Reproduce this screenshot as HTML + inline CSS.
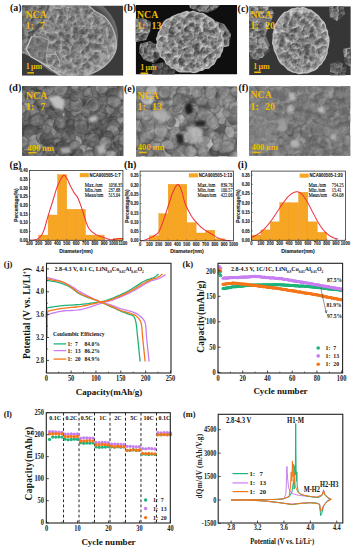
<!DOCTYPE html>
<html><head><meta charset="utf-8"><style>
html,body{margin:0;padding:0;background:#fff;}
body{width:356px;height:550px;overflow:hidden;position:relative;}
svg{position:absolute;left:0;top:0;display:block;}
.gr{fill:url(#gl);stroke:#505050;stroke-width:0.9}
.gg{fill:url(#rg);stroke:#3c3c3c;stroke-width:0.6;stroke-opacity:0.7}
.gh{fill:url(#rg);stroke:#444;stroke-width:0.5;stroke-opacity:0.35}
</style></head><body>
<svg width="356" height="550" viewBox="0 0 356 550">
<defs><filter id="ts" x="0" y="0" width="1" height="1" color-interpolation-filters="sRGB">
<feTurbulence type="fractalNoise" baseFrequency="0.2" numOctaves="4" seed="5" result="n"/>
<feColorMatrix in="n" type="matrix" values="0 0 0 0 0  0 0 0 0 0  0 0 0 0 0  2.0 0 0 0 -0.5" result="a"/>
<feDiffuseLighting in="a" surfaceScale="1.7" diffuseConstant="1.6" lighting-color="#fff" result="l"><feDistantLight azimuth="225" elevation="50"/></feDiffuseLighting>
<feColorMatrix in="n" type="matrix" values="1.6 0 0 0 -0.3  1.6 0 0 0 -0.3  1.6 0 0 0 -0.3  0 0 0 0 1" result="g"/>
<feBlend in="l" in2="g" mode="multiply" result="m"/>
<feGaussianBlur in="m" stdDeviation="0.35"/>
<feComposite in2="SourceAlpha" operator="in"/>
</filter>
<filter id="ts2" x="0" y="0" width="1" height="1" color-interpolation-filters="sRGB">
<feTurbulence type="fractalNoise" baseFrequency="0.2" numOctaves="4" seed="8" result="n"/>
<feColorMatrix in="n" type="matrix" values="0 0 0 0 0  0 0 0 0 0  0 0 0 0 0  2.0 0 0 0 -0.5" result="a"/>
<feDiffuseLighting in="a" surfaceScale="2.2" diffuseConstant="1.6" lighting-color="#fff" result="l"><feDistantLight azimuth="225" elevation="50"/></feDiffuseLighting>
<feColorMatrix in="n" type="matrix" values="1.3 0 0 0 -0.15  1.3 0 0 0 -0.15  1.3 0 0 0 -0.15  0 0 0 0 1" result="g"/>
<feBlend in="l" in2="g" mode="multiply" result="m"/>
<feGaussianBlur in="m" stdDeviation="0.3"/>
<feComposite in2="SourceAlpha" operator="in"/>
</filter>
<filter id="tg" x="0" y="0" width="1" height="1" color-interpolation-filters="sRGB">
<feTurbulence type="fractalNoise" baseFrequency="0.12" numOctaves="3" seed="9" result="n"/>
<feColorMatrix in="n" type="matrix" values="0 0 0 0 0  0 0 0 0 0  0 0 0 0 0  2.0 0 0 0 -0.5" result="a"/>
<feDiffuseLighting in="a" surfaceScale="2.0" diffuseConstant="1.0" lighting-color="#fff" result="l"><feDistantLight azimuth="235" elevation="55"/></feDiffuseLighting>
<feColorMatrix in="n" type="matrix" values="1.6 0 0 0 -0.2  1.6 0 0 0 -0.2  1.6 0 0 0 -0.2  0 0 0 0 1" result="g"/>
<feBlend in="l" in2="g" mode="multiply" result="m"/>
<feGaussianBlur in="m" stdDeviation="0.5"/>
<feComposite in2="SourceAlpha" operator="in"/>
</filter>
<filter id="tg2" x="0" y="0" width="1" height="1" color-interpolation-filters="sRGB">
<feTurbulence type="fractalNoise" baseFrequency="0.1" numOctaves="3" seed="12" result="n"/>
<feColorMatrix in="n" type="matrix" values="0 0 0 0 0  0 0 0 0 0  0 0 0 0 0  2.0 0 0 0 -0.5" result="a"/>
<feDiffuseLighting in="a" surfaceScale="2.2" diffuseConstant="1.0" lighting-color="#fff" result="l"><feDistantLight azimuth="235" elevation="55"/></feDiffuseLighting>
<feColorMatrix in="n" type="matrix" values="1.6 0 0 0 -0.2  1.6 0 0 0 -0.2  1.6 0 0 0 -0.2  0 0 0 0 1" result="g"/>
<feBlend in="l" in2="g" mode="multiply" result="m"/>
<feGaussianBlur in="m" stdDeviation="0.5"/>
<feComposite in2="SourceAlpha" operator="in"/>
</filter>
<filter id="tg3" x="0" y="0" width="1" height="1" color-interpolation-filters="sRGB">
<feTurbulence type="fractalNoise" baseFrequency="0.14" numOctaves="3" seed="14" result="n"/>
<feColorMatrix in="n" type="matrix" values="0 0 0 0 0  0 0 0 0 0  0 0 0 0 0  2.0 0 0 0 -0.5" result="a"/>
<feDiffuseLighting in="a" surfaceScale="1.8" diffuseConstant="1.0" lighting-color="#fff" result="l"><feDistantLight azimuth="235" elevation="55"/></feDiffuseLighting>
<feColorMatrix in="n" type="matrix" values="1.8 0 0 0 -0.3  1.8 0 0 0 -0.3  1.8 0 0 0 -0.3  0 0 0 0 1" result="g"/>
<feBlend in="l" in2="g" mode="multiply" result="m"/>
<feGaussianBlur in="m" stdDeviation="0.45"/>
<feComposite in2="SourceAlpha" operator="in"/>
</filter>
<radialGradient id="sphg" cx="0.5" cy="0.5" r="0.5"><stop offset="0" stop-color="#000" stop-opacity="0.12"/><stop offset="0.7" stop-color="#000" stop-opacity="0"/><stop offset="0.92" stop-color="#fff" stop-opacity="0.18"/><stop offset="1" stop-color="#fff" stop-opacity="0.28"/></radialGradient>
<radialGradient id="rg" cx="0.4" cy="0.38" r="0.65"><stop offset="0" stop-color="#fff" stop-opacity="0.12"/><stop offset="0.65" stop-color="#000" stop-opacity="0"/><stop offset="1" stop-color="#000" stop-opacity="0.3"/></radialGradient>
<linearGradient id="gl" x1="0.1" y1="0" x2="0.9" y2="1"><stop offset="0" stop-color="#fff" stop-opacity="0.45"/><stop offset="0.45" stop-color="#888" stop-opacity="0"/><stop offset="1" stop-color="#000" stop-opacity="0.45"/></linearGradient>
<filter id="sb" x="0" y="0" width="1" height="1"><feGaussianBlur stdDeviation="0.5"/></filter>
<filter id="bl" x="-20%" y="-20%" width="140%" height="140%"><feGaussianBlur stdDeviation="0.5"/></filter>
<filter id="bl2" x="-20%" y="-20%" width="140%" height="140%"><feGaussianBlur stdDeviation="1.3"/></filter>
<clipPath id="cpa"><rect x="22" y="5.5" width="101.3" height="70.2"/></clipPath>
<clipPath id="cpb"><rect x="135.7" y="5" width="101.5" height="69.5"/></clipPath>
<clipPath id="cpc"><rect x="249.1" y="6.2" width="101.7" height="69.1"/></clipPath>
<clipPath id="cpd"><rect x="22" y="86" width="101.4" height="69.9"/></clipPath>
<clipPath id="cpe"><rect x="136" y="86.3" width="101.2" height="70.2"/></clipPath>
<clipPath id="cpf"><rect x="249.1" y="86.3" width="101.2" height="69.4"/></clipPath></defs>
<g clip-path="url(#cpa)">
<path d="M22,5.5 L123.3,5.5 L123.3,75.7 L22,75.7 Z" fill="#3b3b3b"/>
<path d="M22.0,5.0 L86.0,3.0 L86.0,3.0 L87.0,3.9 L88.3,5.2 L89.9,6.7 L91.7,8.2 L93.4,9.7 L95.0,11.0 L96.6,12.0 L98.2,12.9 L99.8,13.7 L101.3,14.5 L102.8,15.4 L104.2,16.4 L105.4,17.5 L106.6,18.8 L107.7,20.1 L108.7,21.4 L109.6,22.8 L110.5,24.2 L111.3,25.6 L112.1,27.0 L112.8,28.5 L113.4,30.0 L114.0,31.6 L114.5,33.2 L115.0,35.0 L115.5,36.9 L115.9,38.9 L116.3,40.9 L116.5,42.8 L116.6,44.5 L116.6,46.1 L116.4,47.6 L116.1,49.0 L115.7,50.4 L115.3,51.7 L114.8,53.0 L114.3,54.3 L113.6,55.5 L112.9,56.6 L112.2,57.8 L111.4,58.9 L110.5,60.0 L109.6,61.1 L108.6,62.3 L107.5,63.4 L106.4,64.5 L105.2,65.5 L104.0,66.5 L102.8,67.4 L101.5,68.3 L100.2,69.2 L98.9,70.0 L97.5,70.7 L96.0,71.5 L94.4,72.2 L92.7,73.0 L91.0,73.7 L89.3,74.3 L87.6,74.9 L86.0,75.5 L84.5,76.0 L82.9,76.5 L81.4,77.0 L80.0,77.4 L78.8,77.7 L78.0,78.0 L62.0,76.0 L58.0,74.0 L50.0,68.5 L42.0,63.0 L30.5,56.5 L22.0,53.0 Z" fill="#939393" />
<path d="M22.0,5.0 L86.0,3.0 L86.0,3.0 L87.0,3.9 L88.3,5.2 L89.9,6.7 L91.7,8.2 L93.4,9.7 L95.0,11.0 L96.6,12.0 L98.2,12.9 L99.8,13.7 L101.3,14.5 L102.8,15.4 L104.2,16.4 L105.4,17.5 L106.6,18.8 L107.7,20.1 L108.7,21.4 L109.6,22.8 L110.5,24.2 L111.3,25.6 L112.1,27.0 L112.8,28.5 L113.4,30.0 L114.0,31.6 L114.5,33.2 L115.0,35.0 L115.5,36.9 L115.9,38.9 L116.3,40.9 L116.5,42.8 L116.6,44.5 L116.6,46.1 L116.4,47.6 L116.1,49.0 L115.7,50.4 L115.3,51.7 L114.8,53.0 L114.3,54.3 L113.6,55.5 L112.9,56.6 L112.2,57.8 L111.4,58.9 L110.5,60.0 L109.6,61.1 L108.6,62.3 L107.5,63.4 L106.4,64.5 L105.2,65.5 L104.0,66.5 L102.8,67.4 L101.5,68.3 L100.2,69.2 L98.9,70.0 L97.5,70.7 L96.0,71.5 L94.4,72.2 L92.7,73.0 L91.0,73.7 L89.3,74.3 L87.6,74.9 L86.0,75.5 L84.5,76.0 L82.9,76.5 L81.4,77.0 L80.0,77.4 L78.8,77.7 L78.0,78.0 L62.0,76.0 L58.0,74.0 L50.0,68.5 L42.0,63.0 L30.5,56.5 L22.0,53.0 Z" fill="#888" filter="url(#ts)" opacity="0.38"/>
<ellipse cx="74" cy="37" rx="44" ry="41" fill="url(#sphg)"/>
<path d="M22.0,5.0 L49.0,5.0 L40.0,26.0 L33.0,33.0 L30.0,45.0 L26.0,49.0 L22.0,51.0 Z" fill="#747474" />
<path d="M22.0,5.0 L49.0,5.0 L40.0,26.0 L33.0,33.0 L30.0,45.0 L26.0,49.0 L22.0,51.0 Z" fill="#888" filter="url(#ts2)" opacity="0.35"/>
<path d="M49,5 L40,26 L33,33 L30,45" fill="none" stroke="#4a4a4a" stroke-width="1.6" filter="url(#bl)" opacity="0.8"/>
<path d="M31.8,36.4 L41.7,37.0 L48.7,40.6 L46.0,57.5 L47.3,63.0 L42.0,63.0 L30.5,56.5 L26.2,49.0 Z" fill="#7a7a7a" />
<path d="M31.8,36.4 L41.7,37.0 L48.7,40.6 L46.0,57.5 L47.3,63.0 L42.0,63.0 L30.5,56.5 L26.2,49.0 Z" fill="#888" filter="url(#ts2)" opacity="0.2"/>
<path d="M31.8,36.4 L41.7,37 L48.7,40.6 L46,57.5 L47.3,63" fill="none" stroke="#a8a8a8" stroke-width="0.9" filter="url(#bl)"/>
<path d="M31.8,36.4 L26.2,49 L30.5,56.5 L42,63 L50,68.5 L58,74 L62,76" fill="none" stroke="#c4c4c4" stroke-width="1.3" filter="url(#bl)"/>
<path d="M46,55 L56,54 L60,62 L59,67" fill="none" stroke="#b8b8b8" stroke-width="0.9" filter="url(#bl)"/>
<path d="M86.0,3.0 L87.0,3.9 L88.3,5.2 L89.9,6.7 L91.7,8.2 L93.4,9.7 L95.0,11.0 L96.6,12.0 L98.2,12.9 L99.8,13.7 L101.3,14.5 L102.8,15.4 L104.2,16.4 L105.4,17.5 L106.6,18.8 L107.7,20.1 L108.7,21.4 L109.6,22.8 L110.5,24.2 L111.3,25.6 L112.1,27.0 L112.8,28.5 L113.4,30.0 L114.0,31.6 L114.5,33.2 L115.0,35.0 L115.5,36.9 L115.9,38.9 L116.3,40.9 L116.5,42.8 L116.6,44.5 L116.6,46.1 L116.4,47.6 L116.1,49.0 L115.7,50.4 L115.3,51.7 L114.8,53.0 L114.3,54.3 L113.6,55.5 L112.9,56.6 L112.2,57.8 L111.4,58.9 L110.5,60.0 L109.6,61.1 L108.6,62.3 L107.5,63.4 L106.4,64.5 L105.2,65.5 L104.0,66.5 L102.8,67.4 L101.5,68.3 L100.2,69.2 L98.9,70.0 L97.5,70.7 L96.0,71.5 L94.4,72.2 L92.7,73.0 L91.0,73.7 L89.3,74.3 L87.6,74.9 L86.0,75.5 L84.5,76.0 L82.9,76.5 L81.4,77.0 L80.0,77.4 L78.8,77.7 L78.0,78.0" fill="none" stroke="#b4b4b4" stroke-width="1.2" filter="url(#bl)"/>
<path d="M98,54 L104,52 L107,58 L101,62 Z" fill="#aaa" opacity="0.6" filter="url(#bl)"/>
</g>
<g clip-path="url(#cpb)">
<path d="M135.7,5 L237.2,5 L237.2,74.5 L135.7,74.5 Z" fill="#0f0f0f"/>
<path d="M135.0,19.0 L143.0,18.0 L151.0,22.0 L150.0,32.0 L146.0,40.0 L135.0,42.0 Z" fill="#7c7c7c" />
<path d="M135.0,19.0 L143.0,18.0 L151.0,22.0 L150.0,32.0 L146.0,40.0 L135.0,42.0 Z" fill="#888" filter="url(#ts2)" opacity="0.55"/>
<path d="M140.0,44.0 L150.0,41.0 L158.0,46.0 L161.0,56.0 L154.0,63.0 L144.0,60.0 L139.0,52.0 Z" fill="#7a7a7a" />
<path d="M140.0,44.0 L150.0,41.0 L158.0,46.0 L161.0,56.0 L154.0,63.0 L144.0,60.0 L139.0,52.0 Z" fill="#888" filter="url(#ts2)" opacity="0.55"/>
<path d="M189.0,4.0 L221.0,4.0 L216.0,9.0 L208.0,12.5 L199.0,11.5 L190.0,8.0 Z" fill="#707070" />
<path d="M189.0,4.0 L221.0,4.0 L216.0,9.0 L208.0,12.5 L199.0,11.5 L190.0,8.0 Z" fill="#888" filter="url(#ts2)" opacity="0.5"/>
<path d="M152.0,64.0 L166.0,62.0 L176.0,68.0 L174.0,76.0 L152.0,76.0 Z" fill="#3a3a3a" />
<path d="M152.0,64.0 L166.0,62.0 L176.0,68.0 L174.0,76.0 L152.0,76.0 Z" fill="#888" filter="url(#ts2)" opacity="0.3"/>
<path d="M212.0,20.0 L224.0,24.0 L231.0,34.0 L229.0,46.0 L220.0,48.0 L214.0,36.0 Z" fill="#7e7e7e" />
<path d="M212.0,20.0 L224.0,24.0 L231.0,34.0 L229.0,46.0 L220.0,48.0 L214.0,36.0 Z" fill="#888" filter="url(#ts2)" opacity="0.55"/>
<path d="M223.0,42.0 L223.1,45.0 L222.7,48.1 L222.2,51.1 L220.7,53.8 L219.7,56.7 L216.5,58.5 L215.3,61.3 L213.8,64.1 L211.0,65.8 L208.7,68.0 L205.1,68.3 L202.5,70.1 L199.4,70.7 L196.4,72.0 L193.2,72.5 L190.0,71.6 L186.8,71.8 L183.7,71.5 L180.2,71.9 L177.2,70.6 L174.9,68.3 L171.5,67.8 L169.6,65.1 L166.6,63.7 L165.2,60.9 L163.5,58.4 L160.4,56.7 L160.2,53.5 L159.1,50.7 L156.9,48.1 L156.6,45.1 L157.6,42.0 L156.5,38.9 L157.8,36.0 L158.3,33.1 L160.2,30.5 L160.3,27.2 L162.4,24.9 L163.9,22.1 L166.3,19.9 L169.4,18.7 L171.9,16.9 L174.8,15.6 L177.7,14.4 L180.7,13.6 L183.7,12.4 L186.8,11.5 L190.0,12.4 L193.2,11.3 L196.3,12.4 L199.4,13.1 L202.8,13.3 L205.4,15.1 L208.0,16.9 L210.8,18.4 L213.5,20.2 L214.7,23.2 L218.0,24.6 L218.1,28.0 L220.8,30.2 L222.0,33.0 L221.2,36.2 L223.2,39.0 Z" fill="#a0a0a0" />
<path d="M223.0,42.0 L223.1,45.0 L222.7,48.1 L222.2,51.1 L220.7,53.8 L219.7,56.7 L216.5,58.5 L215.3,61.3 L213.8,64.1 L211.0,65.8 L208.7,68.0 L205.1,68.3 L202.5,70.1 L199.4,70.7 L196.4,72.0 L193.2,72.5 L190.0,71.6 L186.8,71.8 L183.7,71.5 L180.2,71.9 L177.2,70.6 L174.9,68.3 L171.5,67.8 L169.6,65.1 L166.6,63.7 L165.2,60.9 L163.5,58.4 L160.4,56.7 L160.2,53.5 L159.1,50.7 L156.9,48.1 L156.6,45.1 L157.6,42.0 L156.5,38.9 L157.8,36.0 L158.3,33.1 L160.2,30.5 L160.3,27.2 L162.4,24.9 L163.9,22.1 L166.3,19.9 L169.4,18.7 L171.9,16.9 L174.8,15.6 L177.7,14.4 L180.7,13.6 L183.7,12.4 L186.8,11.5 L190.0,12.4 L193.2,11.3 L196.3,12.4 L199.4,13.1 L202.8,13.3 L205.4,15.1 L208.0,16.9 L210.8,18.4 L213.5,20.2 L214.7,23.2 L218.0,24.6 L218.1,28.0 L220.8,30.2 L222.0,33.0 L221.2,36.2 L223.2,39.0 Z" fill="#888" filter="url(#ts)" opacity="0.55"/>
<path d="M223.0,42.0 L223.1,45.0 L222.7,48.1 L222.2,51.1 L220.7,53.8 L219.7,56.7 L216.5,58.5 L215.3,61.3 L213.8,64.1 L211.0,65.8 L208.7,68.0 L205.1,68.3 L202.5,70.1 L199.4,70.7 L196.4,72.0 L193.2,72.5 L190.0,71.6 L186.8,71.8 L183.7,71.5 L180.2,71.9 L177.2,70.6 L174.9,68.3 L171.5,67.8 L169.6,65.1 L166.6,63.7 L165.2,60.9 L163.5,58.4 L160.4,56.7 L160.2,53.5 L159.1,50.7 L156.9,48.1 L156.6,45.1 L157.6,42.0 L156.5,38.9 L157.8,36.0 L158.3,33.1 L160.2,30.5 L160.3,27.2 L162.4,24.9 L163.9,22.1 L166.3,19.9 L169.4,18.7 L171.9,16.9 L174.8,15.6 L177.7,14.4 L180.7,13.6 L183.7,12.4 L186.8,11.5 L190.0,12.4 L193.2,11.3 L196.3,12.4 L199.4,13.1 L202.8,13.3 L205.4,15.1 L208.0,16.9 L210.8,18.4 L213.5,20.2 L214.7,23.2 L218.0,24.6 L218.1,28.0 L220.8,30.2 L222.0,33.0 L221.2,36.2 L223.2,39.0 Z" fill="url(#sphg)"/>
<path d="M223.0,42.0 L223.1,45.0 L222.7,48.1 L222.2,51.1 L220.7,53.8 L219.7,56.7 L216.5,58.5 L215.3,61.3 L213.8,64.1 L211.0,65.8 L208.7,68.0 L205.1,68.3 L202.5,70.1 L199.4,70.7 L196.4,72.0 L193.2,72.5 L190.0,71.6 L186.8,71.8 L183.7,71.5 L180.2,71.9 L177.2,70.6 L174.9,68.3 L171.5,67.8 L169.6,65.1 L166.6,63.7 L165.2,60.9 L163.5,58.4 L160.4,56.7 L160.2,53.5 L159.1,50.7 L156.9,48.1 L156.6,45.1 L157.6,42.0 L156.5,38.9 L157.8,36.0 L158.3,33.1 L160.2,30.5 L160.3,27.2 L162.4,24.9 L163.9,22.1 L166.3,19.9 L169.4,18.7 L171.9,16.9 L174.8,15.6 L177.7,14.4 L180.7,13.6 L183.7,12.4 L186.8,11.5 L190.0,12.4 L193.2,11.3 L196.3,12.4 L199.4,13.1 L202.8,13.3 L205.4,15.1 L208.0,16.9 L210.8,18.4 L213.5,20.2 L214.7,23.2 L218.0,24.6 L218.1,28.0 L220.8,30.2 L222.0,33.0 L221.2,36.2 L223.2,39.0 Z" fill="none" stroke="#b8b8b8" stroke-width="1.3" filter="url(#bl)"/>
</g>
<g clip-path="url(#cpc)">
<path d="M249.1,6.2 L350.8,6.2 L350.8,75.3 L249.1,75.3 Z" fill="#363636"/>
<path d="M248.0,5.0 L270.0,5.0 L274.0,14.0 L268.0,28.0 L264.0,40.0 L270.0,50.0 L262.0,58.0 L248.0,58.0 Z" fill="#8c8c8c" />
<path d="M248.0,5.0 L270.0,5.0 L274.0,14.0 L268.0,28.0 L264.0,40.0 L270.0,50.0 L262.0,58.0 L248.0,58.0 Z" fill="#888" filter="url(#ts2)" opacity="0.55"/>
<path d="M252.0,44.0 L262.0,42.0 L266.0,52.0 L258.0,60.0 L250.0,58.0 Z" fill="#7a7a7a" />
<path d="M252.0,44.0 L262.0,42.0 L266.0,52.0 L258.0,60.0 L250.0,58.0 Z" fill="#888" filter="url(#ts2)" opacity="0.5"/>
<path d="M329.0,5.0 L343.0,5.0 L345.0,14.0 L337.0,21.0 L330.0,17.0 Z" fill="#707070" />
<path d="M329.0,5.0 L343.0,5.0 L345.0,14.0 L337.0,21.0 L330.0,17.0 Z" fill="#888" filter="url(#ts2)" opacity="0.5"/>
<path d="M343.0,49.0 L352.0,47.0 L352.0,67.0 L345.0,64.0 Z" fill="#808080" />
<path d="M343.0,49.0 L352.0,47.0 L352.0,67.0 L345.0,64.0 Z" fill="#888" filter="url(#ts2)" opacity="0.5"/>
<path d="M330.0,64.0 L339.0,61.0 L347.0,67.0 L345.0,77.0 L330.0,77.0 Z" fill="#505050" />
<path d="M330.0,64.0 L339.0,61.0 L347.0,67.0 L345.0,77.0 L330.0,77.0 Z" fill="#888" filter="url(#ts2)" opacity="0.4"/>
<path d="M258,40 L266,36 L270,46 L262,50 Z" fill="#aaa" opacity="0.5" filter="url(#bl)"/>
<path d="M328.8,37.6 L329.0,40.8 L328.6,44.0 L328.0,47.1 L327.1,50.1 L327.0,53.4 L325.7,56.2 L324.6,59.1 L322.7,61.4 L321.2,64.1 L318.8,65.8 L317.1,68.2 L314.7,69.8 L312.1,70.8 L309.6,72.0 L307.0,72.9 L304.2,72.7 L301.5,73.3 L298.7,73.5 L296.1,72.3 L293.3,72.1 L290.7,70.9 L288.1,69.6 L286.0,67.4 L284.0,65.2 L281.4,63.7 L279.5,61.3 L278.1,58.4 L277.0,55.4 L275.6,52.6 L274.2,49.8 L273.8,46.5 L272.7,43.5 L272.9,40.2 L273.3,37.0 L273.2,33.8 L274.1,30.8 L274.4,27.5 L275.5,24.5 L277.2,22.0 L278.7,19.4 L280.5,16.9 L282.4,14.7 L284.4,12.6 L287.3,12.0 L289.6,10.3 L292.0,8.9 L294.7,8.6 L297.4,7.8 L300.1,8.3 L302.9,7.4 L305.5,8.4 L308.1,9.7 L310.9,10.2 L313.2,12.0 L315.5,13.8 L317.9,15.4 L319.7,17.9 L321.6,20.2 L323.9,22.3 L325.2,25.2 L325.8,28.5 L327.5,31.2 L327.5,34.5 Z" fill="#a0a0a0" />
<path d="M328.8,37.6 L329.0,40.8 L328.6,44.0 L328.0,47.1 L327.1,50.1 L327.0,53.4 L325.7,56.2 L324.6,59.1 L322.7,61.4 L321.2,64.1 L318.8,65.8 L317.1,68.2 L314.7,69.8 L312.1,70.8 L309.6,72.0 L307.0,72.9 L304.2,72.7 L301.5,73.3 L298.7,73.5 L296.1,72.3 L293.3,72.1 L290.7,70.9 L288.1,69.6 L286.0,67.4 L284.0,65.2 L281.4,63.7 L279.5,61.3 L278.1,58.4 L277.0,55.4 L275.6,52.6 L274.2,49.8 L273.8,46.5 L272.7,43.5 L272.9,40.2 L273.3,37.0 L273.2,33.8 L274.1,30.8 L274.4,27.5 L275.5,24.5 L277.2,22.0 L278.7,19.4 L280.5,16.9 L282.4,14.7 L284.4,12.6 L287.3,12.0 L289.6,10.3 L292.0,8.9 L294.7,8.6 L297.4,7.8 L300.1,8.3 L302.9,7.4 L305.5,8.4 L308.1,9.7 L310.9,10.2 L313.2,12.0 L315.5,13.8 L317.9,15.4 L319.7,17.9 L321.6,20.2 L323.9,22.3 L325.2,25.2 L325.8,28.5 L327.5,31.2 L327.5,34.5 Z" fill="#888" filter="url(#ts)" opacity="0.5"/>
<path d="M328.8,37.6 L329.0,40.8 L328.6,44.0 L328.0,47.1 L327.1,50.1 L327.0,53.4 L325.7,56.2 L324.6,59.1 L322.7,61.4 L321.2,64.1 L318.8,65.8 L317.1,68.2 L314.7,69.8 L312.1,70.8 L309.6,72.0 L307.0,72.9 L304.2,72.7 L301.5,73.3 L298.7,73.5 L296.1,72.3 L293.3,72.1 L290.7,70.9 L288.1,69.6 L286.0,67.4 L284.0,65.2 L281.4,63.7 L279.5,61.3 L278.1,58.4 L277.0,55.4 L275.6,52.6 L274.2,49.8 L273.8,46.5 L272.7,43.5 L272.9,40.2 L273.3,37.0 L273.2,33.8 L274.1,30.8 L274.4,27.5 L275.5,24.5 L277.2,22.0 L278.7,19.4 L280.5,16.9 L282.4,14.7 L284.4,12.6 L287.3,12.0 L289.6,10.3 L292.0,8.9 L294.7,8.6 L297.4,7.8 L300.1,8.3 L302.9,7.4 L305.5,8.4 L308.1,9.7 L310.9,10.2 L313.2,12.0 L315.5,13.8 L317.9,15.4 L319.7,17.9 L321.6,20.2 L323.9,22.3 L325.2,25.2 L325.8,28.5 L327.5,31.2 L327.5,34.5 Z" fill="url(#sphg)"/>
<path d="M328.8,37.6 L329.0,40.8 L328.6,44.0 L328.0,47.1 L327.1,50.1 L327.0,53.4 L325.7,56.2 L324.6,59.1 L322.7,61.4 L321.2,64.1 L318.8,65.8 L317.1,68.2 L314.7,69.8 L312.1,70.8 L309.6,72.0 L307.0,72.9 L304.2,72.7 L301.5,73.3 L298.7,73.5 L296.1,72.3 L293.3,72.1 L290.7,70.9 L288.1,69.6 L286.0,67.4 L284.0,65.2 L281.4,63.7 L279.5,61.3 L278.1,58.4 L277.0,55.4 L275.6,52.6 L274.2,49.8 L273.8,46.5 L272.7,43.5 L272.9,40.2 L273.3,37.0 L273.2,33.8 L274.1,30.8 L274.4,27.5 L275.5,24.5 L277.2,22.0 L278.7,19.4 L280.5,16.9 L282.4,14.7 L284.4,12.6 L287.3,12.0 L289.6,10.3 L292.0,8.9 L294.7,8.6 L297.4,7.8 L300.1,8.3 L302.9,7.4 L305.5,8.4 L308.1,9.7 L310.9,10.2 L313.2,12.0 L315.5,13.8 L317.9,15.4 L319.7,17.9 L321.6,20.2 L323.9,22.3 L325.2,25.2 L325.8,28.5 L327.5,31.2 L327.5,34.5 Z" fill="none" stroke="#c0c0c0" stroke-width="1.3" filter="url(#bl)"/>
</g>
<g clip-path="url(#cpd)">
<path d="M22,86 L123.4,86 L123.4,155.9 L22,155.9 Z" fill="#5e5e5e"/>
<g filter="url(#sb)"><ellipse rx="5.9" ry="4.4" transform="translate(44.4 90.8) rotate(165)" fill="#808080"/><ellipse rx="5.9" ry="4.4" transform="translate(44.4 90.8) rotate(165)" class="gg"/><ellipse rx="5.3" ry="4.7" transform="translate(105.0 141.1) rotate(49)" fill="#777777"/><ellipse rx="5.3" ry="4.7" transform="translate(105.0 141.1) rotate(49)" class="gg"/><ellipse rx="5.3" ry="5.4" transform="translate(37.5 91.1) rotate(144)" fill="#7f7f7f"/><ellipse rx="5.3" ry="5.4" transform="translate(37.5 91.1) rotate(144)" class="gg"/><ellipse rx="6.7" ry="6.4" transform="translate(39.8 106.5) rotate(153)" fill="#535353"/><ellipse rx="6.7" ry="6.4" transform="translate(39.8 106.5) rotate(153)" class="gg"/><ellipse rx="6.6" ry="6.2" transform="translate(113.5 89.6) rotate(85)" fill="#646464"/><ellipse rx="6.6" ry="6.2" transform="translate(113.5 89.6) rotate(85)" class="gg"/><ellipse rx="7.5" ry="6.7" transform="translate(28.6 153.9) rotate(54)" fill="#6f6f6f"/><ellipse rx="7.5" ry="6.7" transform="translate(28.6 153.9) rotate(54)" class="gg"/><ellipse rx="7.6" ry="7.6" transform="translate(116.6 126.4) rotate(107)" fill="#5d5d5d"/><ellipse rx="7.6" ry="7.6" transform="translate(116.6 126.4) rotate(107)" class="gg"/><ellipse rx="5.6" ry="5.5" transform="translate(65.3 95.2) rotate(7)" fill="#6f6f6f"/><ellipse rx="5.6" ry="5.5" transform="translate(65.3 95.2) rotate(7)" class="gg"/><ellipse rx="5.5" ry="4.9" transform="translate(24.0 130.5) rotate(179)" fill="#5f5f5f"/><ellipse rx="5.5" ry="4.9" transform="translate(24.0 130.5) rotate(179)" class="gg"/><ellipse rx="5.2" ry="4.8" transform="translate(40.0 114.3) rotate(49)" fill="#727272"/><ellipse rx="5.2" ry="4.8" transform="translate(40.0 114.3) rotate(49)" class="gg"/><ellipse rx="5.6" ry="5.0" transform="translate(57.2 139.7) rotate(11)" fill="#767676"/><ellipse rx="5.6" ry="5.0" transform="translate(57.2 139.7) rotate(11)" class="gg"/><ellipse rx="6.7" ry="5.2" transform="translate(43.6 141.1) rotate(59)" fill="#6b6b6b"/><ellipse rx="6.7" ry="5.2" transform="translate(43.6 141.1) rotate(59)" class="gg"/><ellipse rx="4.6" ry="4.4" transform="translate(38.1 117.8) rotate(132)" fill="#939393"/><ellipse rx="4.6" ry="4.4" transform="translate(38.1 117.8) rotate(132)" class="gg"/><ellipse rx="5.5" ry="5.7" transform="translate(122.1 84.4) rotate(139)" fill="#545454"/><ellipse rx="5.5" ry="5.7" transform="translate(122.1 84.4) rotate(139)" class="gg"/><ellipse rx="6.7" ry="6.6" transform="translate(63.1 154.6) rotate(79)" fill="#6c6c6c"/><ellipse rx="6.7" ry="6.6" transform="translate(63.1 154.6) rotate(79)" class="gg"/><ellipse rx="7.9" ry="6.4" transform="translate(33.7 112.0) rotate(1)" fill="#7b7b7b"/><ellipse rx="7.9" ry="6.4" transform="translate(33.7 112.0) rotate(1)" class="gg"/><ellipse rx="7.2" ry="6.0" transform="translate(23.8 95.9) rotate(176)" fill="#6d6d6d"/><ellipse rx="7.2" ry="6.0" transform="translate(23.8 95.9) rotate(176)" class="gg"/><ellipse rx="4.7" ry="3.4" transform="translate(64.5 98.8) rotate(30)" fill="#777777"/><ellipse rx="4.7" ry="3.4" transform="translate(64.5 98.8) rotate(30)" class="gg"/><ellipse rx="4.6" ry="4.0" transform="translate(91.7 94.4) rotate(22)" fill="#707070"/><ellipse rx="4.6" ry="4.0" transform="translate(91.7 94.4) rotate(22)" class="gg"/><ellipse rx="5.9" ry="6.2" transform="translate(75.8 141.7) rotate(85)" fill="#aeaeae"/><ellipse rx="5.9" ry="6.2" transform="translate(75.8 141.7) rotate(85)" class="gg"/><ellipse rx="4.6" ry="3.9" transform="translate(45.0 114.2) rotate(149)" fill="#707070"/><ellipse rx="4.6" ry="3.9" transform="translate(45.0 114.2) rotate(149)" class="gg"/><ellipse rx="5.4" ry="4.2" transform="translate(72.5 85.4) rotate(37)" fill="#959595"/><ellipse rx="5.4" ry="4.2" transform="translate(72.5 85.4) rotate(37)" class="gg"/><ellipse rx="5.0" ry="3.6" transform="translate(43.9 149.0) rotate(178)" fill="#848484"/><ellipse rx="5.0" ry="3.6" transform="translate(43.9 149.0) rotate(178)" class="gg"/><ellipse rx="6.8" ry="6.6" transform="translate(62.3 151.4) rotate(134)" fill="#656565"/><ellipse rx="6.8" ry="6.6" transform="translate(62.3 151.4) rotate(134)" class="gg"/><ellipse rx="5.2" ry="5.3" transform="translate(72.1 90.1) rotate(60)" fill="#919191"/><ellipse rx="5.2" ry="5.3" transform="translate(72.1 90.1) rotate(60)" class="gg"/><ellipse rx="6.7" ry="6.6" transform="translate(89.6 143.7) rotate(95)" fill="#575757"/><ellipse rx="6.7" ry="6.6" transform="translate(89.6 143.7) rotate(95)" class="gg"/><ellipse rx="5.4" ry="5.6" transform="translate(89.3 135.1) rotate(174)" fill="#767676"/><ellipse rx="5.4" ry="5.6" transform="translate(89.3 135.1) rotate(174)" class="gg"/><ellipse rx="4.7" ry="4.7" transform="translate(122.3 133.7) rotate(22)" fill="#6e6e6e"/><ellipse rx="4.7" ry="4.7" transform="translate(122.3 133.7) rotate(22)" class="gg"/><ellipse rx="4.7" ry="3.6" transform="translate(123.0 133.6) rotate(134)" fill="#606060"/><ellipse rx="4.7" ry="3.6" transform="translate(123.0 133.6) rotate(134)" class="gg"/><ellipse rx="4.5" ry="4.6" transform="translate(118.6 99.6) rotate(2)" fill="#5e5e5e"/><ellipse rx="4.5" ry="4.6" transform="translate(118.6 99.6) rotate(2)" class="gg"/><ellipse rx="7.3" ry="7.1" transform="translate(113.1 91.8) rotate(158)" fill="#808080"/><ellipse rx="7.3" ry="7.1" transform="translate(113.1 91.8) rotate(158)" class="gg"/><ellipse rx="5.7" ry="5.7" transform="translate(40.7 134.0) rotate(139)" fill="#606060"/><ellipse rx="5.7" ry="5.7" transform="translate(40.7 134.0) rotate(139)" class="gg"/><ellipse rx="4.6" ry="3.3" transform="translate(69.6 123.0) rotate(155)" fill="#5e5e5e"/><ellipse rx="4.6" ry="3.3" transform="translate(69.6 123.0) rotate(155)" class="gg"/><ellipse rx="5.8" ry="5.6" transform="translate(84.3 93.5) rotate(94)" fill="#646464"/><ellipse rx="5.8" ry="5.6" transform="translate(84.3 93.5) rotate(94)" class="gg"/><ellipse rx="7.4" ry="5.4" transform="translate(20.1 146.6) rotate(141)" fill="#5f5f5f"/><ellipse rx="7.4" ry="5.4" transform="translate(20.1 146.6) rotate(141)" class="gg"/><ellipse rx="6.2" ry="6.4" transform="translate(52.4 100.7) rotate(17)" fill="#6b6b6b"/><ellipse rx="6.2" ry="6.4" transform="translate(52.4 100.7) rotate(17)" class="gg"/><ellipse rx="7.6" ry="6.7" transform="translate(31.3 130.1) rotate(139)" fill="#4f4f4f"/><ellipse rx="7.6" ry="6.7" transform="translate(31.3 130.1) rotate(139)" class="gg"/><ellipse rx="5.2" ry="4.2" transform="translate(26.2 149.9) rotate(150)" fill="#7e7e7e"/><ellipse rx="5.2" ry="4.2" transform="translate(26.2 149.9) rotate(150)" class="gg"/><ellipse rx="5.1" ry="5.1" transform="translate(64.4 143.6) rotate(88)" fill="#747474"/><ellipse rx="5.1" ry="5.1" transform="translate(64.4 143.6) rotate(88)" class="gg"/><ellipse rx="7.7" ry="7.3" transform="translate(55.4 124.1) rotate(1)" fill="#797979"/><ellipse rx="7.7" ry="7.3" transform="translate(55.4 124.1) rotate(1)" class="gg"/><ellipse rx="6.2" ry="5.9" transform="translate(52.5 124.4) rotate(44)" fill="#686868"/><ellipse rx="6.2" ry="5.9" transform="translate(52.5 124.4) rotate(44)" class="gg"/><ellipse rx="7.2" ry="7.5" transform="translate(110.0 110.1) rotate(112)" fill="#707070"/><ellipse rx="7.2" ry="7.5" transform="translate(110.0 110.1) rotate(112)" class="gg"/><ellipse rx="5.6" ry="5.7" transform="translate(91.7 129.3) rotate(55)" fill="#494949"/><ellipse rx="5.6" ry="5.7" transform="translate(91.7 129.3) rotate(55)" class="gg"/><ellipse rx="6.6" ry="5.7" transform="translate(112.2 142.7) rotate(25)" fill="#787878"/><ellipse rx="6.6" ry="5.7" transform="translate(112.2 142.7) rotate(25)" class="gg"/><ellipse rx="6.8" ry="5.1" transform="translate(101.8 110.5) rotate(145)" fill="#787878"/><ellipse rx="6.8" ry="5.1" transform="translate(101.8 110.5) rotate(145)" class="gg"/><ellipse rx="5.8" ry="5.2" transform="translate(38.1 151.5) rotate(63)" fill="#747474"/><ellipse rx="5.8" ry="5.2" transform="translate(38.1 151.5) rotate(63)" class="gg"/><ellipse rx="5.9" ry="6.1" transform="translate(85.7 90.1) rotate(58)" fill="#7b7b7b"/><ellipse rx="5.9" ry="6.1" transform="translate(85.7 90.1) rotate(58)" class="gg"/><ellipse rx="4.6" ry="4.7" transform="translate(51.3 84.8) rotate(149)" fill="#878787"/><ellipse rx="4.6" ry="4.7" transform="translate(51.3 84.8) rotate(149)" class="gg"/><ellipse rx="7.8" ry="5.9" transform="translate(105.0 144.3) rotate(103)" fill="#5d5d5d"/><ellipse rx="7.8" ry="5.9" transform="translate(105.0 144.3) rotate(103)" class="gg"/><ellipse rx="7.9" ry="5.8" transform="translate(119.7 140.7) rotate(117)" fill="#656565"/><ellipse rx="7.9" ry="5.8" transform="translate(119.7 140.7) rotate(117)" class="gg"/><ellipse rx="6.7" ry="6.6" transform="translate(91.5 139.6) rotate(73)" fill="#626262"/><ellipse rx="6.7" ry="6.6" transform="translate(91.5 139.6) rotate(73)" class="gg"/><ellipse rx="7.0" ry="5.6" transform="translate(83.3 151.1) rotate(41)" fill="#979797"/><ellipse rx="7.0" ry="5.6" transform="translate(83.3 151.1) rotate(41)" class="gg"/><ellipse rx="8.0" ry="8.1" transform="translate(54.1 130.6) rotate(147)" fill="#616161"/><ellipse rx="8.0" ry="8.1" transform="translate(54.1 130.6) rotate(147)" class="gg"/><ellipse rx="4.5" ry="3.5" transform="translate(49.5 114.2) rotate(97)" fill="#7a7a7a"/><ellipse rx="4.5" ry="3.5" transform="translate(49.5 114.2) rotate(97)" class="gg"/><ellipse rx="5.8" ry="6.0" transform="translate(93.5 129.7) rotate(12)" fill="#686868"/><ellipse rx="5.8" ry="6.0" transform="translate(93.5 129.7) rotate(12)" class="gg"/><ellipse rx="7.7" ry="7.0" transform="translate(123.6 158.0) rotate(56)" fill="#686868"/><ellipse rx="7.7" ry="7.0" transform="translate(123.6 158.0) rotate(56)" class="gg"/><ellipse rx="5.3" ry="5.4" transform="translate(28.8 102.6) rotate(26)" fill="#888888"/><ellipse rx="5.3" ry="5.4" transform="translate(28.8 102.6) rotate(26)" class="gg"/><ellipse rx="7.8" ry="5.9" transform="translate(44.6 105.7) rotate(142)" fill="#5c5c5c"/><ellipse rx="7.8" ry="5.9" transform="translate(44.6 105.7) rotate(142)" class="gg"/><ellipse rx="7.9" ry="6.2" transform="translate(92.1 124.5) rotate(17)" fill="#656565"/><ellipse rx="7.9" ry="6.2" transform="translate(92.1 124.5) rotate(17)" class="gg"/><ellipse rx="4.9" ry="3.6" transform="translate(22.4 107.0) rotate(178)" fill="#6e6e6e"/><ellipse rx="4.9" ry="3.6" transform="translate(22.4 107.0) rotate(178)" class="gg"/><ellipse rx="7.0" ry="6.7" transform="translate(50.0 150.6) rotate(158)" fill="#575757"/><ellipse rx="7.0" ry="6.7" transform="translate(50.0 150.6) rotate(158)" class="gg"/><ellipse rx="6.9" ry="6.6" transform="translate(96.3 125.5) rotate(99)" fill="#4b4b4b"/><ellipse rx="6.9" ry="6.6" transform="translate(96.3 125.5) rotate(99)" class="gg"/><ellipse rx="7.5" ry="6.5" transform="translate(73.0 94.7) rotate(157)" fill="#797979"/><ellipse rx="7.5" ry="6.5" transform="translate(73.0 94.7) rotate(157)" class="gg"/><ellipse rx="6.9" ry="6.9" transform="translate(46.5 112.7) rotate(59)" fill="#747474"/><ellipse rx="6.9" ry="6.9" transform="translate(46.5 112.7) rotate(59)" class="gg"/><ellipse rx="4.6" ry="4.6" transform="translate(60.5 115.1) rotate(27)" fill="#9d9d9d"/><ellipse rx="4.6" ry="4.6" transform="translate(60.5 115.1) rotate(27)" class="gg"/><ellipse rx="7.4" ry="5.8" transform="translate(35.8 147.4) rotate(99)" fill="#757575"/><ellipse rx="7.4" ry="5.8" transform="translate(35.8 147.4) rotate(99)" class="gg"/><ellipse rx="5.1" ry="5.1" transform="translate(70.2 137.5) rotate(165)" fill="#8c8c8c"/><ellipse rx="5.1" ry="5.1" transform="translate(70.2 137.5) rotate(165)" class="gg"/><ellipse rx="7.5" ry="7.4" transform="translate(119.6 111.8) rotate(105)" fill="#6f6f6f"/><ellipse rx="7.5" ry="7.4" transform="translate(119.6 111.8) rotate(105)" class="gg"/><ellipse rx="7.7" ry="6.2" transform="translate(30.5 130.0) rotate(108)" fill="#585858"/><ellipse rx="7.7" ry="6.2" transform="translate(30.5 130.0) rotate(108)" class="gg"/><ellipse rx="5.4" ry="5.4" transform="translate(23.0 131.0) rotate(119)" fill="#515151"/><ellipse rx="5.4" ry="5.4" transform="translate(23.0 131.0) rotate(119)" class="gg"/><ellipse rx="6.7" ry="5.5" transform="translate(52.0 151.0) rotate(160)" fill="#838383"/><ellipse rx="6.7" ry="5.5" transform="translate(52.0 151.0) rotate(160)" class="gg"/><ellipse rx="6.9" ry="6.3" transform="translate(113.9 133.0) rotate(94)" fill="#4f4f4f"/><ellipse rx="6.9" ry="6.3" transform="translate(113.9 133.0) rotate(94)" class="gg"/><ellipse rx="4.8" ry="4.5" transform="translate(125.1 109.8) rotate(107)" fill="#595959"/><ellipse rx="4.8" ry="4.5" transform="translate(125.1 109.8) rotate(107)" class="gg"/><ellipse rx="4.7" ry="4.6" transform="translate(45.8 98.2) rotate(163)" fill="#707070"/><ellipse rx="4.7" ry="4.6" transform="translate(45.8 98.2) rotate(163)" class="gg"/><ellipse rx="7.9" ry="7.8" transform="translate(93.8 91.9) rotate(151)" fill="#6f6f6f"/><ellipse rx="7.9" ry="7.8" transform="translate(93.8 91.9) rotate(151)" class="gg"/><ellipse rx="4.6" ry="4.4" transform="translate(85.9 130.2) rotate(6)" fill="#6f6f6f"/><ellipse rx="4.6" ry="4.4" transform="translate(85.9 130.2) rotate(6)" class="gg"/><ellipse rx="5.8" ry="5.8" transform="translate(70.3 94.0) rotate(53)" fill="#6f6f6f"/><ellipse rx="5.8" ry="5.8" transform="translate(70.3 94.0) rotate(53)" class="gg"/><ellipse rx="4.6" ry="3.9" transform="translate(60.7 128.9) rotate(175)" fill="#4e4e4e"/><ellipse rx="4.6" ry="3.9" transform="translate(60.7 128.9) rotate(175)" class="gg"/><ellipse rx="5.5" ry="5.2" transform="translate(100.0 148.5) rotate(78)" fill="#767676"/><ellipse rx="5.5" ry="5.2" transform="translate(100.0 148.5) rotate(78)" class="gg"/><ellipse rx="7.6" ry="7.8" transform="translate(37.8 84.4) rotate(49)" fill="#545454"/><ellipse rx="7.6" ry="7.8" transform="translate(37.8 84.4) rotate(49)" class="gg"/><ellipse rx="6.7" ry="6.7" transform="translate(100.2 113.9) rotate(46)" fill="#656565"/><ellipse rx="6.7" ry="6.7" transform="translate(100.2 113.9) rotate(46)" class="gg"/><ellipse rx="5.4" ry="4.3" transform="translate(73.9 85.3) rotate(164)" fill="#868686"/><ellipse rx="5.4" ry="4.3" transform="translate(73.9 85.3) rotate(164)" class="gg"/><ellipse rx="4.8" ry="5.0" transform="translate(33.2 140.6) rotate(38)" fill="#737373"/><ellipse rx="4.8" ry="5.0" transform="translate(33.2 140.6) rotate(38)" class="gg"/><ellipse rx="7.6" ry="6.7" transform="translate(119.2 133.8) rotate(20)" fill="#767676"/><ellipse rx="7.6" ry="6.7" transform="translate(119.2 133.8) rotate(20)" class="gg"/><ellipse rx="8.0" ry="6.0" transform="translate(55.6 117.6) rotate(20)" fill="#717171"/><ellipse rx="8.0" ry="6.0" transform="translate(55.6 117.6) rotate(20)" class="gg"/><ellipse rx="6.5" ry="6.0" transform="translate(123.3 105.5) rotate(163)" fill="#929292"/><ellipse rx="6.5" ry="6.0" transform="translate(123.3 105.5) rotate(163)" class="gg"/><ellipse rx="5.1" ry="4.9" transform="translate(27.1 147.3) rotate(32)" fill="#8e8e8e"/><ellipse rx="5.1" ry="4.9" transform="translate(27.1 147.3) rotate(32)" class="gg"/><ellipse rx="5.6" ry="4.6" transform="translate(41.1 85.6) rotate(176)" fill="#757575"/><ellipse rx="5.6" ry="4.6" transform="translate(41.1 85.6) rotate(176)" class="gg"/><ellipse rx="8.0" ry="6.1" transform="translate(84.2 110.6) rotate(171)" fill="#797979"/><ellipse rx="8.0" ry="6.1" transform="translate(84.2 110.6) rotate(171)" class="gg"/><ellipse rx="4.7" ry="4.8" transform="translate(92.5 157.3) rotate(126)" fill="#9b9b9b"/><ellipse rx="4.7" ry="4.8" transform="translate(92.5 157.3) rotate(126)" class="gg"/><ellipse rx="4.9" ry="3.7" transform="translate(90.8 147.0) rotate(98)" fill="#7d7d7d"/><ellipse rx="4.9" ry="3.7" transform="translate(90.8 147.0) rotate(98)" class="gg"/><ellipse rx="7.1" ry="7.1" transform="translate(77.1 110.5) rotate(136)" fill="#7f7f7f"/><ellipse rx="7.1" ry="7.1" transform="translate(77.1 110.5) rotate(136)" class="gg"/><ellipse rx="5.3" ry="4.1" transform="translate(23.1 94.6) rotate(112)" fill="#656565"/><ellipse rx="5.3" ry="4.1" transform="translate(23.1 94.6) rotate(112)" class="gg"/><ellipse rx="7.0" ry="7.2" transform="translate(56.0 110.6) rotate(34)" fill="#6a6a6a"/><ellipse rx="7.0" ry="7.2" transform="translate(56.0 110.6) rotate(34)" class="gg"/><ellipse rx="5.2" ry="3.7" transform="translate(56.4 157.5) rotate(131)" fill="#7c7c7c"/><ellipse rx="5.2" ry="3.7" transform="translate(56.4 157.5) rotate(131)" class="gg"/><ellipse rx="4.6" ry="3.7" transform="translate(119.8 120.7) rotate(129)" fill="#8f8f8f"/><ellipse rx="4.6" ry="3.7" transform="translate(119.8 120.7) rotate(129)" class="gg"/><ellipse rx="5.8" ry="5.0" transform="translate(61.2 93.6) rotate(24)" fill="#636363"/><ellipse rx="5.8" ry="5.0" transform="translate(61.2 93.6) rotate(24)" class="gg"/><ellipse rx="7.1" ry="6.0" transform="translate(22.2 142.5) rotate(20)" fill="#7f7f7f"/><ellipse rx="7.1" ry="6.0" transform="translate(22.2 142.5) rotate(20)" class="gg"/><ellipse rx="7.6" ry="6.6" transform="translate(50.7 125.4) rotate(32)" fill="#858585"/><ellipse rx="7.6" ry="6.6" transform="translate(50.7 125.4) rotate(32)" class="gg"/><ellipse rx="6.6" ry="6.3" transform="translate(85.1 128.5) rotate(4)" fill="#6c6c6c"/><ellipse rx="6.6" ry="6.3" transform="translate(85.1 128.5) rotate(4)" class="gg"/><ellipse rx="5.0" ry="3.6" transform="translate(65.9 143.7) rotate(78)" fill="#767676"/><ellipse rx="5.0" ry="3.6" transform="translate(65.9 143.7) rotate(78)" class="gg"/><ellipse rx="5.1" ry="4.2" transform="translate(52.8 131.2) rotate(121)" fill="#7d7d7d"/><ellipse rx="5.1" ry="4.2" transform="translate(52.8 131.2) rotate(121)" class="gg"/><ellipse rx="7.8" ry="6.1" transform="translate(77.5 155.8) rotate(97)" fill="#646464"/><ellipse rx="7.8" ry="6.1" transform="translate(77.5 155.8) rotate(97)" class="gg"/><ellipse rx="5.2" ry="4.5" transform="translate(58.3 148.5) rotate(21)" fill="#838383"/><ellipse rx="5.2" ry="4.5" transform="translate(58.3 148.5) rotate(21)" class="gg"/><ellipse rx="8.0" ry="6.0" transform="translate(113.8 128.2) rotate(9)" fill="#6a6a6a"/><ellipse rx="8.0" ry="6.0" transform="translate(113.8 128.2) rotate(9)" class="gg"/><ellipse rx="4.8" ry="4.9" transform="translate(107.1 149.4) rotate(141)" fill="#585858"/><ellipse rx="4.8" ry="4.9" transform="translate(107.1 149.4) rotate(141)" class="gg"/><ellipse rx="5.4" ry="3.9" transform="translate(83.9 124.3) rotate(37)" fill="#4c4c4c"/><ellipse rx="5.4" ry="3.9" transform="translate(83.9 124.3) rotate(37)" class="gg"/><ellipse rx="6.9" ry="7.2" transform="translate(69.7 104.4) rotate(159)" fill="#757575"/><ellipse rx="6.9" ry="7.2" transform="translate(69.7 104.4) rotate(159)" class="gg"/><ellipse rx="4.5" ry="4.0" transform="translate(49.9 114.6) rotate(12)" fill="#858585"/><ellipse rx="4.5" ry="4.0" transform="translate(49.9 114.6) rotate(12)" class="gg"/><ellipse rx="6.0" ry="6.1" transform="translate(65.5 89.1) rotate(51)" fill="#545454"/><ellipse rx="6.0" ry="6.1" transform="translate(65.5 89.1) rotate(51)" class="gg"/><ellipse rx="7.4" ry="5.7" transform="translate(109.8 155.5) rotate(179)" fill="#939393"/><ellipse rx="7.4" ry="5.7" transform="translate(109.8 155.5) rotate(179)" class="gg"/><ellipse rx="5.5" ry="4.9" transform="translate(20.1 83.3) rotate(76)" fill="#5b5b5b"/><ellipse rx="5.5" ry="4.9" transform="translate(20.1 83.3) rotate(76)" class="gg"/><ellipse rx="6.8" ry="6.3" transform="translate(28.9 131.6) rotate(124)" fill="#595959"/><ellipse rx="6.8" ry="6.3" transform="translate(28.9 131.6) rotate(124)" class="gg"/><ellipse rx="5.0" ry="3.7" transform="translate(25.9 116.1) rotate(137)" fill="#6e6e6e"/><ellipse rx="5.0" ry="3.7" transform="translate(25.9 116.1) rotate(137)" class="gg"/><ellipse rx="5.5" ry="5.0" transform="translate(53.8 108.8) rotate(12)" fill="#828282"/><ellipse rx="5.5" ry="5.0" transform="translate(53.8 108.8) rotate(12)" class="gg"/><ellipse rx="7.2" ry="6.4" transform="translate(121.6 94.9) rotate(76)" fill="#818181"/><ellipse rx="7.2" ry="6.4" transform="translate(121.6 94.9) rotate(76)" class="gg"/><ellipse rx="7.2" ry="6.3" transform="translate(51.7 110.3) rotate(112)" fill="#626262"/><ellipse rx="7.2" ry="6.3" transform="translate(51.7 110.3) rotate(112)" class="gg"/><ellipse rx="6.8" ry="6.0" transform="translate(37.3 119.6) rotate(104)" fill="#6c6c6c"/><ellipse rx="6.8" ry="6.0" transform="translate(37.3 119.6) rotate(104)" class="gg"/><ellipse rx="7.9" ry="7.4" transform="translate(80.2 97.7) rotate(81)" fill="#696969"/><ellipse rx="7.9" ry="7.4" transform="translate(80.2 97.7) rotate(81)" class="gg"/><ellipse rx="5.6" ry="4.5" transform="translate(54.7 106.1) rotate(56)" fill="#434343"/><ellipse rx="5.6" ry="4.5" transform="translate(54.7 106.1) rotate(56)" class="gg"/><ellipse rx="5.5" ry="4.6" transform="translate(41.5 119.7) rotate(155)" fill="#676767"/><ellipse rx="5.5" ry="4.6" transform="translate(41.5 119.7) rotate(155)" class="gg"/><ellipse rx="7.4" ry="5.7" transform="translate(104.7 107.9) rotate(17)" fill="#626262"/><ellipse rx="7.4" ry="5.7" transform="translate(104.7 107.9) rotate(17)" class="gg"/><ellipse rx="4.5" ry="4.5" transform="translate(125.8 85.5) rotate(100)" fill="#8a8a8a"/><ellipse rx="4.5" ry="4.5" transform="translate(125.8 85.5) rotate(100)" class="gg"/><ellipse rx="7.9" ry="6.6" transform="translate(42.9 101.6) rotate(43)" fill="#707070"/><ellipse rx="7.9" ry="6.6" transform="translate(42.9 101.6) rotate(43)" class="gg"/><ellipse rx="5.5" ry="4.0" transform="translate(66.4 138.6) rotate(9)" fill="#727272"/><ellipse rx="5.5" ry="4.0" transform="translate(66.4 138.6) rotate(9)" class="gg"/><ellipse rx="6.0" ry="5.8" transform="translate(19.5 158.4) rotate(100)" fill="#686868"/><ellipse rx="6.0" ry="5.8" transform="translate(19.5 158.4) rotate(100)" class="gg"/><ellipse rx="5.7" ry="5.4" transform="translate(123.7 109.0) rotate(136)" fill="#818181"/><ellipse rx="5.7" ry="5.4" transform="translate(123.7 109.0) rotate(136)" class="gg"/><ellipse rx="7.8" ry="6.6" transform="translate(80.5 120.2) rotate(131)" fill="#707070"/><ellipse rx="7.8" ry="6.6" transform="translate(80.5 120.2) rotate(131)" class="gg"/><ellipse rx="5.9" ry="4.5" transform="translate(61.1 89.6) rotate(22)" fill="#7e7e7e"/><ellipse rx="5.9" ry="4.5" transform="translate(61.1 89.6) rotate(22)" class="gg"/><ellipse rx="7.2" ry="7.2" transform="translate(68.0 139.0) rotate(57)" fill="#727272"/><ellipse rx="7.2" ry="7.2" transform="translate(68.0 139.0) rotate(57)" class="gg"/><ellipse rx="5.9" ry="6.0" transform="translate(90.9 150.5) rotate(158)" fill="#909090"/><ellipse rx="5.9" ry="6.0" transform="translate(90.9 150.5) rotate(158)" class="gg"/><ellipse rx="7.0" ry="6.0" transform="translate(124.3 146.1) rotate(129)" fill="#888888"/><ellipse rx="7.0" ry="6.0" transform="translate(124.3 146.1) rotate(129)" class="gg"/><ellipse rx="6.7" ry="6.8" transform="translate(113.4 126.7) rotate(6)" fill="#6c6c6c"/><ellipse rx="6.7" ry="6.8" transform="translate(113.4 126.7) rotate(6)" class="gg"/><ellipse rx="6.9" ry="5.4" transform="translate(113.3 130.8) rotate(33)" fill="#7f7f7f"/><ellipse rx="6.9" ry="5.4" transform="translate(113.3 130.8) rotate(33)" class="gg"/><ellipse rx="5.7" ry="4.9" transform="translate(70.4 149.6) rotate(22)" fill="#515151"/><ellipse rx="5.7" ry="4.9" transform="translate(70.4 149.6) rotate(22)" class="gg"/><ellipse rx="6.9" ry="6.7" transform="translate(112.0 83.9) rotate(84)" fill="#818181"/><ellipse rx="6.9" ry="6.7" transform="translate(112.0 83.9) rotate(84)" class="gg"/><ellipse rx="5.0" ry="4.1" transform="translate(98.7 104.3) rotate(101)" fill="#6d6d6d"/><ellipse rx="5.0" ry="4.1" transform="translate(98.7 104.3) rotate(101)" class="gg"/><ellipse rx="7.2" ry="7.0" transform="translate(90.0 157.1) rotate(174)" fill="#8c8c8c"/><ellipse rx="7.2" ry="7.0" transform="translate(90.0 157.1) rotate(174)" class="gg"/><ellipse rx="5.7" ry="5.0" transform="translate(118.7 139.3) rotate(161)" fill="#717171"/><ellipse rx="5.7" ry="5.0" transform="translate(118.7 139.3) rotate(161)" class="gg"/><ellipse rx="5.4" ry="4.9" transform="translate(98.7 133.8) rotate(33)" fill="#505050"/><ellipse rx="5.4" ry="4.9" transform="translate(98.7 133.8) rotate(33)" class="gg"/><ellipse rx="4.6" ry="4.7" transform="translate(88.5 96.4) rotate(8)" fill="#7a7a7a"/><ellipse rx="4.6" ry="4.7" transform="translate(88.5 96.4) rotate(8)" class="gg"/><ellipse rx="5.0" ry="5.0" transform="translate(106.9 141.5) rotate(150)" fill="#646464"/><ellipse rx="5.0" ry="5.0" transform="translate(106.9 141.5) rotate(150)" class="gg"/><ellipse rx="4.7" ry="3.4" transform="translate(80.7 103.8) rotate(114)" fill="#555555"/><ellipse rx="4.7" ry="3.4" transform="translate(80.7 103.8) rotate(114)" class="gg"/><ellipse rx="4.7" ry="4.3" transform="translate(43.1 143.6) rotate(31)" fill="#7a7a7a"/><ellipse rx="4.7" ry="4.3" transform="translate(43.1 143.6) rotate(31)" class="gg"/><ellipse rx="7.3" ry="5.7" transform="translate(19.6 97.7) rotate(62)" fill="#848484"/><ellipse rx="7.3" ry="5.7" transform="translate(19.6 97.7) rotate(62)" class="gg"/><ellipse rx="7.0" ry="7.1" transform="translate(80.6 126.8) rotate(60)" fill="#717171"/><ellipse rx="7.0" ry="7.1" transform="translate(80.6 126.8) rotate(60)" class="gg"/><ellipse rx="5.4" ry="3.9" transform="translate(87.2 92.0) rotate(127)" fill="#7a7a7a"/><ellipse rx="5.4" ry="3.9" transform="translate(87.2 92.0) rotate(127)" class="gg"/><ellipse rx="5.2" ry="4.1" transform="translate(113.2 112.2) rotate(88)" fill="#636363"/><ellipse rx="5.2" ry="4.1" transform="translate(113.2 112.2) rotate(88)" class="gg"/><ellipse rx="7.5" ry="6.9" transform="translate(60.6 88.3) rotate(130)" fill="#888888"/><ellipse rx="7.5" ry="6.9" transform="translate(60.6 88.3) rotate(130)" class="gg"/><ellipse rx="6.0" ry="5.9" transform="translate(107.5 136.4) rotate(165)" fill="#565656"/><ellipse rx="6.0" ry="5.9" transform="translate(107.5 136.4) rotate(165)" class="gg"/><ellipse rx="5.1" ry="4.4" transform="translate(30.5 94.0) rotate(153)" fill="#7e7e7e"/><ellipse rx="5.1" ry="4.4" transform="translate(30.5 94.0) rotate(153)" class="gg"/><ellipse rx="5.4" ry="5.0" transform="translate(58.4 125.9) rotate(48)" fill="#5f5f5f"/><ellipse rx="5.4" ry="5.0" transform="translate(58.4 125.9) rotate(48)" class="gg"/><ellipse rx="6.5" ry="6.5" transform="translate(19.8 113.2) rotate(146)" fill="#666666"/><ellipse rx="6.5" ry="6.5" transform="translate(19.8 113.2) rotate(146)" class="gg"/><ellipse rx="7.8" ry="8.1" transform="translate(35.9 142.1) rotate(124)" fill="#989898"/><ellipse rx="7.8" ry="8.1" transform="translate(35.9 142.1) rotate(124)" class="gg"/><ellipse rx="6.8" ry="6.2" transform="translate(60.9 124.3) rotate(97)" fill="#7d7d7d"/><ellipse rx="6.8" ry="6.2" transform="translate(60.9 124.3) rotate(97)" class="gg"/><ellipse rx="4.8" ry="4.1" transform="translate(26.7 106.2) rotate(16)" fill="#929292"/><ellipse rx="4.8" ry="4.1" transform="translate(26.7 106.2) rotate(16)" class="gg"/><ellipse rx="7.4" ry="7.2" transform="translate(75.9 104.2) rotate(104)" fill="#7c7c7c"/><ellipse rx="7.4" ry="7.2" transform="translate(75.9 104.2) rotate(104)" class="gg"/><ellipse rx="4.5" ry="3.8" transform="translate(48.0 152.2) rotate(107)" fill="#8e8e8e"/><ellipse rx="4.5" ry="3.8" transform="translate(48.0 152.2) rotate(107)" class="gg"/><ellipse rx="7.6" ry="6.2" transform="translate(36.5 120.3) rotate(175)" fill="#6c6c6c"/><ellipse rx="7.6" ry="6.2" transform="translate(36.5 120.3) rotate(175)" class="gg"/><ellipse rx="7.2" ry="5.9" transform="translate(122.5 95.5) rotate(5)" fill="#646464"/><ellipse rx="7.2" ry="5.9" transform="translate(122.5 95.5) rotate(5)" class="gg"/><ellipse rx="6.1" ry="5.4" transform="translate(41.7 138.3) rotate(65)" fill="#777777"/><ellipse rx="6.1" ry="5.4" transform="translate(41.7 138.3) rotate(65)" class="gg"/><ellipse rx="6.1" ry="4.9" transform="translate(74.2 145.3) rotate(164)" fill="#777777"/><ellipse rx="6.1" ry="4.9" transform="translate(74.2 145.3) rotate(164)" class="gg"/><ellipse rx="7.3" ry="6.4" transform="translate(93.1 140.4) rotate(118)" fill="#6f6f6f"/><ellipse rx="7.3" ry="6.4" transform="translate(93.1 140.4) rotate(118)" class="gg"/><ellipse rx="7.7" ry="6.8" transform="translate(99.4 151.5) rotate(88)" fill="#787878"/><ellipse rx="7.7" ry="6.8" transform="translate(99.4 151.5) rotate(88)" class="gg"/><ellipse rx="5.8" ry="5.2" transform="translate(122.6 89.5) rotate(28)" fill="#5c5c5c"/><ellipse rx="5.8" ry="5.2" transform="translate(122.6 89.5) rotate(28)" class="gg"/><ellipse rx="5.8" ry="4.5" transform="translate(73.6 96.4) rotate(57)" fill="#616161"/><ellipse rx="5.8" ry="4.5" transform="translate(73.6 96.4) rotate(57)" class="gg"/><ellipse rx="5.1" ry="4.4" transform="translate(86.3 113.3) rotate(48)" fill="#686868"/><ellipse rx="5.1" ry="4.4" transform="translate(86.3 113.3) rotate(48)" class="gg"/><ellipse rx="4.6" ry="4.3" transform="translate(65.8 135.8) rotate(9)" fill="#626262"/><ellipse rx="4.6" ry="4.3" transform="translate(65.8 135.8) rotate(9)" class="gg"/><ellipse rx="7.4" ry="5.3" transform="translate(114.6 97.5) rotate(139)" fill="#626262"/><ellipse rx="7.4" ry="5.3" transform="translate(114.6 97.5) rotate(139)" class="gg"/><ellipse rx="4.7" ry="4.5" transform="translate(101.8 92.6) rotate(75)" fill="#707070"/><ellipse rx="4.7" ry="4.5" transform="translate(101.8 92.6) rotate(75)" class="gg"/><ellipse rx="5.8" ry="5.2" transform="translate(59.0 109.4) rotate(84)" fill="#686868"/><ellipse rx="5.8" ry="5.2" transform="translate(59.0 109.4) rotate(84)" class="gg"/><ellipse rx="7.0" ry="7.2" transform="translate(125.2 141.2) rotate(80)" fill="#767676"/><ellipse rx="7.0" ry="7.2" transform="translate(125.2 141.2) rotate(80)" class="gg"/><ellipse rx="4.9" ry="4.7" transform="translate(57.9 143.2) rotate(92)" fill="#7f7f7f"/><ellipse rx="4.9" ry="4.7" transform="translate(57.9 143.2) rotate(92)" class="gg"/><ellipse rx="6.9" ry="6.8" transform="translate(101.9 87.8) rotate(6)" fill="#848484"/><ellipse rx="6.9" ry="6.8" transform="translate(101.9 87.8) rotate(6)" class="gg"/><ellipse rx="7.1" ry="7.4" transform="translate(92.4 104.3) rotate(89)" fill="#828282"/><ellipse rx="7.1" ry="7.4" transform="translate(92.4 104.3) rotate(89)" class="gg"/><ellipse rx="4.6" ry="3.4" transform="translate(124.4 153.1) rotate(73)" fill="#707070"/><ellipse rx="4.6" ry="3.4" transform="translate(124.4 153.1) rotate(73)" class="gg"/><ellipse rx="6.4" ry="6.6" transform="translate(105.4 142.9) rotate(114)" fill="#7f7f7f"/><ellipse rx="6.4" ry="6.6" transform="translate(105.4 142.9) rotate(114)" class="gg"/><ellipse rx="7.0" ry="7.2" transform="translate(46.8 138.7) rotate(30)" fill="#4e4e4e"/><ellipse rx="7.0" ry="7.2" transform="translate(46.8 138.7) rotate(30)" class="gg"/><ellipse rx="5.4" ry="4.5" transform="translate(21.4 108.9) rotate(76)" fill="#878787"/><ellipse rx="5.4" ry="4.5" transform="translate(21.4 108.9) rotate(76)" class="gg"/><ellipse rx="6.5" ry="4.8" transform="translate(47.5 90.7) rotate(154)" fill="#797979"/><ellipse rx="6.5" ry="4.8" transform="translate(47.5 90.7) rotate(154)" class="gg"/><ellipse rx="4.9" ry="4.1" transform="translate(48.7 151.2) rotate(80)" fill="#737373"/><ellipse rx="4.9" ry="4.1" transform="translate(48.7 151.2) rotate(80)" class="gg"/><ellipse rx="7.5" ry="6.6" transform="translate(113.6 95.5) rotate(51)" fill="#5a5a5a"/><ellipse rx="7.5" ry="6.6" transform="translate(113.6 95.5) rotate(51)" class="gg"/><ellipse rx="6.7" ry="5.7" transform="translate(56.6 104.1) rotate(154)" fill="#565656"/><ellipse rx="6.7" ry="5.7" transform="translate(56.6 104.1) rotate(154)" class="gg"/><ellipse rx="6.8" ry="6.4" transform="translate(94.0 105.4) rotate(163)" fill="#6d6d6d"/><ellipse rx="6.8" ry="6.4" transform="translate(94.0 105.4) rotate(163)" class="gg"/><ellipse rx="7.1" ry="5.8" transform="translate(60.5 123.4) rotate(67)" fill="#646464"/><ellipse rx="7.1" ry="5.8" transform="translate(60.5 123.4) rotate(67)" class="gg"/><ellipse rx="5.3" ry="4.8" transform="translate(110.0 109.4) rotate(107)" fill="#868686"/><ellipse rx="5.3" ry="4.8" transform="translate(110.0 109.4) rotate(107)" class="gg"/><ellipse rx="6.0" ry="5.1" transform="translate(125.4 154.5) rotate(105)" fill="#636363"/><ellipse rx="6.0" ry="5.1" transform="translate(125.4 154.5) rotate(105)" class="gg"/><ellipse rx="7.6" ry="7.4" transform="translate(62.1 148.3) rotate(134)" fill="#5e5e5e"/><ellipse rx="7.6" ry="7.4" transform="translate(62.1 148.3) rotate(134)" class="gg"/><ellipse rx="7.8" ry="6.0" transform="translate(114.4 102.4) rotate(28)" fill="#808080"/><ellipse rx="7.8" ry="6.0" transform="translate(114.4 102.4) rotate(28)" class="gg"/><ellipse rx="5.0" ry="4.2" transform="translate(46.5 129.0) rotate(65)" fill="#7c7c7c"/><ellipse rx="5.0" ry="4.2" transform="translate(46.5 129.0) rotate(65)" class="gg"/></g>
<path d="M22,86 L123.4,86 L123.4,155.9 L22,155.9 Z" fill="#888" filter="url(#tg)" opacity="0.2"/>
<path d="M48,98 L58,95 L65,101 L63,110 L55,108 Z" fill="#c0c0c0" filter="url(#bl2)"/>
<path d="M119,92 L122,90 L123,98 L120,99 Z" fill="#b0b0b0" filter="url(#bl2)"/>
<path d="M88,118 L96,115 L98,120 L91,123 Z" fill="#b8b8b8" filter="url(#bl2)"/>
<path d="M97,147 L104,144 L106,152 L99,154 Z" fill="#b0b0b0" filter="url(#bl2)"/>
<path d="M60,148 L70,147 L71,153 L62,153 Z" fill="#a8a8a8" filter="url(#bl2)"/>
</g>
<g clip-path="url(#cpe)">
<path d="M136,86.3 L237.2,86.3 L237.2,156.5 L136,156.5 Z" fill="#606060"/>
<g filter="url(#sb)"><ellipse rx="7.3" ry="7.5" transform="translate(199.8 139.8) rotate(5)" fill="#868686"/><ellipse rx="7.3" ry="7.5" transform="translate(199.8 139.8) rotate(5)" class="gh"/><ellipse rx="6.8" ry="6.9" transform="translate(182.9 155.2) rotate(20)" fill="#585858"/><ellipse rx="6.8" ry="6.9" transform="translate(182.9 155.2) rotate(20)" class="gh"/><ellipse rx="6.4" ry="5.8" transform="translate(183.3 102.1) rotate(50)" fill="#999999"/><ellipse rx="6.4" ry="5.8" transform="translate(183.3 102.1) rotate(50)" class="gh"/><ellipse rx="5.1" ry="5.0" transform="translate(231.2 141.6) rotate(24)" fill="#8b8b8b"/><ellipse rx="5.1" ry="5.0" transform="translate(231.2 141.6) rotate(24)" class="gh"/><ellipse rx="4.5" ry="4.5" transform="translate(199.2 93.0) rotate(176)" fill="#8d8d8d"/><ellipse rx="4.5" ry="4.5" transform="translate(199.2 93.0) rotate(176)" class="gh"/><ellipse rx="7.9" ry="7.0" transform="translate(226.5 105.3) rotate(122)" fill="#989898"/><ellipse rx="7.9" ry="7.0" transform="translate(226.5 105.3) rotate(122)" class="gh"/><ellipse rx="6.9" ry="7.2" transform="translate(155.0 155.0) rotate(65)" fill="#989898"/><ellipse rx="6.9" ry="7.2" transform="translate(155.0 155.0) rotate(65)" class="gh"/><ellipse rx="4.7" ry="3.8" transform="translate(150.8 94.4) rotate(108)" fill="#7e7e7e"/><ellipse rx="4.7" ry="3.8" transform="translate(150.8 94.4) rotate(108)" class="gh"/><ellipse rx="5.7" ry="4.6" transform="translate(133.4 135.0) rotate(56)" fill="#949494"/><ellipse rx="5.7" ry="4.6" transform="translate(133.4 135.0) rotate(56)" class="gh"/><ellipse rx="4.7" ry="4.9" transform="translate(184.6 137.0) rotate(4)" fill="#737373"/><ellipse rx="4.7" ry="4.9" transform="translate(184.6 137.0) rotate(4)" class="gh"/><ellipse rx="4.6" ry="4.5" transform="translate(213.4 147.7) rotate(1)" fill="#767676"/><ellipse rx="4.6" ry="4.5" transform="translate(213.4 147.7) rotate(1)" class="gh"/><ellipse rx="7.8" ry="6.0" transform="translate(138.0 97.1) rotate(136)" fill="#9f9f9f"/><ellipse rx="7.8" ry="6.0" transform="translate(138.0 97.1) rotate(136)" class="gh"/><ellipse rx="5.7" ry="4.7" transform="translate(232.7 155.1) rotate(19)" fill="#646464"/><ellipse rx="5.7" ry="4.7" transform="translate(232.7 155.1) rotate(19)" class="gh"/><ellipse rx="7.5" ry="5.4" transform="translate(213.2 144.0) rotate(170)" fill="#848484"/><ellipse rx="7.5" ry="5.4" transform="translate(213.2 144.0) rotate(170)" class="gh"/><ellipse rx="6.6" ry="6.8" transform="translate(142.8 109.3) rotate(98)" fill="#6f6f6f"/><ellipse rx="6.6" ry="6.8" transform="translate(142.8 109.3) rotate(98)" class="gh"/><ellipse rx="5.1" ry="3.7" transform="translate(166.5 107.4) rotate(26)" fill="#b4b4b4"/><ellipse rx="5.1" ry="3.7" transform="translate(166.5 107.4) rotate(26)" class="gh"/><ellipse rx="5.1" ry="3.6" transform="translate(206.9 159.3) rotate(73)" fill="#a5a5a5"/><ellipse rx="5.1" ry="3.6" transform="translate(206.9 159.3) rotate(73)" class="gh"/><ellipse rx="7.4" ry="6.4" transform="translate(158.4 128.6) rotate(75)" fill="#878787"/><ellipse rx="7.4" ry="6.4" transform="translate(158.4 128.6) rotate(75)" class="gh"/><ellipse rx="4.6" ry="4.0" transform="translate(139.0 153.1) rotate(131)" fill="#909090"/><ellipse rx="4.6" ry="4.0" transform="translate(139.0 153.1) rotate(131)" class="gh"/><ellipse rx="7.3" ry="5.4" transform="translate(234.8 131.3) rotate(78)" fill="#808080"/><ellipse rx="7.3" ry="5.4" transform="translate(234.8 131.3) rotate(78)" class="gh"/><ellipse rx="5.5" ry="4.7" transform="translate(149.0 147.7) rotate(175)" fill="#b5b5b5"/><ellipse rx="5.5" ry="4.7" transform="translate(149.0 147.7) rotate(175)" class="gh"/><ellipse rx="7.1" ry="6.1" transform="translate(181.6 120.5) rotate(52)" fill="#898989"/><ellipse rx="7.1" ry="6.1" transform="translate(181.6 120.5) rotate(52)" class="gh"/><ellipse rx="5.8" ry="6.1" transform="translate(176.3 94.5) rotate(89)" fill="#a7a7a7"/><ellipse rx="5.8" ry="6.1" transform="translate(176.3 94.5) rotate(89)" class="gh"/><ellipse rx="5.5" ry="5.3" transform="translate(169.3 90.1) rotate(156)" fill="#828282"/><ellipse rx="5.5" ry="5.3" transform="translate(169.3 90.1) rotate(156)" class="gh"/><ellipse rx="7.2" ry="6.8" transform="translate(171.7 143.2) rotate(65)" fill="#767676"/><ellipse rx="7.2" ry="6.8" transform="translate(171.7 143.2) rotate(65)" class="gh"/><ellipse rx="6.2" ry="6.0" transform="translate(208.5 104.7) rotate(124)" fill="#6a6a6a"/><ellipse rx="6.2" ry="6.0" transform="translate(208.5 104.7) rotate(124)" class="gh"/><ellipse rx="6.8" ry="6.1" transform="translate(164.5 155.4) rotate(45)" fill="#a5a5a5"/><ellipse rx="6.8" ry="6.1" transform="translate(164.5 155.4) rotate(45)" class="gh"/><ellipse rx="7.4" ry="6.8" transform="translate(205.0 118.6) rotate(143)" fill="#8c8c8c"/><ellipse rx="7.4" ry="6.8" transform="translate(205.0 118.6) rotate(143)" class="gh"/><ellipse rx="7.1" ry="7.0" transform="translate(170.3 132.4) rotate(156)" fill="#717171"/><ellipse rx="7.1" ry="7.0" transform="translate(170.3 132.4) rotate(156)" class="gh"/><ellipse rx="7.8" ry="6.9" transform="translate(206.8 157.7) rotate(95)" fill="#acacac"/><ellipse rx="7.8" ry="6.9" transform="translate(206.8 157.7) rotate(95)" class="gh"/><ellipse rx="7.8" ry="6.7" transform="translate(150.8 147.1) rotate(131)" fill="#7d7d7d"/><ellipse rx="7.8" ry="6.7" transform="translate(150.8 147.1) rotate(131)" class="gh"/><ellipse rx="6.5" ry="6.1" transform="translate(151.4 142.8) rotate(75)" fill="#696969"/><ellipse rx="6.5" ry="6.1" transform="translate(151.4 142.8) rotate(75)" class="gh"/><ellipse rx="6.7" ry="6.4" transform="translate(199.9 142.3) rotate(79)" fill="#969696"/><ellipse rx="6.7" ry="6.4" transform="translate(199.9 142.3) rotate(79)" class="gh"/><ellipse rx="6.9" ry="6.4" transform="translate(202.7 100.0) rotate(7)" fill="#8c8c8c"/><ellipse rx="6.9" ry="6.4" transform="translate(202.7 100.0) rotate(7)" class="gh"/><ellipse rx="4.7" ry="3.5" transform="translate(183.6 100.5) rotate(34)" fill="#848484"/><ellipse rx="4.7" ry="3.5" transform="translate(183.6 100.5) rotate(34)" class="gh"/><ellipse rx="5.8" ry="5.3" transform="translate(136.8 118.8) rotate(106)" fill="#969696"/><ellipse rx="5.8" ry="5.3" transform="translate(136.8 118.8) rotate(106)" class="gh"/><ellipse rx="4.5" ry="3.8" transform="translate(158.5 152.1) rotate(20)" fill="#858585"/><ellipse rx="4.5" ry="3.8" transform="translate(158.5 152.1) rotate(20)" class="gh"/><ellipse rx="4.6" ry="4.2" transform="translate(222.1 111.8) rotate(17)" fill="#a0a0a0"/><ellipse rx="4.6" ry="4.2" transform="translate(222.1 111.8) rotate(17)" class="gh"/><ellipse rx="6.5" ry="6.8" transform="translate(191.4 109.2) rotate(146)" fill="#939393"/><ellipse rx="6.5" ry="6.8" transform="translate(191.4 109.2) rotate(146)" class="gh"/><ellipse rx="5.0" ry="4.5" transform="translate(201.9 111.5) rotate(101)" fill="#757575"/><ellipse rx="5.0" ry="4.5" transform="translate(201.9 111.5) rotate(101)" class="gh"/><ellipse rx="6.6" ry="5.5" transform="translate(235.6 157.1) rotate(19)" fill="#8a8a8a"/><ellipse rx="6.6" ry="5.5" transform="translate(235.6 157.1) rotate(19)" class="gh"/><ellipse rx="5.0" ry="4.6" transform="translate(193.7 130.2) rotate(160)" fill="#898989"/><ellipse rx="5.0" ry="4.6" transform="translate(193.7 130.2) rotate(160)" class="gh"/><ellipse rx="5.3" ry="4.2" transform="translate(173.3 116.2) rotate(173)" fill="#9f9f9f"/><ellipse rx="5.3" ry="4.2" transform="translate(173.3 116.2) rotate(173)" class="gh"/><ellipse rx="5.4" ry="5.6" transform="translate(231.0 128.7) rotate(89)" fill="#868686"/><ellipse rx="5.4" ry="5.6" transform="translate(231.0 128.7) rotate(89)" class="gh"/><ellipse rx="7.9" ry="6.9" transform="translate(177.5 107.6) rotate(21)" fill="#848484"/><ellipse rx="7.9" ry="6.9" transform="translate(177.5 107.6) rotate(21)" class="gh"/><ellipse rx="5.5" ry="5.4" transform="translate(199.6 117.1) rotate(148)" fill="#a2a2a2"/><ellipse rx="5.5" ry="5.4" transform="translate(199.6 117.1) rotate(148)" class="gh"/><ellipse rx="5.5" ry="5.6" transform="translate(134.4 123.9) rotate(48)" fill="#8d8d8d"/><ellipse rx="5.5" ry="5.6" transform="translate(134.4 123.9) rotate(48)" class="gh"/><ellipse rx="5.5" ry="5.0" transform="translate(149.6 158.6) rotate(85)" fill="#797979"/><ellipse rx="5.5" ry="5.0" transform="translate(149.6 158.6) rotate(85)" class="gh"/><ellipse rx="7.1" ry="5.3" transform="translate(202.1 129.3) rotate(96)" fill="#8b8b8b"/><ellipse rx="7.1" ry="5.3" transform="translate(202.1 129.3) rotate(96)" class="gh"/><ellipse rx="6.4" ry="5.5" transform="translate(169.0 105.9) rotate(64)" fill="#777777"/><ellipse rx="6.4" ry="5.5" transform="translate(169.0 105.9) rotate(64)" class="gh"/><ellipse rx="4.6" ry="3.6" transform="translate(212.9 128.3) rotate(159)" fill="#5a5a5a"/><ellipse rx="4.6" ry="3.6" transform="translate(212.9 128.3) rotate(159)" class="gh"/><ellipse rx="7.2" ry="6.1" transform="translate(191.5 84.4) rotate(103)" fill="#979797"/><ellipse rx="7.2" ry="6.1" transform="translate(191.5 84.4) rotate(103)" class="gh"/><ellipse rx="6.2" ry="6.3" transform="translate(208.9 131.5) rotate(153)" fill="#797979"/><ellipse rx="6.2" ry="6.3" transform="translate(208.9 131.5) rotate(153)" class="gh"/><ellipse rx="7.4" ry="5.4" transform="translate(154.1 105.9) rotate(150)" fill="#989898"/><ellipse rx="7.4" ry="5.4" transform="translate(154.1 105.9) rotate(150)" class="gh"/><ellipse rx="5.5" ry="5.4" transform="translate(207.5 116.3) rotate(86)" fill="#949494"/><ellipse rx="5.5" ry="5.4" transform="translate(207.5 116.3) rotate(86)" class="gh"/><ellipse rx="5.7" ry="4.3" transform="translate(191.9 121.2) rotate(105)" fill="#838383"/><ellipse rx="5.7" ry="4.3" transform="translate(191.9 121.2) rotate(105)" class="gh"/><ellipse rx="5.3" ry="5.2" transform="translate(220.0 88.5) rotate(4)" fill="#929292"/><ellipse rx="5.3" ry="5.2" transform="translate(220.0 88.5) rotate(4)" class="gh"/><ellipse rx="8.0" ry="7.6" transform="translate(210.5 157.9) rotate(8)" fill="#6a6a6a"/><ellipse rx="8.0" ry="7.6" transform="translate(210.5 157.9) rotate(8)" class="gh"/><ellipse rx="6.8" ry="7.0" transform="translate(223.3 100.0) rotate(52)" fill="#878787"/><ellipse rx="6.8" ry="7.0" transform="translate(223.3 100.0) rotate(52)" class="gh"/><ellipse rx="6.6" ry="5.6" transform="translate(231.4 94.7) rotate(29)" fill="#7e7e7e"/><ellipse rx="6.6" ry="5.6" transform="translate(231.4 94.7) rotate(29)" class="gh"/><ellipse rx="4.9" ry="4.1" transform="translate(199.7 86.6) rotate(103)" fill="#909090"/><ellipse rx="4.9" ry="4.1" transform="translate(199.7 86.6) rotate(103)" class="gh"/><ellipse rx="5.0" ry="4.2" transform="translate(212.6 150.2) rotate(56)" fill="#8d8d8d"/><ellipse rx="5.0" ry="4.2" transform="translate(212.6 150.2) rotate(56)" class="gh"/><ellipse rx="7.8" ry="6.5" transform="translate(197.3 120.6) rotate(27)" fill="#a9a9a9"/><ellipse rx="7.8" ry="6.5" transform="translate(197.3 120.6) rotate(27)" class="gh"/><ellipse rx="7.7" ry="6.9" transform="translate(200.7 121.8) rotate(111)" fill="#959595"/><ellipse rx="7.7" ry="6.9" transform="translate(200.7 121.8) rotate(111)" class="gh"/><ellipse rx="5.4" ry="5.2" transform="translate(161.2 125.3) rotate(42)" fill="#7e7e7e"/><ellipse rx="5.4" ry="5.2" transform="translate(161.2 125.3) rotate(42)" class="gh"/><ellipse rx="5.1" ry="4.9" transform="translate(172.8 139.4) rotate(117)" fill="#888888"/><ellipse rx="5.1" ry="4.9" transform="translate(172.8 139.4) rotate(117)" class="gh"/><ellipse rx="4.8" ry="3.6" transform="translate(142.1 134.2) rotate(157)" fill="#7c7c7c"/><ellipse rx="4.8" ry="3.6" transform="translate(142.1 134.2) rotate(157)" class="gh"/><ellipse rx="7.3" ry="5.2" transform="translate(184.5 107.9) rotate(130)" fill="#808080"/><ellipse rx="7.3" ry="5.2" transform="translate(184.5 107.9) rotate(130)" class="gh"/><ellipse rx="7.8" ry="7.3" transform="translate(138.8 94.8) rotate(175)" fill="#8b8b8b"/><ellipse rx="7.8" ry="7.3" transform="translate(138.8 94.8) rotate(175)" class="gh"/><ellipse rx="5.0" ry="4.6" transform="translate(204.3 145.8) rotate(63)" fill="#949494"/><ellipse rx="5.0" ry="4.6" transform="translate(204.3 145.8) rotate(63)" class="gh"/><ellipse rx="6.6" ry="5.5" transform="translate(158.2 108.7) rotate(149)" fill="#818181"/><ellipse rx="6.6" ry="5.5" transform="translate(158.2 108.7) rotate(149)" class="gh"/><ellipse rx="6.0" ry="6.0" transform="translate(202.5 144.6) rotate(93)" fill="#919191"/><ellipse rx="6.0" ry="6.0" transform="translate(202.5 144.6) rotate(93)" class="gh"/><ellipse rx="7.1" ry="5.9" transform="translate(196.5 127.0) rotate(36)" fill="#8e8e8e"/><ellipse rx="7.1" ry="5.9" transform="translate(196.5 127.0) rotate(36)" class="gh"/><ellipse rx="6.2" ry="6.0" transform="translate(137.2 151.1) rotate(0)" fill="#8d8d8d"/><ellipse rx="6.2" ry="6.0" transform="translate(137.2 151.1) rotate(0)" class="gh"/><ellipse rx="6.7" ry="5.7" transform="translate(183.4 151.1) rotate(27)" fill="#808080"/><ellipse rx="6.7" ry="5.7" transform="translate(183.4 151.1) rotate(27)" class="gh"/><ellipse rx="5.8" ry="5.9" transform="translate(150.0 111.8) rotate(27)" fill="#8c8c8c"/><ellipse rx="5.8" ry="5.9" transform="translate(150.0 111.8) rotate(27)" class="gh"/><ellipse rx="5.1" ry="4.1" transform="translate(160.2 104.4) rotate(5)" fill="#8c8c8c"/><ellipse rx="5.1" ry="4.1" transform="translate(160.2 104.4) rotate(5)" class="gh"/><ellipse rx="7.8" ry="7.3" transform="translate(232.1 111.4) rotate(121)" fill="#a3a3a3"/><ellipse rx="7.8" ry="7.3" transform="translate(232.1 111.4) rotate(121)" class="gh"/><ellipse rx="4.9" ry="4.6" transform="translate(183.6 155.3) rotate(131)" fill="#818181"/><ellipse rx="4.9" ry="4.6" transform="translate(183.6 155.3) rotate(131)" class="gh"/><ellipse rx="4.6" ry="3.6" transform="translate(150.5 98.6) rotate(14)" fill="#a9a9a9"/><ellipse rx="4.6" ry="3.6" transform="translate(150.5 98.6) rotate(14)" class="gh"/><ellipse rx="5.8" ry="4.7" transform="translate(176.0 157.5) rotate(131)" fill="#787878"/><ellipse rx="5.8" ry="4.7" transform="translate(176.0 157.5) rotate(131)" class="gh"/><ellipse rx="5.3" ry="5.0" transform="translate(210.0 95.7) rotate(169)" fill="#8d8d8d"/><ellipse rx="5.3" ry="5.0" transform="translate(210.0 95.7) rotate(169)" class="gh"/><ellipse rx="7.9" ry="5.6" transform="translate(202.2 116.1) rotate(73)" fill="#adadad"/><ellipse rx="7.9" ry="5.6" transform="translate(202.2 116.1) rotate(73)" class="gh"/><ellipse rx="8.0" ry="7.0" transform="translate(137.8 125.1) rotate(63)" fill="#989898"/><ellipse rx="8.0" ry="7.0" transform="translate(137.8 125.1) rotate(63)" class="gh"/><ellipse rx="7.6" ry="6.7" transform="translate(143.1 88.7) rotate(43)" fill="#909090"/><ellipse rx="7.6" ry="6.7" transform="translate(143.1 88.7) rotate(43)" class="gh"/><ellipse rx="4.7" ry="3.7" transform="translate(138.4 113.6) rotate(73)" fill="#878787"/><ellipse rx="4.7" ry="3.7" transform="translate(138.4 113.6) rotate(73)" class="gh"/><ellipse rx="4.6" ry="4.8" transform="translate(165.8 87.2) rotate(72)" fill="#959595"/><ellipse rx="4.6" ry="4.8" transform="translate(165.8 87.2) rotate(72)" class="gh"/><ellipse rx="5.6" ry="4.1" transform="translate(190.0 89.7) rotate(97)" fill="#a1a1a1"/><ellipse rx="5.6" ry="4.1" transform="translate(190.0 89.7) rotate(97)" class="gh"/><ellipse rx="7.5" ry="5.8" transform="translate(231.8 128.9) rotate(87)" fill="#a5a5a5"/><ellipse rx="7.5" ry="5.8" transform="translate(231.8 128.9) rotate(87)" class="gh"/><ellipse rx="6.7" ry="6.4" transform="translate(194.3 112.0) rotate(164)" fill="#8c8c8c"/><ellipse rx="6.7" ry="6.4" transform="translate(194.3 112.0) rotate(164)" class="gh"/><ellipse rx="7.4" ry="5.8" transform="translate(166.0 117.5) rotate(15)" fill="#989898"/><ellipse rx="7.4" ry="5.8" transform="translate(166.0 117.5) rotate(15)" class="gh"/><ellipse rx="5.6" ry="4.2" transform="translate(215.8 145.7) rotate(14)" fill="#969696"/><ellipse rx="5.6" ry="4.2" transform="translate(215.8 145.7) rotate(14)" class="gh"/><ellipse rx="6.0" ry="5.4" transform="translate(159.2 89.7) rotate(126)" fill="#8a8a8a"/><ellipse rx="6.0" ry="5.4" transform="translate(159.2 89.7) rotate(126)" class="gh"/><ellipse rx="5.5" ry="4.6" transform="translate(138.1 98.5) rotate(17)" fill="#919191"/><ellipse rx="5.5" ry="4.6" transform="translate(138.1 98.5) rotate(17)" class="gh"/><ellipse rx="7.1" ry="6.4" transform="translate(178.1 107.2) rotate(136)" fill="#a3a3a3"/><ellipse rx="7.1" ry="6.4" transform="translate(178.1 107.2) rotate(136)" class="gh"/><ellipse rx="7.4" ry="6.8" transform="translate(194.6 117.0) rotate(171)" fill="#767676"/><ellipse rx="7.4" ry="6.8" transform="translate(194.6 117.0) rotate(171)" class="gh"/><ellipse rx="5.4" ry="5.4" transform="translate(211.0 136.7) rotate(11)" fill="#818181"/><ellipse rx="5.4" ry="5.4" transform="translate(211.0 136.7) rotate(11)" class="gh"/><ellipse rx="6.9" ry="5.5" transform="translate(151.2 103.3) rotate(11)" fill="#919191"/><ellipse rx="6.9" ry="5.5" transform="translate(151.2 103.3) rotate(11)" class="gh"/><ellipse rx="4.6" ry="3.3" transform="translate(214.9 125.8) rotate(154)" fill="#989898"/><ellipse rx="4.6" ry="3.3" transform="translate(214.9 125.8) rotate(154)" class="gh"/><ellipse rx="5.3" ry="4.5" transform="translate(234.8 129.9) rotate(65)" fill="#999999"/><ellipse rx="5.3" ry="4.5" transform="translate(234.8 129.9) rotate(65)" class="gh"/><ellipse rx="6.5" ry="6.5" transform="translate(168.4 84.2) rotate(95)" fill="#888888"/><ellipse rx="6.5" ry="6.5" transform="translate(168.4 84.2) rotate(95)" class="gh"/><ellipse rx="6.1" ry="6.2" transform="translate(151.4 137.4) rotate(143)" fill="#808080"/><ellipse rx="6.1" ry="6.2" transform="translate(151.4 137.4) rotate(143)" class="gh"/><ellipse rx="7.7" ry="6.6" transform="translate(145.7 107.5) rotate(138)" fill="#747474"/><ellipse rx="7.7" ry="6.6" transform="translate(145.7 107.5) rotate(138)" class="gh"/><ellipse rx="7.9" ry="7.2" transform="translate(233.4 123.9) rotate(18)" fill="#939393"/><ellipse rx="7.9" ry="7.2" transform="translate(233.4 123.9) rotate(18)" class="gh"/><ellipse rx="4.7" ry="4.9" transform="translate(220.3 115.3) rotate(86)" fill="#a6a6a6"/><ellipse rx="4.7" ry="4.9" transform="translate(220.3 115.3) rotate(86)" class="gh"/><ellipse rx="5.3" ry="4.2" transform="translate(227.5 113.2) rotate(36)" fill="#8f8f8f"/><ellipse rx="5.3" ry="4.2" transform="translate(227.5 113.2) rotate(36)" class="gh"/><ellipse rx="7.1" ry="5.6" transform="translate(193.3 110.5) rotate(176)" fill="#808080"/><ellipse rx="7.1" ry="5.6" transform="translate(193.3 110.5) rotate(176)" class="gh"/><ellipse rx="6.7" ry="5.6" transform="translate(223.1 148.1) rotate(25)" fill="#979797"/><ellipse rx="6.7" ry="5.6" transform="translate(223.1 148.1) rotate(25)" class="gh"/><ellipse rx="4.6" ry="3.5" transform="translate(222.2 120.6) rotate(162)" fill="#a6a6a6"/><ellipse rx="4.6" ry="3.5" transform="translate(222.2 120.6) rotate(162)" class="gh"/><ellipse rx="5.6" ry="5.3" transform="translate(154.4 144.0) rotate(155)" fill="#9e9e9e"/><ellipse rx="5.6" ry="5.3" transform="translate(154.4 144.0) rotate(155)" class="gh"/><ellipse rx="5.8" ry="4.1" transform="translate(199.8 144.3) rotate(33)" fill="#6c6c6c"/><ellipse rx="5.8" ry="4.1" transform="translate(199.8 144.3) rotate(33)" class="gh"/><ellipse rx="4.6" ry="3.7" transform="translate(174.7 107.5) rotate(68)" fill="#878787"/><ellipse rx="4.6" ry="3.7" transform="translate(174.7 107.5) rotate(68)" class="gh"/><ellipse rx="5.9" ry="6.2" transform="translate(184.0 136.9) rotate(124)" fill="#9d9d9d"/><ellipse rx="5.9" ry="6.2" transform="translate(184.0 136.9) rotate(124)" class="gh"/><ellipse rx="7.3" ry="6.0" transform="translate(204.8 124.2) rotate(106)" fill="#5c5c5c"/><ellipse rx="7.3" ry="6.0" transform="translate(204.8 124.2) rotate(106)" class="gh"/><ellipse rx="5.5" ry="4.0" transform="translate(205.8 123.1) rotate(104)" fill="#9b9b9b"/><ellipse rx="5.5" ry="4.0" transform="translate(205.8 123.1) rotate(104)" class="gh"/><ellipse rx="5.6" ry="5.7" transform="translate(214.4 137.7) rotate(49)" fill="#949494"/><ellipse rx="5.6" ry="5.7" transform="translate(214.4 137.7) rotate(49)" class="gh"/><ellipse rx="7.1" ry="6.7" transform="translate(209.8 88.8) rotate(123)" fill="#b7b7b7"/><ellipse rx="7.1" ry="6.7" transform="translate(209.8 88.8) rotate(123)" class="gh"/><ellipse rx="6.6" ry="5.1" transform="translate(222.9 139.6) rotate(93)" fill="#7d7d7d"/><ellipse rx="6.6" ry="5.1" transform="translate(222.9 139.6) rotate(93)" class="gh"/><ellipse rx="7.9" ry="7.0" transform="translate(229.1 101.5) rotate(70)" fill="#888888"/><ellipse rx="7.9" ry="7.0" transform="translate(229.1 101.5) rotate(70)" class="gh"/><ellipse rx="7.6" ry="7.8" transform="translate(152.1 133.1) rotate(110)" fill="#8b8b8b"/><ellipse rx="7.6" ry="7.8" transform="translate(152.1 133.1) rotate(110)" class="gh"/><ellipse rx="6.9" ry="6.2" transform="translate(174.5 91.6) rotate(159)" fill="#858585"/><ellipse rx="6.9" ry="6.2" transform="translate(174.5 91.6) rotate(159)" class="gh"/><ellipse rx="5.4" ry="5.0" transform="translate(155.8 106.6) rotate(161)" fill="#757575"/><ellipse rx="5.4" ry="5.0" transform="translate(155.8 106.6) rotate(161)" class="gh"/><ellipse rx="7.2" ry="5.6" transform="translate(150.9 131.5) rotate(149)" fill="#a4a4a4"/><ellipse rx="7.2" ry="5.6" transform="translate(150.9 131.5) rotate(149)" class="gh"/><ellipse rx="6.0" ry="5.1" transform="translate(227.2 138.8) rotate(95)" fill="#949494"/><ellipse rx="6.0" ry="5.1" transform="translate(227.2 138.8) rotate(95)" class="gh"/><ellipse rx="5.5" ry="5.0" transform="translate(230.0 106.3) rotate(5)" fill="#979797"/><ellipse rx="5.5" ry="5.0" transform="translate(230.0 106.3) rotate(5)" class="gh"/><ellipse rx="6.6" ry="5.1" transform="translate(145.4 126.2) rotate(34)" fill="#878787"/><ellipse rx="6.6" ry="5.1" transform="translate(145.4 126.2) rotate(34)" class="gh"/><ellipse rx="6.9" ry="6.6" transform="translate(196.7 132.6) rotate(150)" fill="#a1a1a1"/><ellipse rx="6.9" ry="6.6" transform="translate(196.7 132.6) rotate(150)" class="gh"/><ellipse rx="7.5" ry="6.9" transform="translate(235.6 107.6) rotate(166)" fill="#939393"/><ellipse rx="7.5" ry="6.9" transform="translate(235.6 107.6) rotate(166)" class="gh"/><ellipse rx="7.4" ry="6.5" transform="translate(157.6 136.4) rotate(28)" fill="#959595"/><ellipse rx="7.4" ry="6.5" transform="translate(157.6 136.4) rotate(28)" class="gh"/><ellipse rx="6.7" ry="4.9" transform="translate(143.0 94.9) rotate(136)" fill="#929292"/><ellipse rx="6.7" ry="4.9" transform="translate(143.0 94.9) rotate(136)" class="gh"/><ellipse rx="7.3" ry="6.9" transform="translate(211.9 145.5) rotate(112)" fill="#bbbbbb"/><ellipse rx="7.3" ry="6.9" transform="translate(211.9 145.5) rotate(112)" class="gh"/><ellipse rx="4.9" ry="3.5" transform="translate(236.5 91.2) rotate(37)" fill="#707070"/><ellipse rx="4.9" ry="3.5" transform="translate(236.5 91.2) rotate(37)" class="gh"/><ellipse rx="6.9" ry="6.6" transform="translate(173.1 118.3) rotate(97)" fill="#9d9d9d"/><ellipse rx="6.9" ry="6.6" transform="translate(173.1 118.3) rotate(97)" class="gh"/><ellipse rx="6.6" ry="5.5" transform="translate(173.2 92.3) rotate(123)" fill="#959595"/><ellipse rx="6.6" ry="5.5" transform="translate(173.2 92.3) rotate(123)" class="gh"/><ellipse rx="7.8" ry="5.7" transform="translate(186.1 156.7) rotate(53)" fill="#8c8c8c"/><ellipse rx="7.8" ry="5.7" transform="translate(186.1 156.7) rotate(53)" class="gh"/><ellipse rx="5.7" ry="5.5" transform="translate(145.5 119.8) rotate(165)" fill="#666666"/><ellipse rx="5.7" ry="5.5" transform="translate(145.5 119.8) rotate(165)" class="gh"/><ellipse rx="6.2" ry="5.9" transform="translate(174.0 105.4) rotate(53)" fill="#909090"/><ellipse rx="6.2" ry="5.9" transform="translate(174.0 105.4) rotate(53)" class="gh"/><ellipse rx="6.3" ry="4.5" transform="translate(169.1 147.9) rotate(75)" fill="#6e6e6e"/><ellipse rx="6.3" ry="4.5" transform="translate(169.1 147.9) rotate(75)" class="gh"/><ellipse rx="4.8" ry="3.8" transform="translate(158.5 134.1) rotate(177)" fill="#9e9e9e"/><ellipse rx="4.8" ry="3.8" transform="translate(158.5 134.1) rotate(177)" class="gh"/><ellipse rx="7.8" ry="5.7" transform="translate(191.0 112.7) rotate(64)" fill="#989898"/><ellipse rx="7.8" ry="5.7" transform="translate(191.0 112.7) rotate(64)" class="gh"/><ellipse rx="7.2" ry="5.9" transform="translate(219.9 83.7) rotate(82)" fill="#9a9a9a"/><ellipse rx="7.2" ry="5.9" transform="translate(219.9 83.7) rotate(82)" class="gh"/><ellipse rx="4.7" ry="3.6" transform="translate(174.0 122.7) rotate(175)" fill="#8b8b8b"/><ellipse rx="4.7" ry="3.6" transform="translate(174.0 122.7) rotate(175)" class="gh"/><ellipse rx="4.8" ry="3.8" transform="translate(180.5 119.3) rotate(91)" fill="#aaaaaa"/><ellipse rx="4.8" ry="3.8" transform="translate(180.5 119.3) rotate(91)" class="gh"/><ellipse rx="7.2" ry="6.2" transform="translate(138.7 113.2) rotate(106)" fill="#808080"/><ellipse rx="7.2" ry="6.2" transform="translate(138.7 113.2) rotate(106)" class="gh"/><ellipse rx="6.7" ry="4.8" transform="translate(229.7 132.5) rotate(74)" fill="#afafaf"/><ellipse rx="6.7" ry="4.8" transform="translate(229.7 132.5) rotate(74)" class="gh"/><ellipse rx="7.7" ry="6.4" transform="translate(226.7 146.2) rotate(179)" fill="#8f8f8f"/><ellipse rx="7.7" ry="6.4" transform="translate(226.7 146.2) rotate(179)" class="gh"/><ellipse rx="5.0" ry="4.9" transform="translate(214.1 151.3) rotate(178)" fill="#565656"/><ellipse rx="5.0" ry="4.9" transform="translate(214.1 151.3) rotate(178)" class="gh"/><ellipse rx="5.4" ry="4.7" transform="translate(156.2 115.4) rotate(51)" fill="#a5a5a5"/><ellipse rx="5.4" ry="4.7" transform="translate(156.2 115.4) rotate(51)" class="gh"/><ellipse rx="5.1" ry="4.4" transform="translate(204.4 92.7) rotate(161)" fill="#9d9d9d"/><ellipse rx="5.1" ry="4.4" transform="translate(204.4 92.7) rotate(161)" class="gh"/><ellipse rx="4.6" ry="4.5" transform="translate(227.9 98.3) rotate(172)" fill="#939393"/><ellipse rx="4.6" ry="4.5" transform="translate(227.9 98.3) rotate(172)" class="gh"/><ellipse rx="5.3" ry="5.4" transform="translate(197.2 93.7) rotate(33)" fill="#8f8f8f"/><ellipse rx="5.3" ry="5.4" transform="translate(197.2 93.7) rotate(33)" class="gh"/><ellipse rx="7.1" ry="5.9" transform="translate(179.0 103.6) rotate(139)" fill="#878787"/><ellipse rx="7.1" ry="5.9" transform="translate(179.0 103.6) rotate(139)" class="gh"/><ellipse rx="7.9" ry="7.5" transform="translate(149.3 122.8) rotate(115)" fill="#939393"/><ellipse rx="7.9" ry="7.5" transform="translate(149.3 122.8) rotate(115)" class="gh"/><ellipse rx="6.2" ry="5.6" transform="translate(173.2 111.4) rotate(173)" fill="#8f8f8f"/><ellipse rx="6.2" ry="5.6" transform="translate(173.2 111.4) rotate(173)" class="gh"/><ellipse rx="5.4" ry="4.8" transform="translate(158.8 126.6) rotate(86)" fill="#888888"/><ellipse rx="5.4" ry="4.8" transform="translate(158.8 126.6) rotate(86)" class="gh"/><ellipse rx="7.2" ry="6.1" transform="translate(208.7 83.9) rotate(90)" fill="#7e7e7e"/><ellipse rx="7.2" ry="6.1" transform="translate(208.7 83.9) rotate(90)" class="gh"/><ellipse rx="4.7" ry="4.1" transform="translate(198.4 143.7) rotate(62)" fill="#9f9f9f"/><ellipse rx="4.7" ry="4.1" transform="translate(198.4 143.7) rotate(62)" class="gh"/><ellipse rx="6.1" ry="5.6" transform="translate(135.3 106.0) rotate(166)" fill="#8f8f8f"/><ellipse rx="6.1" ry="5.6" transform="translate(135.3 106.0) rotate(166)" class="gh"/><ellipse rx="7.0" ry="7.2" transform="translate(172.7 123.7) rotate(54)" fill="#c8c8c8"/><ellipse rx="7.0" ry="7.2" transform="translate(172.7 123.7) rotate(54)" class="gh"/><ellipse rx="4.8" ry="4.1" transform="translate(150.9 154.3) rotate(132)" fill="#757575"/><ellipse rx="4.8" ry="4.1" transform="translate(150.9 154.3) rotate(132)" class="gh"/><ellipse rx="7.7" ry="6.2" transform="translate(189.7 112.9) rotate(24)" fill="#626262"/><ellipse rx="7.7" ry="6.2" transform="translate(189.7 112.9) rotate(24)" class="gh"/><ellipse rx="6.5" ry="5.0" transform="translate(170.6 121.0) rotate(81)" fill="#7c7c7c"/><ellipse rx="6.5" ry="5.0" transform="translate(170.6 121.0) rotate(81)" class="gh"/><ellipse rx="5.7" ry="4.3" transform="translate(139.4 90.0) rotate(49)" fill="#9a9a9a"/><ellipse rx="5.7" ry="4.3" transform="translate(139.4 90.0) rotate(49)" class="gh"/><ellipse rx="5.4" ry="5.4" transform="translate(217.0 139.8) rotate(112)" fill="#868686"/><ellipse rx="5.4" ry="5.4" transform="translate(217.0 139.8) rotate(112)" class="gh"/><ellipse rx="5.4" ry="4.2" transform="translate(174.7 131.2) rotate(161)" fill="#9a9a9a"/><ellipse rx="5.4" ry="4.2" transform="translate(174.7 131.2) rotate(161)" class="gh"/><ellipse rx="4.7" ry="4.5" transform="translate(152.0 93.8) rotate(101)" fill="#797979"/><ellipse rx="4.7" ry="4.5" transform="translate(152.0 93.8) rotate(101)" class="gh"/><ellipse rx="7.4" ry="6.4" transform="translate(134.0 86.6) rotate(105)" fill="#8e8e8e"/><ellipse rx="7.4" ry="6.4" transform="translate(134.0 86.6) rotate(105)" class="gh"/><ellipse rx="6.6" ry="6.1" transform="translate(145.6 138.2) rotate(39)" fill="#858585"/><ellipse rx="6.6" ry="6.1" transform="translate(145.6 138.2) rotate(39)" class="gh"/><ellipse rx="4.7" ry="4.4" transform="translate(234.7 91.8) rotate(82)" fill="#909090"/><ellipse rx="4.7" ry="4.4" transform="translate(234.7 91.8) rotate(82)" class="gh"/><ellipse rx="7.0" ry="5.1" transform="translate(202.6 151.3) rotate(115)" fill="#8e8e8e"/><ellipse rx="7.0" ry="5.1" transform="translate(202.6 151.3) rotate(115)" class="gh"/><ellipse rx="7.1" ry="5.6" transform="translate(223.4 92.5) rotate(136)" fill="#898989"/><ellipse rx="7.1" ry="5.6" transform="translate(223.4 92.5) rotate(136)" class="gh"/><ellipse rx="6.1" ry="4.6" transform="translate(188.3 152.0) rotate(38)" fill="#8b8b8b"/><ellipse rx="6.1" ry="4.6" transform="translate(188.3 152.0) rotate(38)" class="gh"/><ellipse rx="5.2" ry="3.8" transform="translate(161.2 155.4) rotate(76)" fill="#848484"/><ellipse rx="5.2" ry="3.8" transform="translate(161.2 155.4) rotate(76)" class="gh"/><ellipse rx="5.1" ry="3.8" transform="translate(199.6 132.9) rotate(88)" fill="#919191"/><ellipse rx="5.1" ry="3.8" transform="translate(199.6 132.9) rotate(88)" class="gh"/><ellipse rx="6.5" ry="6.6" transform="translate(206.7 117.4) rotate(88)" fill="#949494"/><ellipse rx="6.5" ry="6.6" transform="translate(206.7 117.4) rotate(88)" class="gh"/><ellipse rx="6.4" ry="6.0" transform="translate(190.5 151.9) rotate(75)" fill="#979797"/><ellipse rx="6.4" ry="6.0" transform="translate(190.5 151.9) rotate(75)" class="gh"/><ellipse rx="5.5" ry="4.1" transform="translate(217.1 147.0) rotate(160)" fill="#888888"/><ellipse rx="5.5" ry="4.1" transform="translate(217.1 147.0) rotate(160)" class="gh"/><ellipse rx="6.7" ry="7.0" transform="translate(161.4 131.3) rotate(20)" fill="#9e9e9e"/><ellipse rx="6.7" ry="7.0" transform="translate(161.4 131.3) rotate(20)" class="gh"/><ellipse rx="4.9" ry="4.5" transform="translate(215.5 108.9) rotate(8)" fill="#9a9a9a"/><ellipse rx="4.9" ry="4.5" transform="translate(215.5 108.9) rotate(8)" class="gh"/><ellipse rx="6.7" ry="6.4" transform="translate(237.2 112.6) rotate(46)" fill="#717171"/><ellipse rx="6.7" ry="6.4" transform="translate(237.2 112.6) rotate(46)" class="gh"/><ellipse rx="4.8" ry="3.5" transform="translate(176.8 108.4) rotate(156)" fill="#858585"/><ellipse rx="4.8" ry="3.5" transform="translate(176.8 108.4) rotate(156)" class="gh"/><ellipse rx="5.1" ry="5.3" transform="translate(139.7 106.3) rotate(142)" fill="#737373"/><ellipse rx="5.1" ry="5.3" transform="translate(139.7 106.3) rotate(142)" class="gh"/><ellipse rx="4.9" ry="4.1" transform="translate(229.1 121.9) rotate(101)" fill="#8a8a8a"/><ellipse rx="4.9" ry="4.1" transform="translate(229.1 121.9) rotate(101)" class="gh"/><ellipse rx="6.3" ry="6.5" transform="translate(164.1 91.5) rotate(170)" fill="#8f8f8f"/><ellipse rx="6.3" ry="6.5" transform="translate(164.1 91.5) rotate(170)" class="gh"/><ellipse rx="7.2" ry="5.3" transform="translate(183.0 91.1) rotate(177)" fill="#818181"/><ellipse rx="7.2" ry="5.3" transform="translate(183.0 91.1) rotate(177)" class="gh"/><ellipse rx="5.5" ry="4.9" transform="translate(191.2 116.6) rotate(175)" fill="#878787"/><ellipse rx="5.5" ry="4.9" transform="translate(191.2 116.6) rotate(175)" class="gh"/><ellipse rx="6.3" ry="6.4" transform="translate(178.9 99.2) rotate(165)" fill="#737373"/><ellipse rx="6.3" ry="6.4" transform="translate(178.9 99.2) rotate(165)" class="gh"/><ellipse rx="6.4" ry="4.8" transform="translate(167.9 145.1) rotate(9)" fill="#9f9f9f"/><ellipse rx="6.4" ry="4.8" transform="translate(167.9 145.1) rotate(9)" class="gh"/><ellipse rx="6.1" ry="6.2" transform="translate(233.7 118.8) rotate(51)" fill="#727272"/><ellipse rx="6.1" ry="6.2" transform="translate(233.7 118.8) rotate(51)" class="gh"/><ellipse rx="6.1" ry="5.9" transform="translate(212.8 102.8) rotate(108)" fill="#7e7e7e"/><ellipse rx="6.1" ry="5.9" transform="translate(212.8 102.8) rotate(108)" class="gh"/><ellipse rx="6.9" ry="6.6" transform="translate(147.4 98.7) rotate(24)" fill="#c6c6c6"/><ellipse rx="6.9" ry="6.6" transform="translate(147.4 98.7) rotate(24)" class="gh"/><ellipse rx="6.1" ry="5.6" transform="translate(151.0 90.1) rotate(154)" fill="#b7b7b7"/><ellipse rx="6.1" ry="5.6" transform="translate(151.0 90.1) rotate(154)" class="gh"/><ellipse rx="4.9" ry="4.4" transform="translate(150.5 136.5) rotate(9)" fill="#898989"/><ellipse rx="4.9" ry="4.4" transform="translate(150.5 136.5) rotate(9)" class="gh"/><ellipse rx="7.2" ry="5.9" transform="translate(210.2 92.6) rotate(106)" fill="#9e9e9e"/><ellipse rx="7.2" ry="5.9" transform="translate(210.2 92.6) rotate(106)" class="gh"/><ellipse rx="7.6" ry="7.7" transform="translate(201.5 120.5) rotate(157)" fill="#868686"/><ellipse rx="7.6" ry="7.7" transform="translate(201.5 120.5) rotate(157)" class="gh"/><ellipse rx="6.0" ry="6.2" transform="translate(147.2 115.3) rotate(23)" fill="#9d9d9d"/><ellipse rx="6.0" ry="6.2" transform="translate(147.2 115.3) rotate(23)" class="gh"/><ellipse rx="7.0" ry="4.9" transform="translate(203.2 141.0) rotate(153)" fill="#9b9b9b"/><ellipse rx="7.0" ry="4.9" transform="translate(203.2 141.0) rotate(153)" class="gh"/><ellipse rx="7.4" ry="7.0" transform="translate(203.9 115.4) rotate(61)" fill="#838383"/><ellipse rx="7.4" ry="7.0" transform="translate(203.9 115.4) rotate(61)" class="gh"/><ellipse rx="7.0" ry="6.4" transform="translate(211.5 121.8) rotate(89)" fill="#8d8d8d"/><ellipse rx="7.0" ry="6.4" transform="translate(211.5 121.8) rotate(89)" class="gh"/><ellipse rx="7.2" ry="7.1" transform="translate(133.1 143.6) rotate(7)" fill="#7d7d7d"/><ellipse rx="7.2" ry="7.1" transform="translate(133.1 143.6) rotate(7)" class="gh"/></g>
<path d="M136,86.3 L237.2,86.3 L237.2,156.5 L136,156.5 Z" fill="#888" filter="url(#tg2)" opacity="0.2"/>
<path d="M186,104 L191,103 L193,112 L188,115 L185,110 Z" fill="#1a1a1a" filter="url(#bl2)"/>
<path d="M176,134 L183,134 L184,143 L178,143 Z" fill="#282828" filter="url(#bl2)"/>
<path d="M195,121 L205,121 L205,126 L196,126 Z" fill="#262626" filter="url(#bl2)"/>
<path d="M150,112 L165,108 L172,118 L160,124 Z" fill="#b8b8b8" opacity="0.7" filter="url(#bl2)"/>
<path d="M186,126 L200,128 L204,142 L190,144 Z" fill="#c0c0c0" opacity="0.7" filter="url(#bl2)"/>
</g>
<g clip-path="url(#cpf)">
<path d="M249.1,86.3 L350.3,86.3 L350.3,155.7 L249.1,155.7 Z" fill="#666"/>
<g filter="url(#sb)"><ellipse rx="5.0" ry="3.9" transform="translate(331.1 145.3) rotate(84)" fill="#9b9b9b"/><ellipse rx="5.0" ry="3.9" transform="translate(331.1 145.3) rotate(84)" class="gh"/><ellipse rx="5.8" ry="4.6" transform="translate(327.5 111.4) rotate(144)" fill="#828282"/><ellipse rx="5.8" ry="4.6" transform="translate(327.5 111.4) rotate(144)" class="gh"/><ellipse rx="5.1" ry="4.8" transform="translate(324.3 114.5) rotate(144)" fill="#898989"/><ellipse rx="5.1" ry="4.8" transform="translate(324.3 114.5) rotate(144)" class="gh"/><ellipse rx="5.6" ry="5.5" transform="translate(274.6 143.9) rotate(60)" fill="#969696"/><ellipse rx="5.6" ry="5.5" transform="translate(274.6 143.9) rotate(60)" class="gh"/><ellipse rx="5.9" ry="5.1" transform="translate(256.1 143.6) rotate(114)" fill="#8b8b8b"/><ellipse rx="5.9" ry="5.1" transform="translate(256.1 143.6) rotate(114)" class="gh"/><ellipse rx="5.3" ry="4.1" transform="translate(277.3 155.0) rotate(117)" fill="#888888"/><ellipse rx="5.3" ry="4.1" transform="translate(277.3 155.0) rotate(117)" class="gh"/><ellipse rx="6.2" ry="5.5" transform="translate(284.7 153.6) rotate(144)" fill="#717171"/><ellipse rx="6.2" ry="5.5" transform="translate(284.7 153.6) rotate(144)" class="gh"/><ellipse rx="4.6" ry="4.2" transform="translate(350.8 85.4) rotate(54)" fill="#6d6d6d"/><ellipse rx="4.6" ry="4.2" transform="translate(350.8 85.4) rotate(54)" class="gh"/><ellipse rx="6.1" ry="5.4" transform="translate(309.3 90.1) rotate(56)" fill="#949494"/><ellipse rx="6.1" ry="5.4" transform="translate(309.3 90.1) rotate(56)" class="gh"/><ellipse rx="3.9" ry="3.0" transform="translate(267.1 119.8) rotate(155)" fill="#929292"/><ellipse rx="3.9" ry="3.0" transform="translate(267.1 119.8) rotate(155)" class="gh"/><ellipse rx="5.8" ry="4.1" transform="translate(320.9 84.2) rotate(111)" fill="#6f6f6f"/><ellipse rx="5.8" ry="4.1" transform="translate(320.9 84.2) rotate(111)" class="gh"/><ellipse rx="4.7" ry="3.5" transform="translate(278.9 111.8) rotate(179)" fill="#a1a1a1"/><ellipse rx="4.7" ry="3.5" transform="translate(278.9 111.8) rotate(179)" class="gh"/><ellipse rx="5.7" ry="4.8" transform="translate(251.9 115.2) rotate(176)" fill="#8e8e8e"/><ellipse rx="5.7" ry="4.8" transform="translate(251.9 115.2) rotate(176)" class="gh"/><ellipse rx="6.2" ry="5.3" transform="translate(341.7 133.8) rotate(149)" fill="#808080"/><ellipse rx="6.2" ry="5.3" transform="translate(341.7 133.8) rotate(149)" class="gh"/><ellipse rx="4.9" ry="4.7" transform="translate(331.4 122.3) rotate(134)" fill="#7b7b7b"/><ellipse rx="4.9" ry="4.7" transform="translate(331.4 122.3) rotate(134)" class="gh"/><ellipse rx="5.9" ry="4.4" transform="translate(274.6 120.1) rotate(3)" fill="#858585"/><ellipse rx="5.9" ry="4.4" transform="translate(274.6 120.1) rotate(3)" class="gh"/><ellipse rx="4.6" ry="3.6" transform="translate(259.3 127.7) rotate(45)" fill="#5c5c5c"/><ellipse rx="4.6" ry="3.6" transform="translate(259.3 127.7) rotate(45)" class="gh"/><ellipse rx="5.3" ry="4.2" transform="translate(290.1 149.6) rotate(85)" fill="#8d8d8d"/><ellipse rx="5.3" ry="4.2" transform="translate(290.1 149.6) rotate(85)" class="gh"/><ellipse rx="4.6" ry="3.7" transform="translate(297.4 94.0) rotate(118)" fill="#878787"/><ellipse rx="4.6" ry="3.7" transform="translate(297.4 94.0) rotate(118)" class="gh"/><ellipse rx="4.6" ry="4.2" transform="translate(350.2 152.9) rotate(57)" fill="#737373"/><ellipse rx="4.6" ry="4.2" transform="translate(350.2 152.9) rotate(57)" class="gh"/><ellipse rx="5.9" ry="6.0" transform="translate(288.8 120.1) rotate(80)" fill="#818181"/><ellipse rx="5.9" ry="6.0" transform="translate(288.8 120.1) rotate(80)" class="gh"/><ellipse rx="5.8" ry="4.3" transform="translate(252.2 85.6) rotate(129)" fill="#838383"/><ellipse rx="5.8" ry="4.3" transform="translate(252.2 85.6) rotate(129)" class="gh"/><ellipse rx="6.1" ry="4.4" transform="translate(284.9 154.1) rotate(110)" fill="#909090"/><ellipse rx="6.1" ry="4.4" transform="translate(284.9 154.1) rotate(110)" class="gh"/><ellipse rx="5.9" ry="5.2" transform="translate(291.4 142.3) rotate(84)" fill="#a8a8a8"/><ellipse rx="5.9" ry="5.2" transform="translate(291.4 142.3) rotate(84)" class="gh"/><ellipse rx="3.9" ry="3.6" transform="translate(256.8 110.6) rotate(113)" fill="#7a7a7a"/><ellipse rx="3.9" ry="3.6" transform="translate(256.8 110.6) rotate(113)" class="gh"/><ellipse rx="5.4" ry="4.7" transform="translate(256.5 91.2) rotate(161)" fill="#7c7c7c"/><ellipse rx="5.4" ry="4.7" transform="translate(256.5 91.2) rotate(161)" class="gh"/><ellipse rx="3.9" ry="3.8" transform="translate(313.5 136.2) rotate(164)" fill="#969696"/><ellipse rx="3.9" ry="3.8" transform="translate(313.5 136.2) rotate(164)" class="gh"/><ellipse rx="4.9" ry="4.6" transform="translate(343.4 150.7) rotate(142)" fill="#8d8d8d"/><ellipse rx="4.9" ry="4.6" transform="translate(343.4 150.7) rotate(142)" class="gh"/><ellipse rx="6.2" ry="5.3" transform="translate(260.8 154.4) rotate(49)" fill="#858585"/><ellipse rx="6.2" ry="5.3" transform="translate(260.8 154.4) rotate(49)" class="gh"/><ellipse rx="5.9" ry="6.2" transform="translate(322.5 88.1) rotate(51)" fill="#6f6f6f"/><ellipse rx="5.9" ry="6.2" transform="translate(322.5 88.1) rotate(51)" class="gh"/><ellipse rx="6.1" ry="4.8" transform="translate(346.8 89.6) rotate(165)" fill="#939393"/><ellipse rx="6.1" ry="4.8" transform="translate(346.8 89.6) rotate(165)" class="gh"/><ellipse rx="5.9" ry="5.5" transform="translate(249.5 89.8) rotate(96)" fill="#7e7e7e"/><ellipse rx="5.9" ry="5.5" transform="translate(249.5 89.8) rotate(96)" class="gh"/><ellipse rx="4.6" ry="3.3" transform="translate(249.6 96.4) rotate(170)" fill="#9e9e9e"/><ellipse rx="4.6" ry="3.3" transform="translate(249.6 96.4) rotate(170)" class="gh"/><ellipse rx="3.7" ry="3.6" transform="translate(321.2 109.2) rotate(20)" fill="#808080"/><ellipse rx="3.7" ry="3.6" transform="translate(321.2 109.2) rotate(20)" class="gh"/><ellipse rx="5.0" ry="3.6" transform="translate(304.8 118.3) rotate(5)" fill="#949494"/><ellipse rx="5.0" ry="3.6" transform="translate(304.8 118.3) rotate(5)" class="gh"/><ellipse rx="4.3" ry="3.3" transform="translate(302.4 94.6) rotate(102)" fill="#8b8b8b"/><ellipse rx="4.3" ry="3.3" transform="translate(302.4 94.6) rotate(102)" class="gh"/><ellipse rx="4.2" ry="3.7" transform="translate(287.7 100.1) rotate(29)" fill="#909090"/><ellipse rx="4.2" ry="3.7" transform="translate(287.7 100.1) rotate(29)" class="gh"/><ellipse rx="5.2" ry="5.1" transform="translate(280.0 101.4) rotate(102)" fill="#787878"/><ellipse rx="5.2" ry="5.1" transform="translate(280.0 101.4) rotate(102)" class="gh"/><ellipse rx="4.6" ry="4.0" transform="translate(266.3 107.8) rotate(99)" fill="#525252"/><ellipse rx="4.6" ry="4.0" transform="translate(266.3 107.8) rotate(99)" class="gh"/><ellipse rx="5.4" ry="5.3" transform="translate(317.1 137.3) rotate(67)" fill="#a5a5a5"/><ellipse rx="5.4" ry="5.3" transform="translate(317.1 137.3) rotate(67)" class="gh"/><ellipse rx="4.0" ry="3.7" transform="translate(317.6 156.6) rotate(7)" fill="#7d7d7d"/><ellipse rx="4.0" ry="3.7" transform="translate(317.6 156.6) rotate(7)" class="gh"/><ellipse rx="5.6" ry="4.1" transform="translate(327.5 91.9) rotate(66)" fill="#858585"/><ellipse rx="5.6" ry="4.1" transform="translate(327.5 91.9) rotate(66)" class="gh"/><ellipse rx="5.9" ry="4.6" transform="translate(249.5 124.2) rotate(52)" fill="#5e5e5e"/><ellipse rx="5.9" ry="4.6" transform="translate(249.5 124.2) rotate(52)" class="gh"/><ellipse rx="6.1" ry="4.6" transform="translate(296.6 137.9) rotate(119)" fill="#727272"/><ellipse rx="6.1" ry="4.6" transform="translate(296.6 137.9) rotate(119)" class="gh"/><ellipse rx="6.4" ry="4.6" transform="translate(259.0 91.8) rotate(121)" fill="#9a9a9a"/><ellipse rx="6.4" ry="4.6" transform="translate(259.0 91.8) rotate(121)" class="gh"/><ellipse rx="4.4" ry="3.7" transform="translate(324.3 132.4) rotate(36)" fill="#747474"/><ellipse rx="4.4" ry="3.7" transform="translate(324.3 132.4) rotate(36)" class="gh"/><ellipse rx="5.9" ry="4.5" transform="translate(338.2 142.0) rotate(142)" fill="#777777"/><ellipse rx="5.9" ry="4.5" transform="translate(338.2 142.0) rotate(142)" class="gh"/><ellipse rx="5.6" ry="5.3" transform="translate(325.9 158.3) rotate(139)" fill="#7a7a7a"/><ellipse rx="5.6" ry="5.3" transform="translate(325.9 158.3) rotate(139)" class="gh"/><ellipse rx="3.6" ry="3.0" transform="translate(256.1 128.2) rotate(5)" fill="#a0a0a0"/><ellipse rx="3.6" ry="3.0" transform="translate(256.1 128.2) rotate(5)" class="gh"/><ellipse rx="4.8" ry="4.8" transform="translate(344.9 154.8) rotate(9)" fill="#9d9d9d"/><ellipse rx="4.8" ry="4.8" transform="translate(344.9 154.8) rotate(9)" class="gh"/><ellipse rx="3.7" ry="2.6" transform="translate(261.0 84.0) rotate(106)" fill="#858585"/><ellipse rx="3.7" ry="2.6" transform="translate(261.0 84.0) rotate(106)" class="gh"/><ellipse rx="4.8" ry="3.6" transform="translate(275.4 93.3) rotate(175)" fill="#7b7b7b"/><ellipse rx="4.8" ry="3.6" transform="translate(275.4 93.3) rotate(175)" class="gh"/><ellipse rx="5.2" ry="4.8" transform="translate(287.3 128.1) rotate(24)" fill="#747474"/><ellipse rx="5.2" ry="4.8" transform="translate(287.3 128.1) rotate(24)" class="gh"/><ellipse rx="4.8" ry="4.8" transform="translate(341.3 97.8) rotate(103)" fill="#838383"/><ellipse rx="4.8" ry="4.8" transform="translate(341.3 97.8) rotate(103)" class="gh"/><ellipse rx="5.0" ry="3.7" transform="translate(347.7 144.3) rotate(155)" fill="#717171"/><ellipse rx="5.0" ry="3.7" transform="translate(347.7 144.3) rotate(155)" class="gh"/><ellipse rx="5.9" ry="5.1" transform="translate(303.0 135.6) rotate(151)" fill="#777777"/><ellipse rx="5.9" ry="5.1" transform="translate(303.0 135.6) rotate(151)" class="gh"/><ellipse rx="6.3" ry="6.3" transform="translate(342.5 94.9) rotate(45)" fill="#8b8b8b"/><ellipse rx="6.3" ry="6.3" transform="translate(342.5 94.9) rotate(45)" class="gh"/><ellipse rx="6.1" ry="5.0" transform="translate(260.3 111.3) rotate(0)" fill="#757575"/><ellipse rx="6.1" ry="5.0" transform="translate(260.3 111.3) rotate(0)" class="gh"/><ellipse rx="5.4" ry="5.2" transform="translate(278.8 89.5) rotate(68)" fill="#888888"/><ellipse rx="5.4" ry="5.2" transform="translate(278.8 89.5) rotate(68)" class="gh"/><ellipse rx="6.0" ry="5.3" transform="translate(259.6 151.9) rotate(171)" fill="#7e7e7e"/><ellipse rx="6.0" ry="5.3" transform="translate(259.6 151.9) rotate(171)" class="gh"/><ellipse rx="5.0" ry="4.1" transform="translate(301.9 141.8) rotate(106)" fill="#a2a2a2"/><ellipse rx="5.0" ry="4.1" transform="translate(301.9 141.8) rotate(106)" class="gh"/><ellipse rx="5.9" ry="4.3" transform="translate(339.1 132.3) rotate(23)" fill="#808080"/><ellipse rx="5.9" ry="4.3" transform="translate(339.1 132.3) rotate(23)" class="gh"/><ellipse rx="5.7" ry="4.3" transform="translate(257.8 128.8) rotate(123)" fill="#797979"/><ellipse rx="5.7" ry="4.3" transform="translate(257.8 128.8) rotate(123)" class="gh"/><ellipse rx="6.4" ry="6.0" transform="translate(329.6 89.8) rotate(22)" fill="#818181"/><ellipse rx="6.4" ry="6.0" transform="translate(329.6 89.8) rotate(22)" class="gh"/><ellipse rx="5.7" ry="5.8" transform="translate(283.7 95.2) rotate(113)" fill="#868686"/><ellipse rx="5.7" ry="5.8" transform="translate(283.7 95.2) rotate(113)" class="gh"/><ellipse rx="4.9" ry="3.6" transform="translate(338.2 139.0) rotate(110)" fill="#8b8b8b"/><ellipse rx="4.9" ry="3.6" transform="translate(338.2 139.0) rotate(110)" class="gh"/><ellipse rx="5.2" ry="5.0" transform="translate(294.9 143.9) rotate(164)" fill="#999999"/><ellipse rx="5.2" ry="5.0" transform="translate(294.9 143.9) rotate(164)" class="gh"/><ellipse rx="6.1" ry="4.4" transform="translate(275.5 83.4) rotate(178)" fill="#7d7d7d"/><ellipse rx="6.1" ry="4.4" transform="translate(275.5 83.4) rotate(178)" class="gh"/><ellipse rx="4.3" ry="4.1" transform="translate(295.0 87.9) rotate(18)" fill="#707070"/><ellipse rx="4.3" ry="4.1" transform="translate(295.0 87.9) rotate(18)" class="gh"/><ellipse rx="6.0" ry="4.5" transform="translate(335.7 111.4) rotate(120)" fill="#919191"/><ellipse rx="6.0" ry="4.5" transform="translate(335.7 111.4) rotate(120)" class="gh"/><ellipse rx="3.6" ry="3.2" transform="translate(296.4 113.8) rotate(80)" fill="#868686"/><ellipse rx="3.6" ry="3.2" transform="translate(296.4 113.8) rotate(80)" class="gh"/><ellipse rx="6.4" ry="6.0" transform="translate(247.4 158.3) rotate(86)" fill="#7b7b7b"/><ellipse rx="6.4" ry="6.0" transform="translate(247.4 158.3) rotate(86)" class="gh"/><ellipse rx="5.6" ry="5.5" transform="translate(253.6 92.4) rotate(78)" fill="#a3a3a3"/><ellipse rx="5.6" ry="5.5" transform="translate(253.6 92.4) rotate(78)" class="gh"/><ellipse rx="4.5" ry="4.0" transform="translate(273.5 124.2) rotate(159)" fill="#7f7f7f"/><ellipse rx="4.5" ry="4.0" transform="translate(273.5 124.2) rotate(159)" class="gh"/><ellipse rx="5.7" ry="4.0" transform="translate(294.7 157.3) rotate(111)" fill="#818181"/><ellipse rx="5.7" ry="4.0" transform="translate(294.7 157.3) rotate(111)" class="gh"/><ellipse rx="5.0" ry="4.4" transform="translate(246.5 149.6) rotate(30)" fill="#686868"/><ellipse rx="5.0" ry="4.4" transform="translate(246.5 149.6) rotate(30)" class="gh"/><ellipse rx="4.1" ry="3.3" transform="translate(249.9 84.4) rotate(130)" fill="#858585"/><ellipse rx="4.1" ry="3.3" transform="translate(249.9 84.4) rotate(130)" class="gh"/><ellipse rx="4.2" ry="4.0" transform="translate(321.4 149.8) rotate(107)" fill="#868686"/><ellipse rx="4.2" ry="4.0" transform="translate(321.4 149.8) rotate(107)" class="gh"/><ellipse rx="4.6" ry="3.5" transform="translate(255.8 149.3) rotate(39)" fill="#919191"/><ellipse rx="4.6" ry="3.5" transform="translate(255.8 149.3) rotate(39)" class="gh"/><ellipse rx="4.6" ry="4.3" transform="translate(287.3 124.5) rotate(15)" fill="#a5a5a5"/><ellipse rx="4.6" ry="4.3" transform="translate(287.3 124.5) rotate(15)" class="gh"/><ellipse rx="5.4" ry="4.9" transform="translate(292.2 127.4) rotate(174)" fill="#7f7f7f"/><ellipse rx="5.4" ry="4.9" transform="translate(292.2 127.4) rotate(174)" class="gh"/><ellipse rx="6.0" ry="4.7" transform="translate(297.8 131.9) rotate(47)" fill="#9a9a9a"/><ellipse rx="6.0" ry="4.7" transform="translate(297.8 131.9) rotate(47)" class="gh"/><ellipse rx="4.8" ry="4.0" transform="translate(350.1 106.0) rotate(161)" fill="#979797"/><ellipse rx="4.8" ry="4.0" transform="translate(350.1 106.0) rotate(161)" class="gh"/><ellipse rx="5.4" ry="4.4" transform="translate(263.5 104.2) rotate(119)" fill="#818181"/><ellipse rx="5.4" ry="4.4" transform="translate(263.5 104.2) rotate(119)" class="gh"/><ellipse rx="3.8" ry="3.3" transform="translate(300.5 89.2) rotate(47)" fill="#777777"/><ellipse rx="3.8" ry="3.3" transform="translate(300.5 89.2) rotate(47)" class="gh"/><ellipse rx="4.4" ry="3.7" transform="translate(246.2 103.4) rotate(106)" fill="#7f7f7f"/><ellipse rx="4.4" ry="3.7" transform="translate(246.2 103.4) rotate(106)" class="gh"/><ellipse rx="5.7" ry="4.6" transform="translate(337.5 137.4) rotate(160)" fill="#666666"/><ellipse rx="5.7" ry="4.6" transform="translate(337.5 137.4) rotate(160)" class="gh"/><ellipse rx="3.7" ry="3.2" transform="translate(271.9 84.4) rotate(157)" fill="#828282"/><ellipse rx="3.7" ry="3.2" transform="translate(271.9 84.4) rotate(157)" class="gh"/><ellipse rx="5.4" ry="5.4" transform="translate(262.5 142.4) rotate(142)" fill="#888888"/><ellipse rx="5.4" ry="5.4" transform="translate(262.5 142.4) rotate(142)" class="gh"/><ellipse rx="4.7" ry="4.1" transform="translate(260.6 92.3) rotate(12)" fill="#7d7d7d"/><ellipse rx="4.7" ry="4.1" transform="translate(260.6 92.3) rotate(12)" class="gh"/><ellipse rx="3.9" ry="2.9" transform="translate(275.7 96.5) rotate(58)" fill="#8d8d8d"/><ellipse rx="3.9" ry="2.9" transform="translate(275.7 96.5) rotate(58)" class="gh"/><ellipse rx="5.3" ry="4.6" transform="translate(291.1 135.7) rotate(58)" fill="#838383"/><ellipse rx="5.3" ry="4.6" transform="translate(291.1 135.7) rotate(58)" class="gh"/><ellipse rx="4.0" ry="3.0" transform="translate(312.0 97.8) rotate(40)" fill="#7d7d7d"/><ellipse rx="4.0" ry="3.0" transform="translate(312.0 97.8) rotate(40)" class="gh"/><ellipse rx="5.4" ry="4.9" transform="translate(283.8 125.8) rotate(107)" fill="#797979"/><ellipse rx="5.4" ry="4.9" transform="translate(283.8 125.8) rotate(107)" class="gh"/><ellipse rx="5.7" ry="4.8" transform="translate(266.8 152.1) rotate(21)" fill="#707070"/><ellipse rx="5.7" ry="4.8" transform="translate(266.8 152.1) rotate(21)" class="gh"/><ellipse rx="4.6" ry="4.0" transform="translate(315.2 151.4) rotate(45)" fill="#8f8f8f"/><ellipse rx="4.6" ry="4.0" transform="translate(315.2 151.4) rotate(45)" class="gh"/><ellipse rx="4.6" ry="4.4" transform="translate(343.6 111.7) rotate(74)" fill="#686868"/><ellipse rx="4.6" ry="4.4" transform="translate(343.6 111.7) rotate(74)" class="gh"/><ellipse rx="5.3" ry="4.6" transform="translate(309.2 106.3) rotate(18)" fill="#9c9c9c"/><ellipse rx="5.3" ry="4.6" transform="translate(309.2 106.3) rotate(18)" class="gh"/><ellipse rx="5.2" ry="4.9" transform="translate(341.4 95.4) rotate(81)" fill="#737373"/><ellipse rx="5.2" ry="4.9" transform="translate(341.4 95.4) rotate(81)" class="gh"/><ellipse rx="6.2" ry="5.6" transform="translate(353.3 84.2) rotate(86)" fill="#848484"/><ellipse rx="6.2" ry="5.6" transform="translate(353.3 84.2) rotate(86)" class="gh"/><ellipse rx="6.0" ry="6.2" transform="translate(314.5 131.5) rotate(65)" fill="#727272"/><ellipse rx="6.0" ry="6.2" transform="translate(314.5 131.5) rotate(65)" class="gh"/><ellipse rx="3.7" ry="3.4" transform="translate(343.7 119.5) rotate(20)" fill="#808080"/><ellipse rx="3.7" ry="3.4" transform="translate(343.7 119.5) rotate(20)" class="gh"/><ellipse rx="5.3" ry="4.7" transform="translate(283.3 132.4) rotate(174)" fill="#8d8d8d"/><ellipse rx="5.3" ry="4.7" transform="translate(283.3 132.4) rotate(174)" class="gh"/><ellipse rx="5.8" ry="4.8" transform="translate(333.1 103.2) rotate(170)" fill="#6d6d6d"/><ellipse rx="5.8" ry="4.8" transform="translate(333.1 103.2) rotate(170)" class="gh"/><ellipse rx="4.0" ry="4.0" transform="translate(312.5 114.8) rotate(144)" fill="#808080"/><ellipse rx="4.0" ry="4.0" transform="translate(312.5 114.8) rotate(144)" class="gh"/><ellipse rx="3.6" ry="3.3" transform="translate(246.8 86.7) rotate(101)" fill="#848484"/><ellipse rx="3.6" ry="3.3" transform="translate(246.8 86.7) rotate(101)" class="gh"/><ellipse rx="4.9" ry="3.8" transform="translate(297.9 153.8) rotate(8)" fill="#8a8a8a"/><ellipse rx="4.9" ry="3.8" transform="translate(297.9 153.8) rotate(8)" class="gh"/><ellipse rx="4.8" ry="3.9" transform="translate(270.0 156.9) rotate(66)" fill="#818181"/><ellipse rx="4.8" ry="3.9" transform="translate(270.0 156.9) rotate(66)" class="gh"/><ellipse rx="5.4" ry="4.3" transform="translate(285.8 140.3) rotate(101)" fill="#8d8d8d"/><ellipse rx="5.4" ry="4.3" transform="translate(285.8 140.3) rotate(101)" class="gh"/><ellipse rx="6.4" ry="5.7" transform="translate(299.9 98.4) rotate(165)" fill="#9f9f9f"/><ellipse rx="6.4" ry="5.7" transform="translate(299.9 98.4) rotate(165)" class="gh"/><ellipse rx="3.6" ry="3.6" transform="translate(318.3 131.5) rotate(14)" fill="#868686"/><ellipse rx="3.6" ry="3.6" transform="translate(318.3 131.5) rotate(14)" class="gh"/><ellipse rx="4.1" ry="4.3" transform="translate(318.5 133.6) rotate(17)" fill="#7c7c7c"/><ellipse rx="4.1" ry="4.3" transform="translate(318.5 133.6) rotate(17)" class="gh"/><ellipse rx="4.5" ry="4.2" transform="translate(307.1 119.6) rotate(138)" fill="#666666"/><ellipse rx="4.5" ry="4.2" transform="translate(307.1 119.6) rotate(138)" class="gh"/><ellipse rx="5.1" ry="4.1" transform="translate(247.1 107.9) rotate(108)" fill="#8c8c8c"/><ellipse rx="5.1" ry="4.1" transform="translate(247.1 107.9) rotate(108)" class="gh"/><ellipse rx="5.0" ry="3.9" transform="translate(249.2 91.2) rotate(106)" fill="#868686"/><ellipse rx="5.0" ry="3.9" transform="translate(249.2 91.2) rotate(106)" class="gh"/><ellipse rx="5.0" ry="4.3" transform="translate(316.2 128.4) rotate(156)" fill="#929292"/><ellipse rx="5.0" ry="4.3" transform="translate(316.2 128.4) rotate(156)" class="gh"/><ellipse rx="6.3" ry="5.9" transform="translate(338.7 151.0) rotate(50)" fill="#8a8a8a"/><ellipse rx="6.3" ry="5.9" transform="translate(338.7 151.0) rotate(50)" class="gh"/><ellipse rx="3.6" ry="3.1" transform="translate(278.3 113.5) rotate(35)" fill="#9b9b9b"/><ellipse rx="3.6" ry="3.1" transform="translate(278.3 113.5) rotate(35)" class="gh"/><ellipse rx="5.8" ry="5.4" transform="translate(271.1 115.8) rotate(73)" fill="#777777"/><ellipse rx="5.8" ry="5.4" transform="translate(271.1 115.8) rotate(73)" class="gh"/><ellipse rx="4.4" ry="3.3" transform="translate(284.5 114.1) rotate(174)" fill="#9b9b9b"/><ellipse rx="4.4" ry="3.3" transform="translate(284.5 114.1) rotate(174)" class="gh"/><ellipse rx="5.3" ry="4.7" transform="translate(310.0 132.8) rotate(11)" fill="#808080"/><ellipse rx="5.3" ry="4.7" transform="translate(310.0 132.8) rotate(11)" class="gh"/><ellipse rx="3.5" ry="2.7" transform="translate(303.4 118.3) rotate(54)" fill="#808080"/><ellipse rx="3.5" ry="2.7" transform="translate(303.4 118.3) rotate(54)" class="gh"/><ellipse rx="3.6" ry="3.0" transform="translate(349.8 146.4) rotate(52)" fill="#7c7c7c"/><ellipse rx="3.6" ry="3.0" transform="translate(349.8 146.4) rotate(52)" class="gh"/><ellipse rx="4.3" ry="4.2" transform="translate(352.2 152.5) rotate(23)" fill="#898989"/><ellipse rx="4.3" ry="4.2" transform="translate(352.2 152.5) rotate(23)" class="gh"/><ellipse rx="5.4" ry="4.9" transform="translate(313.9 89.8) rotate(164)" fill="#989898"/><ellipse rx="5.4" ry="4.9" transform="translate(313.9 89.8) rotate(164)" class="gh"/><ellipse rx="4.1" ry="3.0" transform="translate(272.1 130.4) rotate(176)" fill="#818181"/><ellipse rx="4.1" ry="3.0" transform="translate(272.1 130.4) rotate(176)" class="gh"/><ellipse rx="4.4" ry="3.4" transform="translate(249.0 109.9) rotate(68)" fill="#939393"/><ellipse rx="4.4" ry="3.4" transform="translate(249.0 109.9) rotate(68)" class="gh"/><ellipse rx="3.7" ry="3.4" transform="translate(306.5 145.9) rotate(153)" fill="#6b6b6b"/><ellipse rx="3.7" ry="3.4" transform="translate(306.5 145.9) rotate(153)" class="gh"/><ellipse rx="4.2" ry="3.2" transform="translate(311.0 122.8) rotate(51)" fill="#898989"/><ellipse rx="4.2" ry="3.2" transform="translate(311.0 122.8) rotate(51)" class="gh"/><ellipse rx="3.9" ry="3.8" transform="translate(329.7 95.4) rotate(81)" fill="#909090"/><ellipse rx="3.9" ry="3.8" transform="translate(329.7 95.4) rotate(81)" class="gh"/><ellipse rx="3.6" ry="3.0" transform="translate(258.4 144.8) rotate(42)" fill="#707070"/><ellipse rx="3.6" ry="3.0" transform="translate(258.4 144.8) rotate(42)" class="gh"/><ellipse rx="4.5" ry="4.1" transform="translate(345.5 127.1) rotate(68)" fill="#8d8d8d"/><ellipse rx="4.5" ry="4.1" transform="translate(345.5 127.1) rotate(68)" class="gh"/><ellipse rx="4.2" ry="4.3" transform="translate(306.2 128.3) rotate(76)" fill="#a2a2a2"/><ellipse rx="4.2" ry="4.3" transform="translate(306.2 128.3) rotate(76)" class="gh"/><ellipse rx="5.0" ry="4.1" transform="translate(300.6 91.4) rotate(110)" fill="#979797"/><ellipse rx="5.0" ry="4.1" transform="translate(300.6 91.4) rotate(110)" class="gh"/><ellipse rx="3.7" ry="3.8" transform="translate(319.7 90.9) rotate(131)" fill="#898989"/><ellipse rx="3.7" ry="3.8" transform="translate(319.7 90.9) rotate(131)" class="gh"/><ellipse rx="5.4" ry="5.4" transform="translate(329.9 83.7) rotate(6)" fill="#9a9a9a"/><ellipse rx="5.4" ry="5.4" transform="translate(329.9 83.7) rotate(6)" class="gh"/><ellipse rx="5.6" ry="5.3" transform="translate(246.9 150.0) rotate(36)" fill="#848484"/><ellipse rx="5.6" ry="5.3" transform="translate(246.9 150.0) rotate(36)" class="gh"/><ellipse rx="5.5" ry="5.1" transform="translate(263.2 84.4) rotate(178)" fill="#6a6a6a"/><ellipse rx="5.5" ry="5.1" transform="translate(263.2 84.4) rotate(178)" class="gh"/><ellipse rx="4.6" ry="4.8" transform="translate(272.4 94.3) rotate(114)" fill="#848484"/><ellipse rx="4.6" ry="4.8" transform="translate(272.4 94.3) rotate(114)" class="gh"/><ellipse rx="5.9" ry="5.0" transform="translate(328.4 92.0) rotate(133)" fill="#a4a4a4"/><ellipse rx="5.9" ry="5.0" transform="translate(328.4 92.0) rotate(133)" class="gh"/><ellipse rx="5.2" ry="4.1" transform="translate(251.3 105.6) rotate(46)" fill="#7a7a7a"/><ellipse rx="5.2" ry="4.1" transform="translate(251.3 105.6) rotate(46)" class="gh"/><ellipse rx="6.4" ry="5.3" transform="translate(314.1 108.1) rotate(54)" fill="#808080"/><ellipse rx="6.4" ry="5.3" transform="translate(314.1 108.1) rotate(54)" class="gh"/><ellipse rx="4.4" ry="4.6" transform="translate(289.1 131.4) rotate(156)" fill="#888888"/><ellipse rx="4.4" ry="4.6" transform="translate(289.1 131.4) rotate(156)" class="gh"/><ellipse rx="5.0" ry="5.0" transform="translate(275.0 100.9) rotate(152)" fill="#979797"/><ellipse rx="5.0" ry="5.0" transform="translate(275.0 100.9) rotate(152)" class="gh"/><ellipse rx="3.7" ry="3.8" transform="translate(337.9 137.0) rotate(91)" fill="#838383"/><ellipse rx="3.7" ry="3.8" transform="translate(337.9 137.0) rotate(91)" class="gh"/><ellipse rx="4.1" ry="4.3" transform="translate(248.0 86.6) rotate(49)" fill="#848484"/><ellipse rx="4.1" ry="4.3" transform="translate(248.0 86.6) rotate(49)" class="gh"/><ellipse rx="4.2" ry="3.1" transform="translate(337.4 154.3) rotate(124)" fill="#878787"/><ellipse rx="4.2" ry="3.1" transform="translate(337.4 154.3) rotate(124)" class="gh"/><ellipse rx="3.7" ry="2.6" transform="translate(280.8 142.1) rotate(65)" fill="#999999"/><ellipse rx="3.7" ry="2.6" transform="translate(280.8 142.1) rotate(65)" class="gh"/><ellipse rx="6.3" ry="6.5" transform="translate(316.8 147.1) rotate(78)" fill="#989898"/><ellipse rx="6.3" ry="6.5" transform="translate(316.8 147.1) rotate(78)" class="gh"/><ellipse rx="6.2" ry="6.1" transform="translate(251.7 126.2) rotate(84)" fill="#7d7d7d"/><ellipse rx="6.2" ry="6.1" transform="translate(251.7 126.2) rotate(84)" class="gh"/><ellipse rx="6.5" ry="6.2" transform="translate(314.9 141.4) rotate(174)" fill="#5d5d5d"/><ellipse rx="6.5" ry="6.2" transform="translate(314.9 141.4) rotate(174)" class="gh"/><ellipse rx="4.4" ry="3.1" transform="translate(246.1 156.0) rotate(53)" fill="#6a6a6a"/><ellipse rx="4.4" ry="3.1" transform="translate(246.1 156.0) rotate(53)" class="gh"/><ellipse rx="5.9" ry="4.9" transform="translate(259.9 83.5) rotate(36)" fill="#969696"/><ellipse rx="5.9" ry="4.9" transform="translate(259.9 83.5) rotate(36)" class="gh"/><ellipse rx="4.5" ry="4.3" transform="translate(283.2 114.0) rotate(34)" fill="#939393"/><ellipse rx="4.5" ry="4.3" transform="translate(283.2 114.0) rotate(34)" class="gh"/><ellipse rx="4.8" ry="3.9" transform="translate(333.2 117.9) rotate(74)" fill="#8d8d8d"/><ellipse rx="4.8" ry="3.9" transform="translate(333.2 117.9) rotate(74)" class="gh"/><ellipse rx="3.6" ry="3.3" transform="translate(274.1 92.5) rotate(146)" fill="#7b7b7b"/><ellipse rx="3.6" ry="3.3" transform="translate(274.1 92.5) rotate(146)" class="gh"/><ellipse rx="5.9" ry="4.3" transform="translate(280.1 116.5) rotate(44)" fill="#7d7d7d"/><ellipse rx="5.9" ry="4.3" transform="translate(280.1 116.5) rotate(44)" class="gh"/><ellipse rx="4.3" ry="3.3" transform="translate(272.8 123.2) rotate(9)" fill="#9d9d9d"/><ellipse rx="4.3" ry="3.3" transform="translate(272.8 123.2) rotate(9)" class="gh"/><ellipse rx="4.2" ry="3.1" transform="translate(351.6 144.4) rotate(168)" fill="#6d6d6d"/><ellipse rx="4.2" ry="3.1" transform="translate(351.6 144.4) rotate(168)" class="gh"/><ellipse rx="6.0" ry="4.5" transform="translate(287.3 93.2) rotate(44)" fill="#7f7f7f"/><ellipse rx="6.0" ry="4.5" transform="translate(287.3 93.2) rotate(44)" class="gh"/><ellipse rx="6.4" ry="5.3" transform="translate(269.6 148.9) rotate(81)" fill="#6f6f6f"/><ellipse rx="6.4" ry="5.3" transform="translate(269.6 148.9) rotate(81)" class="gh"/><ellipse rx="5.7" ry="4.3" transform="translate(332.8 107.1) rotate(25)" fill="#6e6e6e"/><ellipse rx="5.7" ry="4.3" transform="translate(332.8 107.1) rotate(25)" class="gh"/><ellipse rx="6.4" ry="5.0" transform="translate(262.8 96.7) rotate(156)" fill="#808080"/><ellipse rx="6.4" ry="5.0" transform="translate(262.8 96.7) rotate(156)" class="gh"/><ellipse rx="6.5" ry="4.6" transform="translate(326.0 133.6) rotate(137)" fill="#7f7f7f"/><ellipse rx="6.5" ry="4.6" transform="translate(326.0 133.6) rotate(137)" class="gh"/><ellipse rx="3.5" ry="2.9" transform="translate(259.0 154.4) rotate(143)" fill="#6f6f6f"/><ellipse rx="3.5" ry="2.9" transform="translate(259.0 154.4) rotate(143)" class="gh"/><ellipse rx="3.6" ry="3.7" transform="translate(253.4 150.3) rotate(141)" fill="#7b7b7b"/><ellipse rx="3.6" ry="3.7" transform="translate(253.4 150.3) rotate(141)" class="gh"/><ellipse rx="3.9" ry="2.8" transform="translate(247.9 87.5) rotate(94)" fill="#878787"/><ellipse rx="3.9" ry="2.8" transform="translate(247.9 87.5) rotate(94)" class="gh"/><ellipse rx="6.5" ry="5.9" transform="translate(299.0 102.1) rotate(92)" fill="#8c8c8c"/><ellipse rx="6.5" ry="5.9" transform="translate(299.0 102.1) rotate(92)" class="gh"/><ellipse rx="6.1" ry="6.1" transform="translate(335.1 129.8) rotate(111)" fill="#6c6c6c"/><ellipse rx="6.1" ry="6.1" transform="translate(335.1 129.8) rotate(111)" class="gh"/><ellipse rx="5.6" ry="5.2" transform="translate(248.4 108.4) rotate(126)" fill="#9c9c9c"/><ellipse rx="5.6" ry="5.2" transform="translate(248.4 108.4) rotate(126)" class="gh"/><ellipse rx="6.2" ry="4.9" transform="translate(328.9 138.1) rotate(145)" fill="#9f9f9f"/><ellipse rx="6.2" ry="4.9" transform="translate(328.9 138.1) rotate(145)" class="gh"/><ellipse rx="6.1" ry="6.1" transform="translate(270.7 128.7) rotate(38)" fill="#6e6e6e"/><ellipse rx="6.1" ry="6.1" transform="translate(270.7 128.7) rotate(38)" class="gh"/><ellipse rx="3.7" ry="3.3" transform="translate(250.5 124.7) rotate(157)" fill="#888888"/><ellipse rx="3.7" ry="3.3" transform="translate(250.5 124.7) rotate(157)" class="gh"/><ellipse rx="5.1" ry="4.1" transform="translate(312.7 88.0) rotate(81)" fill="#878787"/><ellipse rx="5.1" ry="4.1" transform="translate(312.7 88.0) rotate(81)" class="gh"/><ellipse rx="3.6" ry="2.5" transform="translate(327.0 150.8) rotate(149)" fill="#8a8a8a"/><ellipse rx="3.6" ry="2.5" transform="translate(327.0 150.8) rotate(149)" class="gh"/><ellipse rx="5.4" ry="4.5" transform="translate(314.1 127.2) rotate(151)" fill="#7d7d7d"/><ellipse rx="5.4" ry="4.5" transform="translate(314.1 127.2) rotate(151)" class="gh"/><ellipse rx="4.2" ry="3.6" transform="translate(348.9 104.4) rotate(169)" fill="#737373"/><ellipse rx="4.2" ry="3.6" transform="translate(348.9 104.4) rotate(169)" class="gh"/><ellipse rx="4.3" ry="3.6" transform="translate(280.8 153.6) rotate(134)" fill="#919191"/><ellipse rx="4.3" ry="3.6" transform="translate(280.8 153.6) rotate(134)" class="gh"/><ellipse rx="5.3" ry="4.3" transform="translate(318.8 151.5) rotate(3)" fill="#868686"/><ellipse rx="5.3" ry="4.3" transform="translate(318.8 151.5) rotate(3)" class="gh"/><ellipse rx="3.5" ry="3.5" transform="translate(281.5 156.3) rotate(125)" fill="#757575"/><ellipse rx="3.5" ry="3.5" transform="translate(281.5 156.3) rotate(125)" class="gh"/><ellipse rx="4.1" ry="3.6" transform="translate(317.2 129.5) rotate(76)" fill="#a2a2a2"/><ellipse rx="4.1" ry="3.6" transform="translate(317.2 129.5) rotate(76)" class="gh"/><ellipse rx="4.6" ry="3.8" transform="translate(293.9 115.3) rotate(37)" fill="#818181"/><ellipse rx="4.6" ry="3.8" transform="translate(293.9 115.3) rotate(37)" class="gh"/><ellipse rx="3.9" ry="3.6" transform="translate(344.8 85.3) rotate(25)" fill="#909090"/><ellipse rx="3.9" ry="3.6" transform="translate(344.8 85.3) rotate(25)" class="gh"/><ellipse rx="6.1" ry="4.8" transform="translate(299.0 157.5) rotate(176)" fill="#6c6c6c"/><ellipse rx="6.1" ry="4.8" transform="translate(299.0 157.5) rotate(176)" class="gh"/><ellipse rx="6.1" ry="4.7" transform="translate(352.9 94.8) rotate(176)" fill="#929292"/><ellipse rx="6.1" ry="4.7" transform="translate(352.9 94.8) rotate(176)" class="gh"/><ellipse rx="6.0" ry="4.9" transform="translate(323.5 97.0) rotate(141)" fill="#868686"/><ellipse rx="6.0" ry="4.9" transform="translate(323.5 97.0) rotate(141)" class="gh"/><ellipse rx="5.0" ry="4.6" transform="translate(304.3 132.8) rotate(89)" fill="#626262"/><ellipse rx="5.0" ry="4.6" transform="translate(304.3 132.8) rotate(89)" class="gh"/><ellipse rx="3.8" ry="3.4" transform="translate(336.9 122.0) rotate(157)" fill="#6b6b6b"/><ellipse rx="3.8" ry="3.4" transform="translate(336.9 122.0) rotate(157)" class="gh"/><ellipse rx="5.4" ry="4.2" transform="translate(291.8 115.3) rotate(19)" fill="#858585"/><ellipse rx="5.4" ry="4.2" transform="translate(291.8 115.3) rotate(19)" class="gh"/><ellipse rx="4.9" ry="4.2" transform="translate(295.8 116.8) rotate(100)" fill="#959595"/><ellipse rx="4.9" ry="4.2" transform="translate(295.8 116.8) rotate(100)" class="gh"/><ellipse rx="4.8" ry="4.5" transform="translate(329.5 149.6) rotate(86)" fill="#7f7f7f"/><ellipse rx="4.8" ry="4.5" transform="translate(329.5 149.6) rotate(86)" class="gh"/><ellipse rx="5.5" ry="4.9" transform="translate(276.6 106.6) rotate(30)" fill="#8d8d8d"/><ellipse rx="5.5" ry="4.9" transform="translate(276.6 106.6) rotate(30)" class="gh"/><ellipse rx="4.2" ry="4.0" transform="translate(309.1 158.2) rotate(166)" fill="#747474"/><ellipse rx="4.2" ry="4.0" transform="translate(309.1 158.2) rotate(166)" class="gh"/><ellipse rx="4.3" ry="4.3" transform="translate(351.2 147.3) rotate(21)" fill="#999999"/><ellipse rx="4.3" ry="4.3" transform="translate(351.2 147.3) rotate(21)" class="gh"/><ellipse rx="6.4" ry="5.4" transform="translate(333.4 133.7) rotate(15)" fill="#919191"/><ellipse rx="6.4" ry="5.4" transform="translate(333.4 133.7) rotate(15)" class="gh"/><ellipse rx="5.4" ry="5.1" transform="translate(345.6 95.3) rotate(120)" fill="#757575"/><ellipse rx="5.4" ry="5.1" transform="translate(345.6 95.3) rotate(120)" class="gh"/><ellipse rx="5.5" ry="4.0" transform="translate(316.1 154.7) rotate(144)" fill="#5c5c5c"/><ellipse rx="5.5" ry="4.0" transform="translate(316.1 154.7) rotate(144)" class="gh"/><ellipse rx="5.8" ry="5.6" transform="translate(293.5 123.8) rotate(8)" fill="#717171"/><ellipse rx="5.8" ry="5.6" transform="translate(293.5 123.8) rotate(8)" class="gh"/><ellipse rx="3.5" ry="3.3" transform="translate(276.2 112.9) rotate(106)" fill="#777777"/><ellipse rx="3.5" ry="3.3" transform="translate(276.2 112.9) rotate(106)" class="gh"/><ellipse rx="4.1" ry="3.5" transform="translate(350.5 118.2) rotate(121)" fill="#797979"/><ellipse rx="4.1" ry="3.5" transform="translate(350.5 118.2) rotate(121)" class="gh"/><ellipse rx="5.4" ry="3.8" transform="translate(264.4 132.5) rotate(101)" fill="#7e7e7e"/><ellipse rx="5.4" ry="3.8" transform="translate(264.4 132.5) rotate(101)" class="gh"/><ellipse rx="4.8" ry="4.4" transform="translate(271.0 92.2) rotate(7)" fill="#828282"/><ellipse rx="4.8" ry="4.4" transform="translate(271.0 92.2) rotate(7)" class="gh"/><ellipse rx="5.2" ry="4.6" transform="translate(330.0 112.9) rotate(10)" fill="#7a7a7a"/><ellipse rx="5.2" ry="4.6" transform="translate(330.0 112.9) rotate(10)" class="gh"/><ellipse rx="5.4" ry="3.9" transform="translate(276.2 158.4) rotate(107)" fill="#828282"/><ellipse rx="5.4" ry="3.9" transform="translate(276.2 158.4) rotate(107)" class="gh"/><ellipse rx="5.6" ry="5.7" transform="translate(301.4 100.8) rotate(158)" fill="#969696"/><ellipse rx="5.6" ry="5.7" transform="translate(301.4 100.8) rotate(158)" class="gh"/><ellipse rx="5.0" ry="3.8" transform="translate(343.2 105.9) rotate(139)" fill="#7e7e7e"/><ellipse rx="5.0" ry="3.8" transform="translate(343.2 105.9) rotate(139)" class="gh"/><ellipse rx="4.5" ry="4.4" transform="translate(343.6 137.0) rotate(77)" fill="#797979"/><ellipse rx="4.5" ry="4.4" transform="translate(343.6 137.0) rotate(77)" class="gh"/><ellipse rx="3.6" ry="3.5" transform="translate(272.8 155.0) rotate(76)" fill="#888888"/><ellipse rx="3.6" ry="3.5" transform="translate(272.8 155.0) rotate(76)" class="gh"/><ellipse rx="4.6" ry="3.4" transform="translate(248.3 146.6) rotate(80)" fill="#777777"/><ellipse rx="4.6" ry="3.4" transform="translate(248.3 146.6) rotate(80)" class="gh"/><ellipse rx="6.2" ry="4.5" transform="translate(282.2 96.1) rotate(13)" fill="#717171"/><ellipse rx="6.2" ry="4.5" transform="translate(282.2 96.1) rotate(13)" class="gh"/><ellipse rx="4.6" ry="4.7" transform="translate(296.3 135.5) rotate(158)" fill="#909090"/><ellipse rx="4.6" ry="4.7" transform="translate(296.3 135.5) rotate(158)" class="gh"/><ellipse rx="4.3" ry="4.4" transform="translate(347.3 97.6) rotate(60)" fill="#717171"/><ellipse rx="4.3" ry="4.4" transform="translate(347.3 97.6) rotate(60)" class="gh"/><ellipse rx="5.5" ry="5.1" transform="translate(347.5 140.6) rotate(112)" fill="#787878"/><ellipse rx="5.5" ry="5.1" transform="translate(347.5 140.6) rotate(112)" class="gh"/><ellipse rx="3.9" ry="3.8" transform="translate(258.5 87.9) rotate(27)" fill="#626262"/><ellipse rx="3.9" ry="3.8" transform="translate(258.5 87.9) rotate(27)" class="gh"/><ellipse rx="4.3" ry="4.2" transform="translate(247.3 106.1) rotate(68)" fill="#828282"/><ellipse rx="4.3" ry="4.2" transform="translate(247.3 106.1) rotate(68)" class="gh"/><ellipse rx="6.4" ry="6.3" transform="translate(311.8 106.2) rotate(12)" fill="#818181"/><ellipse rx="6.4" ry="6.3" transform="translate(311.8 106.2) rotate(12)" class="gh"/><ellipse rx="6.4" ry="4.8" transform="translate(278.4 153.6) rotate(74)" fill="#878787"/><ellipse rx="6.4" ry="4.8" transform="translate(278.4 153.6) rotate(74)" class="gh"/><ellipse rx="5.5" ry="3.9" transform="translate(268.4 134.4) rotate(81)" fill="#9c9c9c"/><ellipse rx="5.5" ry="3.9" transform="translate(268.4 134.4) rotate(81)" class="gh"/><ellipse rx="4.3" ry="4.3" transform="translate(304.7 106.3) rotate(80)" fill="#878787"/><ellipse rx="4.3" ry="4.3" transform="translate(304.7 106.3) rotate(80)" class="gh"/><ellipse rx="4.7" ry="4.1" transform="translate(252.4 95.2) rotate(160)" fill="#848484"/><ellipse rx="4.7" ry="4.1" transform="translate(252.4 95.2) rotate(160)" class="gh"/><ellipse rx="5.2" ry="4.4" transform="translate(270.4 99.0) rotate(121)" fill="#878787"/><ellipse rx="5.2" ry="4.4" transform="translate(270.4 99.0) rotate(121)" class="gh"/><ellipse rx="4.0" ry="3.0" transform="translate(319.0 99.2) rotate(68)" fill="#868686"/><ellipse rx="4.0" ry="3.0" transform="translate(319.0 99.2) rotate(68)" class="gh"/><ellipse rx="6.0" ry="5.8" transform="translate(341.0 138.0) rotate(20)" fill="#7f7f7f"/><ellipse rx="6.0" ry="5.8" transform="translate(341.0 138.0) rotate(20)" class="gh"/><ellipse rx="4.7" ry="4.7" transform="translate(251.4 153.8) rotate(56)" fill="#828282"/><ellipse rx="4.7" ry="4.7" transform="translate(251.4 153.8) rotate(56)" class="gh"/><ellipse rx="4.0" ry="4.0" transform="translate(261.6 130.0) rotate(61)" fill="#717171"/><ellipse rx="4.0" ry="4.0" transform="translate(261.6 130.0) rotate(61)" class="gh"/><ellipse rx="4.4" ry="4.4" transform="translate(318.9 107.5) rotate(108)" fill="#818181"/><ellipse rx="4.4" ry="4.4" transform="translate(318.9 107.5) rotate(108)" class="gh"/><ellipse rx="4.8" ry="3.8" transform="translate(256.4 142.5) rotate(36)" fill="#838383"/><ellipse rx="4.8" ry="3.8" transform="translate(256.4 142.5) rotate(36)" class="gh"/><ellipse rx="4.7" ry="4.2" transform="translate(315.0 96.3) rotate(38)" fill="#9f9f9f"/><ellipse rx="4.7" ry="4.2" transform="translate(315.0 96.3) rotate(38)" class="gh"/><ellipse rx="5.4" ry="3.9" transform="translate(249.2 115.3) rotate(126)" fill="#737373"/><ellipse rx="5.4" ry="3.9" transform="translate(249.2 115.3) rotate(126)" class="gh"/><ellipse rx="3.6" ry="3.5" transform="translate(253.6 91.6) rotate(116)" fill="#868686"/><ellipse rx="3.6" ry="3.5" transform="translate(253.6 91.6) rotate(116)" class="gh"/><ellipse rx="6.4" ry="5.1" transform="translate(328.4 132.1) rotate(34)" fill="#9a9a9a"/><ellipse rx="6.4" ry="5.1" transform="translate(328.4 132.1) rotate(34)" class="gh"/><ellipse rx="5.5" ry="5.5" transform="translate(264.4 90.2) rotate(29)" fill="#828282"/><ellipse rx="5.5" ry="5.5" transform="translate(264.4 90.2) rotate(29)" class="gh"/><ellipse rx="5.7" ry="6.0" transform="translate(282.1 153.1) rotate(0)" fill="#828282"/><ellipse rx="5.7" ry="6.0" transform="translate(282.1 153.1) rotate(0)" class="gh"/><ellipse rx="4.2" ry="3.5" transform="translate(289.5 117.7) rotate(5)" fill="#9a9a9a"/><ellipse rx="4.2" ry="3.5" transform="translate(289.5 117.7) rotate(5)" class="gh"/><ellipse rx="4.8" ry="3.7" transform="translate(338.6 92.5) rotate(150)" fill="#717171"/><ellipse rx="4.8" ry="3.7" transform="translate(338.6 92.5) rotate(150)" class="gh"/><ellipse rx="5.2" ry="3.7" transform="translate(319.8 150.7) rotate(145)" fill="#818181"/><ellipse rx="5.2" ry="3.7" transform="translate(319.8 150.7) rotate(145)" class="gh"/><ellipse rx="5.5" ry="4.3" transform="translate(272.1 144.3) rotate(88)" fill="#9b9b9b"/><ellipse rx="5.5" ry="4.3" transform="translate(272.1 144.3) rotate(88)" class="gh"/><ellipse rx="3.7" ry="2.6" transform="translate(274.6 98.1) rotate(46)" fill="#7b7b7b"/><ellipse rx="3.7" ry="2.6" transform="translate(274.6 98.1) rotate(46)" class="gh"/><ellipse rx="4.4" ry="4.6" transform="translate(270.2 151.0) rotate(11)" fill="#787878"/><ellipse rx="4.4" ry="4.6" transform="translate(270.2 151.0) rotate(11)" class="gh"/><ellipse rx="5.2" ry="4.8" transform="translate(352.9 93.7) rotate(60)" fill="#828282"/><ellipse rx="5.2" ry="4.8" transform="translate(352.9 93.7) rotate(60)" class="gh"/><ellipse rx="4.9" ry="4.2" transform="translate(263.1 124.1) rotate(74)" fill="#868686"/><ellipse rx="4.9" ry="4.2" transform="translate(263.1 124.1) rotate(74)" class="gh"/><ellipse rx="5.2" ry="4.3" transform="translate(272.1 136.9) rotate(91)" fill="#8a8a8a"/><ellipse rx="5.2" ry="4.3" transform="translate(272.1 136.9) rotate(91)" class="gh"/><ellipse rx="6.3" ry="5.6" transform="translate(321.7 145.9) rotate(92)" fill="#737373"/><ellipse rx="6.3" ry="5.6" transform="translate(321.7 145.9) rotate(92)" class="gh"/><ellipse rx="5.4" ry="4.7" transform="translate(278.1 157.9) rotate(129)" fill="#878787"/><ellipse rx="5.4" ry="4.7" transform="translate(278.1 157.9) rotate(129)" class="gh"/><ellipse rx="5.6" ry="5.4" transform="translate(327.6 105.2) rotate(122)" fill="#767676"/><ellipse rx="5.6" ry="5.4" transform="translate(327.6 105.2) rotate(122)" class="gh"/><ellipse rx="4.6" ry="3.8" transform="translate(251.2 138.3) rotate(140)" fill="#949494"/><ellipse rx="4.6" ry="3.8" transform="translate(251.2 138.3) rotate(140)" class="gh"/><ellipse rx="5.1" ry="4.0" transform="translate(268.2 83.6) rotate(148)" fill="#8e8e8e"/><ellipse rx="5.1" ry="4.0" transform="translate(268.2 83.6) rotate(148)" class="gh"/><ellipse rx="5.9" ry="5.7" transform="translate(287.6 145.4) rotate(131)" fill="#7b7b7b"/><ellipse rx="5.9" ry="5.7" transform="translate(287.6 145.4) rotate(131)" class="gh"/><ellipse rx="5.4" ry="5.5" transform="translate(344.5 152.1) rotate(147)" fill="#838383"/><ellipse rx="5.4" ry="5.5" transform="translate(344.5 152.1) rotate(147)" class="gh"/><ellipse rx="3.5" ry="2.7" transform="translate(304.0 131.2) rotate(139)" fill="#898989"/><ellipse rx="3.5" ry="2.7" transform="translate(304.0 131.2) rotate(139)" class="gh"/><ellipse rx="6.3" ry="6.1" transform="translate(263.4 147.7) rotate(164)" fill="#949494"/><ellipse rx="6.3" ry="6.1" transform="translate(263.4 147.7) rotate(164)" class="gh"/><ellipse rx="3.7" ry="3.8" transform="translate(250.7 114.1) rotate(28)" fill="#939393"/><ellipse rx="3.7" ry="3.8" transform="translate(250.7 114.1) rotate(28)" class="gh"/><ellipse rx="5.9" ry="6.1" transform="translate(336.7 142.1) rotate(140)" fill="#858585"/><ellipse rx="5.9" ry="6.1" transform="translate(336.7 142.1) rotate(140)" class="gh"/><ellipse rx="4.5" ry="3.6" transform="translate(282.0 156.4) rotate(92)" fill="#7b7b7b"/><ellipse rx="4.5" ry="3.6" transform="translate(282.0 156.4) rotate(92)" class="gh"/><ellipse rx="4.8" ry="4.1" transform="translate(290.1 131.5) rotate(79)" fill="#555555"/><ellipse rx="4.8" ry="4.1" transform="translate(290.1 131.5) rotate(79)" class="gh"/><ellipse rx="4.5" ry="3.4" transform="translate(332.2 136.6) rotate(99)" fill="#6e6e6e"/><ellipse rx="4.5" ry="3.4" transform="translate(332.2 136.6) rotate(99)" class="gh"/><ellipse rx="5.0" ry="4.2" transform="translate(296.6 106.5) rotate(165)" fill="#6f6f6f"/><ellipse rx="5.0" ry="4.2" transform="translate(296.6 106.5) rotate(165)" class="gh"/><ellipse rx="5.7" ry="4.9" transform="translate(318.0 150.9) rotate(45)" fill="#898989"/><ellipse rx="5.7" ry="4.9" transform="translate(318.0 150.9) rotate(45)" class="gh"/><ellipse rx="3.6" ry="2.7" transform="translate(320.3 133.3) rotate(0)" fill="#8f8f8f"/><ellipse rx="3.6" ry="2.7" transform="translate(320.3 133.3) rotate(0)" class="gh"/><ellipse rx="5.5" ry="5.4" transform="translate(339.0 156.3) rotate(55)" fill="#7e7e7e"/><ellipse rx="5.5" ry="5.4" transform="translate(339.0 156.3) rotate(55)" class="gh"/><ellipse rx="3.8" ry="3.1" transform="translate(284.8 125.6) rotate(116)" fill="#767676"/><ellipse rx="3.8" ry="3.1" transform="translate(284.8 125.6) rotate(116)" class="gh"/><ellipse rx="6.4" ry="5.3" transform="translate(349.2 158.3) rotate(100)" fill="#767676"/><ellipse rx="6.4" ry="5.3" transform="translate(349.2 158.3) rotate(100)" class="gh"/><ellipse rx="3.5" ry="2.9" transform="translate(285.6 95.2) rotate(80)" fill="#828282"/><ellipse rx="3.5" ry="2.9" transform="translate(285.6 95.2) rotate(80)" class="gh"/><ellipse rx="6.2" ry="6.1" transform="translate(259.6 102.2) rotate(173)" fill="#727272"/><ellipse rx="6.2" ry="6.1" transform="translate(259.6 102.2) rotate(173)" class="gh"/><ellipse rx="5.2" ry="4.1" transform="translate(302.2 99.0) rotate(128)" fill="#7d7d7d"/><ellipse rx="5.2" ry="4.1" transform="translate(302.2 99.0) rotate(128)" class="gh"/><ellipse rx="6.0" ry="6.0" transform="translate(324.3 103.3) rotate(28)" fill="#909090"/><ellipse rx="6.0" ry="6.0" transform="translate(324.3 103.3) rotate(28)" class="gh"/><ellipse rx="4.1" ry="4.3" transform="translate(253.6 122.8) rotate(15)" fill="#8b8b8b"/><ellipse rx="4.1" ry="4.3" transform="translate(253.6 122.8) rotate(15)" class="gh"/><ellipse rx="4.2" ry="3.7" transform="translate(312.3 106.5) rotate(45)" fill="#999999"/><ellipse rx="4.2" ry="3.7" transform="translate(312.3 106.5) rotate(45)" class="gh"/><ellipse rx="4.3" ry="3.6" transform="translate(319.7 149.1) rotate(17)" fill="#5e5e5e"/><ellipse rx="4.3" ry="3.6" transform="translate(319.7 149.1) rotate(17)" class="gh"/><ellipse rx="6.2" ry="5.0" transform="translate(269.9 96.3) rotate(144)" fill="#838383"/><ellipse rx="6.2" ry="5.0" transform="translate(269.9 96.3) rotate(144)" class="gh"/><ellipse rx="4.8" ry="4.0" transform="translate(338.9 150.3) rotate(154)" fill="#7b7b7b"/><ellipse rx="4.8" ry="4.0" transform="translate(338.9 150.3) rotate(154)" class="gh"/><ellipse rx="6.0" ry="4.6" transform="translate(276.3 154.7) rotate(44)" fill="#949494"/><ellipse rx="6.0" ry="4.6" transform="translate(276.3 154.7) rotate(44)" class="gh"/><ellipse rx="3.6" ry="3.0" transform="translate(317.3 97.1) rotate(107)" fill="#747474"/><ellipse rx="3.6" ry="3.0" transform="translate(317.3 97.1) rotate(107)" class="gh"/><ellipse rx="5.5" ry="5.3" transform="translate(320.0 152.8) rotate(9)" fill="#878787"/><ellipse rx="5.5" ry="5.3" transform="translate(320.0 152.8) rotate(9)" class="gh"/><ellipse rx="4.2" ry="3.0" transform="translate(317.5 119.5) rotate(23)" fill="#8b8b8b"/><ellipse rx="4.2" ry="3.0" transform="translate(317.5 119.5) rotate(23)" class="gh"/><ellipse rx="5.3" ry="4.6" transform="translate(274.3 97.1) rotate(43)" fill="#7f7f7f"/><ellipse rx="5.3" ry="4.6" transform="translate(274.3 97.1) rotate(43)" class="gh"/><ellipse rx="5.0" ry="5.2" transform="translate(298.0 145.0) rotate(93)" fill="#828282"/><ellipse rx="5.0" ry="5.2" transform="translate(298.0 145.0) rotate(93)" class="gh"/><ellipse rx="3.8" ry="3.7" transform="translate(269.7 94.1) rotate(38)" fill="#747474"/><ellipse rx="3.8" ry="3.7" transform="translate(269.7 94.1) rotate(38)" class="gh"/><ellipse rx="5.6" ry="4.5" transform="translate(346.3 89.5) rotate(126)" fill="#909090"/><ellipse rx="5.6" ry="4.5" transform="translate(346.3 89.5) rotate(126)" class="gh"/><ellipse rx="4.0" ry="3.7" transform="translate(281.8 107.7) rotate(75)" fill="#949494"/><ellipse rx="4.0" ry="3.7" transform="translate(281.8 107.7) rotate(75)" class="gh"/><ellipse rx="5.4" ry="5.4" transform="translate(347.5 140.8) rotate(97)" fill="#949494"/><ellipse rx="5.4" ry="5.4" transform="translate(347.5 140.8) rotate(97)" class="gh"/><ellipse rx="4.5" ry="3.2" transform="translate(259.0 120.5) rotate(175)" fill="#7c7c7c"/><ellipse rx="4.5" ry="3.2" transform="translate(259.0 120.5) rotate(175)" class="gh"/><ellipse rx="4.3" ry="4.3" transform="translate(248.7 97.6) rotate(112)" fill="#7e7e7e"/><ellipse rx="4.3" ry="4.3" transform="translate(248.7 97.6) rotate(112)" class="gh"/><ellipse rx="5.0" ry="4.8" transform="translate(289.7 111.3) rotate(128)" fill="#acacac"/><ellipse rx="5.0" ry="4.8" transform="translate(289.7 111.3) rotate(128)" class="gh"/><ellipse rx="3.7" ry="2.7" transform="translate(260.5 118.4) rotate(50)" fill="#7b7b7b"/><ellipse rx="3.7" ry="2.7" transform="translate(260.5 118.4) rotate(50)" class="gh"/><ellipse rx="4.5" ry="3.7" transform="translate(347.6 89.8) rotate(103)" fill="#787878"/><ellipse rx="4.5" ry="3.7" transform="translate(347.6 89.8) rotate(103)" class="gh"/><ellipse rx="4.3" ry="4.3" transform="translate(326.5 107.0) rotate(173)" fill="#6e6e6e"/><ellipse rx="4.3" ry="4.3" transform="translate(326.5 107.0) rotate(173)" class="gh"/><ellipse rx="5.2" ry="4.2" transform="translate(271.5 116.2) rotate(3)" fill="#757575"/><ellipse rx="5.2" ry="4.2" transform="translate(271.5 116.2) rotate(3)" class="gh"/><ellipse rx="5.5" ry="5.7" transform="translate(277.0 109.3) rotate(94)" fill="#757575"/><ellipse rx="5.5" ry="5.7" transform="translate(277.0 109.3) rotate(94)" class="gh"/><ellipse rx="3.8" ry="3.7" transform="translate(340.1 139.3) rotate(87)" fill="#8c8c8c"/><ellipse rx="3.8" ry="3.7" transform="translate(340.1 139.3) rotate(87)" class="gh"/><ellipse rx="3.6" ry="2.9" transform="translate(258.8 100.8) rotate(34)" fill="#777777"/><ellipse rx="3.6" ry="2.9" transform="translate(258.8 100.8) rotate(34)" class="gh"/><ellipse rx="6.3" ry="5.7" transform="translate(311.7 127.6) rotate(61)" fill="#989898"/><ellipse rx="6.3" ry="5.7" transform="translate(311.7 127.6) rotate(61)" class="gh"/><ellipse rx="3.6" ry="3.0" transform="translate(304.2 129.8) rotate(23)" fill="#808080"/><ellipse rx="3.6" ry="3.0" transform="translate(304.2 129.8) rotate(23)" class="gh"/><ellipse rx="3.7" ry="2.9" transform="translate(256.4 144.5) rotate(168)" fill="#7f7f7f"/><ellipse rx="3.7" ry="2.9" transform="translate(256.4 144.5) rotate(168)" class="gh"/><ellipse rx="5.0" ry="3.9" transform="translate(343.0 126.9) rotate(160)" fill="#7d7d7d"/><ellipse rx="5.0" ry="3.9" transform="translate(343.0 126.9) rotate(160)" class="gh"/><ellipse rx="6.4" ry="5.8" transform="translate(316.5 129.4) rotate(133)" fill="#7e7e7e"/><ellipse rx="6.4" ry="5.8" transform="translate(316.5 129.4) rotate(133)" class="gh"/><ellipse rx="5.5" ry="5.4" transform="translate(275.3 129.8) rotate(13)" fill="#8e8e8e"/><ellipse rx="5.5" ry="5.4" transform="translate(275.3 129.8) rotate(13)" class="gh"/><ellipse rx="3.5" ry="2.9" transform="translate(318.9 140.7) rotate(122)" fill="#7f7f7f"/><ellipse rx="3.5" ry="2.9" transform="translate(318.9 140.7) rotate(122)" class="gh"/><ellipse rx="4.3" ry="3.4" transform="translate(347.5 100.5) rotate(150)" fill="#7e7e7e"/><ellipse rx="4.3" ry="3.4" transform="translate(347.5 100.5) rotate(150)" class="gh"/><ellipse rx="4.6" ry="3.9" transform="translate(291.4 108.1) rotate(20)" fill="#989898"/><ellipse rx="4.6" ry="3.9" transform="translate(291.4 108.1) rotate(20)" class="gh"/></g>
<path d="M249.1,86.3 L350.3,86.3 L350.3,155.7 L249.1,155.7 Z" fill="#888" filter="url(#tg3)" opacity="0.25"/>
<path d="M249.1,86.3 L350.3,86.3 L350.3,155.7 L249.1,155.7 Z" fill="#7c7c7c" opacity="0.4"/>
<path d="M250,95 L270,92 L276,120 L268,150 L250,150 Z" fill="#a0a0a0" opacity="0.25" filter="url(#bl2)"/>
<path d="M289,94 L294,92 L296,100 L290,101 Z" fill="#d0d0d0" opacity="0.75" filter="url(#bl2)"/>
<path d="M287,107 L292,105 L293,112 L288,112 Z" fill="#c8c8c8" opacity="0.75" filter="url(#bl2)"/>
<path d="M318,108 L323,106 L325,113 L319,113 Z" fill="#c8c8c8" opacity="0.75" filter="url(#bl2)"/>
<path d="M330,135 L336,133 L337,140 L331,140 Z" fill="#c0c0c0" opacity="0.75" filter="url(#bl2)"/>
<path d="M290,141 L298,139 L300,147 L292,148 Z" fill="#c4c4c4" opacity="0.75" filter="url(#bl2)"/>
<path d="M277,120 L285,118 L287,130 L279,132 Z" fill="#b0b0b0" opacity="0.7" filter="url(#bl2)"/>
</g>
<text x="25.5" y="17.5" font-family='"Liberation Serif", serif' font-size="9.8" font-weight="bold" text-anchor="start" fill="#efba00" >NCA</text>
<text x="25.5" y="28.8" font-family='"Liberation Serif", serif' font-size="9.8" font-weight="bold" text-anchor="start" fill="#efba00" >1:</text>
<text x="40" y="28.8" font-family='"Liberation Serif", serif' font-size="9.8" font-weight="bold" text-anchor="start" fill="#efba00" >7</text>
<text x="25.8" y="69.2" font-family='"Liberation Serif", serif' font-size="8" font-weight="bold" text-anchor="start" fill="#efba00" >1</text>
<text x="31" y="69.2" font-family='"Liberation Serif", serif' font-size="8" font-weight="bold" text-anchor="start" fill="#efba00" >μm</text>
<rect x="27.3" y="72.1" width="6.7" height="1.5" fill="#efba00"/>
<text x="137" y="17.5" font-family='"Liberation Serif", serif' font-size="9.8" font-weight="bold" text-anchor="start" fill="#efba00" >NCA</text>
<text x="137" y="28.8" font-family='"Liberation Serif", serif' font-size="9.8" font-weight="bold" text-anchor="start" fill="#efba00" >1:</text>
<text x="151.5" y="28.8" font-family='"Liberation Serif", serif' font-size="9.8" font-weight="bold" text-anchor="start" fill="#efba00" >13</text>
<text x="140.2" y="69.6" font-family='"Liberation Serif", serif' font-size="8" font-weight="bold" text-anchor="start" fill="#efba00" >1</text>
<text x="145.4" y="69.6" font-family='"Liberation Serif", serif' font-size="8" font-weight="bold" text-anchor="start" fill="#efba00" >μm</text>
<rect x="140.5" y="72.5" width="7.7" height="1.5" fill="#efba00"/>
<text x="250.5" y="17.8" font-family='"Liberation Serif", serif' font-size="9.8" font-weight="bold" text-anchor="start" fill="#efba00" >NCA</text>
<text x="250.5" y="29.1" font-family='"Liberation Serif", serif' font-size="9.8" font-weight="bold" text-anchor="start" fill="#efba00" >1:</text>
<text x="265" y="29.1" font-family='"Liberation Serif", serif' font-size="9.8" font-weight="bold" text-anchor="start" fill="#efba00" >20</text>
<text x="253.2" y="68.6" font-family='"Liberation Serif", serif' font-size="8" font-weight="bold" text-anchor="start" fill="#efba00" >1</text>
<text x="258.4" y="68.6" font-family='"Liberation Serif", serif' font-size="8" font-weight="bold" text-anchor="start" fill="#efba00" >μm</text>
<rect x="254.2" y="71.5" width="6.8" height="1.5" fill="#efba00"/>
<text x="26" y="98.5" font-family='"Liberation Serif", serif' font-size="9.8" font-weight="bold" text-anchor="start" fill="#efba00" >NCA</text>
<text x="26" y="109.8" font-family='"Liberation Serif", serif' font-size="9.8" font-weight="bold" text-anchor="start" fill="#efba00" >1:</text>
<text x="40.5" y="109.8" font-family='"Liberation Serif", serif' font-size="9.8" font-weight="bold" text-anchor="start" fill="#efba00" >7</text>
<text x="27.4" y="150.6" font-family='"Liberation Serif", serif' font-size="8.6" font-weight="bold" text-anchor="start" fill="#efba00" >400</text>
<text x="42" y="150.6" font-family='"Liberation Serif", serif' font-size="8.6" font-weight="bold" text-anchor="start" fill="#efba00" >nm</text>
<rect x="28.2" y="151.9" width="8" height="1.5" fill="#efba00"/>
<text x="137.5" y="98.5" font-family='"Liberation Serif", serif' font-size="9.8" font-weight="bold" text-anchor="start" fill="#efba00" >NCA</text>
<text x="137.5" y="109.8" font-family='"Liberation Serif", serif' font-size="9.8" font-weight="bold" text-anchor="start" fill="#efba00" >1:</text>
<text x="152" y="109.8" font-family='"Liberation Serif", serif' font-size="9.8" font-weight="bold" text-anchor="start" fill="#efba00" >13</text>
<text x="137.8" y="150.4" font-family='"Liberation Serif", serif' font-size="8.6" font-weight="bold" text-anchor="start" fill="#efba00" >400</text>
<text x="152.4" y="150.4" font-family='"Liberation Serif", serif' font-size="8.6" font-weight="bold" text-anchor="start" fill="#efba00" >nm</text>
<rect x="138.9" y="151.7" width="7.7" height="1.5" fill="#efba00"/>
<text x="250.5" y="98.2" font-family='"Liberation Serif", serif' font-size="9.8" font-weight="bold" text-anchor="start" fill="#efba00" >NCA</text>
<text x="250.5" y="109.5" font-family='"Liberation Serif", serif' font-size="9.8" font-weight="bold" text-anchor="start" fill="#efba00" >1:</text>
<text x="265" y="109.5" font-family='"Liberation Serif", serif' font-size="9.8" font-weight="bold" text-anchor="start" fill="#efba00" >20</text>
<text x="251.4" y="150.4" font-family='"Liberation Serif", serif' font-size="8.6" font-weight="bold" text-anchor="start" fill="#efba00" >400</text>
<text x="266" y="150.4" font-family='"Liberation Serif", serif' font-size="8.6" font-weight="bold" text-anchor="start" fill="#efba00" >nm</text>
<rect x="252.4" y="151.7" width="8" height="1.5" fill="#efba00"/>
<text x="9.9" y="11.3" font-family='"Liberation Serif", serif' font-size="10" font-weight="bold" text-anchor="start" fill="#111" >(a)</text>
<text x="123.8" y="11" font-family='"Liberation Serif", serif' font-size="10" font-weight="bold" text-anchor="start" fill="#111" >(b)</text>
<text x="237.6" y="11.6" font-family='"Liberation Serif", serif' font-size="10" font-weight="bold" text-anchor="start" fill="#111" >(c)</text>
<text x="9" y="91.4" font-family='"Liberation Serif", serif' font-size="10" font-weight="bold" text-anchor="start" fill="#111" >(d)</text>
<text x="124" y="91.6" font-family='"Liberation Serif", serif' font-size="10" font-weight="bold" text-anchor="start" fill="#111" >(e)</text>
<text x="238.4" y="91.4" font-family='"Liberation Serif", serif' font-size="10" font-weight="bold" text-anchor="start" fill="#111" >(f)</text>
<rect x="38.75" y="235.06" width="9.35" height="5.24" fill="#f6a623" stroke="#e8901a" stroke-width="0.3"/>
<rect x="48.1" y="215" width="9.35" height="25.3" fill="#f6a623" stroke="#e8901a" stroke-width="0.3"/>
<rect x="57.45" y="174.51" width="9.35" height="65.79" fill="#f6a623" stroke="#e8901a" stroke-width="0.3"/>
<rect x="66.8" y="209.24" width="9.35" height="31.06" fill="#f6a623" stroke="#e8901a" stroke-width="0.3"/>
<rect x="76.15" y="209.24" width="9.35" height="31.06" fill="#f6a623" stroke="#e8901a" stroke-width="0.3"/>
<rect x="85.5" y="235.06" width="9.35" height="5.24" fill="#f6a623" stroke="#e8901a" stroke-width="0.3"/>
<rect x="94.85" y="235.06" width="9.35" height="5.24" fill="#f6a623" stroke="#e8901a" stroke-width="0.3"/>
<rect x="113.55" y="238.21" width="9.35" height="2.09" fill="#f6a623" stroke="#e8901a" stroke-width="0.3"/>
<path d="M29.4,240.3 L29.91,240.28 L30.61,240.26 L31.45,240.23 L32.34,240.18 L33.24,240.09 L34.07,239.95 L34.85,239.8 L35.63,239.65 L36.41,239.47 L37.19,239.2 L37.97,238.8 L38.75,238.21 L39.53,237.49 L40.31,236.69 L41.09,235.76 L41.87,234.64 L42.65,233.26 L43.42,231.58 L44.2,229.47 L44.98,226.98 L45.76,224.24 L46.54,221.38 L47.32,218.54 L48.1,215.87 L48.88,213.35 L49.66,210.86 L50.44,208.4 L51.22,205.95 L52,203.5 L52.77,201.04 L53.54,198.51 L54.3,195.93 L55.05,193.35 L55.82,190.83 L56.61,188.42 L57.45,186.21 L58.36,184.06 L59.35,181.91 L60.37,179.88 L61.37,178.09 L62.31,176.67 L63.15,175.74 L63.88,175.35 L64.52,175.44 L65.1,175.9 L65.65,176.61 L66.21,177.46 L66.8,178.35 L67.42,179.37 L68.05,180.63 L68.68,182.04 L69.3,183.5 L69.93,184.92 L70.54,186.21 L71.14,187.37 L71.72,188.49 L72.3,189.56 L72.89,190.61 L73.48,191.64 L74.09,192.66 L74.72,193.59 L75.35,194.4 L76,195.19 L76.66,196.06 L77.33,197.1 L78.02,198.42 L78.72,200.01 L79.43,201.8 L80.16,203.76 L80.91,205.88 L81.69,208.12 L82.51,210.46 L83.36,213.07 L84.24,216.01 L85.16,219.07 L86.1,222.06 L87.09,224.78 L88.12,227.04 L89.18,228.79 L90.27,230.19 L91.4,231.32 L92.57,232.28 L93.82,233.15 L95.13,234.02 L96.56,234.86 L98.11,235.6 L99.71,236.25 L101.33,236.84 L102.9,237.36 L104.39,237.86 L105.8,238.32 L107.18,238.75 L108.52,239.12 L109.81,239.43 L111.02,239.65 L112.15,239.78 L113.15,239.76 L114.04,239.61 L114.85,239.38 L115.64,239.12 L116.44,238.89 L117.29,238.73 L118.26,238.65 L119.33,238.6 L120.42,238.58 L121.43,238.57 L122.28,238.56 L122.9,238.56" fill="none" stroke="#f0303c" stroke-width="1.05"/>
<rect x="29.4" y="170.5" width="93.5" height="69.8" fill="none" stroke="#333" stroke-width="0.8"/>
<line x1="29.4" y1="240.3" x2="30.9" y2="240.3" stroke="#333" stroke-width="0.5"/>
<g transform="translate(27.8 241.9) scale(0.92 1)"><text x="0" y="0" font-family='"Liberation Sans", sans-serif' font-size="4.5" font-weight="bold" text-anchor="end" fill="#222" stroke="#222" stroke-width="0.12">0.00</text></g>
<line x1="29.4" y1="231.58" x2="30.9" y2="231.58" stroke="#333" stroke-width="0.5"/>
<g transform="translate(27.8 233.18) scale(0.92 1)"><text x="0" y="0" font-family='"Liberation Sans", sans-serif' font-size="4.5" font-weight="bold" text-anchor="end" fill="#222" stroke="#222" stroke-width="0.12">0.05</text></g>
<line x1="29.4" y1="222.85" x2="30.9" y2="222.85" stroke="#333" stroke-width="0.5"/>
<g transform="translate(27.8 224.45) scale(0.92 1)"><text x="0" y="0" font-family='"Liberation Sans", sans-serif' font-size="4.5" font-weight="bold" text-anchor="end" fill="#222" stroke="#222" stroke-width="0.12">0.10</text></g>
<line x1="29.4" y1="214.12" x2="30.9" y2="214.12" stroke="#333" stroke-width="0.5"/>
<g transform="translate(27.8 215.72) scale(0.92 1)"><text x="0" y="0" font-family='"Liberation Sans", sans-serif' font-size="4.5" font-weight="bold" text-anchor="end" fill="#222" stroke="#222" stroke-width="0.12">0.15</text></g>
<line x1="29.4" y1="205.4" x2="30.9" y2="205.4" stroke="#333" stroke-width="0.5"/>
<g transform="translate(27.8 207) scale(0.92 1)"><text x="0" y="0" font-family='"Liberation Sans", sans-serif' font-size="4.5" font-weight="bold" text-anchor="end" fill="#222" stroke="#222" stroke-width="0.12">0.20</text></g>
<line x1="29.4" y1="196.68" x2="30.9" y2="196.68" stroke="#333" stroke-width="0.5"/>
<g transform="translate(27.8 198.28) scale(0.92 1)"><text x="0" y="0" font-family='"Liberation Sans", sans-serif' font-size="4.5" font-weight="bold" text-anchor="end" fill="#222" stroke="#222" stroke-width="0.12">0.25</text></g>
<line x1="29.4" y1="187.95" x2="30.9" y2="187.95" stroke="#333" stroke-width="0.5"/>
<g transform="translate(27.8 189.55) scale(0.92 1)"><text x="0" y="0" font-family='"Liberation Sans", sans-serif' font-size="4.5" font-weight="bold" text-anchor="end" fill="#222" stroke="#222" stroke-width="0.12">0.30</text></g>
<line x1="29.4" y1="179.23" x2="30.9" y2="179.23" stroke="#333" stroke-width="0.5"/>
<g transform="translate(27.8 180.83) scale(0.92 1)"><text x="0" y="0" font-family='"Liberation Sans", sans-serif' font-size="4.5" font-weight="bold" text-anchor="end" fill="#222" stroke="#222" stroke-width="0.12">0.35</text></g>
<line x1="29.4" y1="170.5" x2="30.9" y2="170.5" stroke="#333" stroke-width="0.5"/>
<g transform="translate(27.8 172.1) scale(0.92 1)"><text x="0" y="0" font-family='"Liberation Sans", sans-serif' font-size="4.5" font-weight="bold" text-anchor="end" fill="#222" stroke="#222" stroke-width="0.12">0.40</text></g>
<line x1="29.4" y1="240.3" x2="29.4" y2="238.8" stroke="#333" stroke-width="0.5"/>
<g transform="translate(29.4 245.3) scale(0.92 1)"><text x="0" y="0" font-family='"Liberation Sans", sans-serif' font-size="4.5" font-weight="bold" text-anchor="middle" fill="#222" stroke="#222" stroke-width="0.12">100</text></g>
<line x1="38.75" y1="240.3" x2="38.75" y2="238.8" stroke="#333" stroke-width="0.5"/>
<g transform="translate(38.75 245.3) scale(0.92 1)"><text x="0" y="0" font-family='"Liberation Sans", sans-serif' font-size="4.5" font-weight="bold" text-anchor="middle" fill="#222" stroke="#222" stroke-width="0.12">200</text></g>
<line x1="48.1" y1="240.3" x2="48.1" y2="238.8" stroke="#333" stroke-width="0.5"/>
<g transform="translate(48.1 245.3) scale(0.92 1)"><text x="0" y="0" font-family='"Liberation Sans", sans-serif' font-size="4.5" font-weight="bold" text-anchor="middle" fill="#222" stroke="#222" stroke-width="0.12">300</text></g>
<line x1="57.45" y1="240.3" x2="57.45" y2="238.8" stroke="#333" stroke-width="0.5"/>
<g transform="translate(57.45 245.3) scale(0.92 1)"><text x="0" y="0" font-family='"Liberation Sans", sans-serif' font-size="4.5" font-weight="bold" text-anchor="middle" fill="#222" stroke="#222" stroke-width="0.12">400</text></g>
<line x1="66.8" y1="240.3" x2="66.8" y2="238.8" stroke="#333" stroke-width="0.5"/>
<g transform="translate(66.8 245.3) scale(0.92 1)"><text x="0" y="0" font-family='"Liberation Sans", sans-serif' font-size="4.5" font-weight="bold" text-anchor="middle" fill="#222" stroke="#222" stroke-width="0.12">500</text></g>
<line x1="76.15" y1="240.3" x2="76.15" y2="238.8" stroke="#333" stroke-width="0.5"/>
<g transform="translate(76.15 245.3) scale(0.92 1)"><text x="0" y="0" font-family='"Liberation Sans", sans-serif' font-size="4.5" font-weight="bold" text-anchor="middle" fill="#222" stroke="#222" stroke-width="0.12">600</text></g>
<line x1="85.5" y1="240.3" x2="85.5" y2="238.8" stroke="#333" stroke-width="0.5"/>
<g transform="translate(85.5 245.3) scale(0.92 1)"><text x="0" y="0" font-family='"Liberation Sans", sans-serif' font-size="4.5" font-weight="bold" text-anchor="middle" fill="#222" stroke="#222" stroke-width="0.12">700</text></g>
<line x1="94.85" y1="240.3" x2="94.85" y2="238.8" stroke="#333" stroke-width="0.5"/>
<g transform="translate(94.85 245.3) scale(0.92 1)"><text x="0" y="0" font-family='"Liberation Sans", sans-serif' font-size="4.5" font-weight="bold" text-anchor="middle" fill="#222" stroke="#222" stroke-width="0.12">800</text></g>
<line x1="104.2" y1="240.3" x2="104.2" y2="238.8" stroke="#333" stroke-width="0.5"/>
<g transform="translate(104.2 245.3) scale(0.92 1)"><text x="0" y="0" font-family='"Liberation Sans", sans-serif' font-size="4.5" font-weight="bold" text-anchor="middle" fill="#222" stroke="#222" stroke-width="0.12">900</text></g>
<line x1="113.55" y1="240.3" x2="113.55" y2="238.8" stroke="#333" stroke-width="0.5"/>
<g transform="translate(113.55 245.3) scale(0.92 1)"><text x="0" y="0" font-family='"Liberation Sans", sans-serif' font-size="4.5" font-weight="bold" text-anchor="middle" fill="#222" stroke="#222" stroke-width="0.12">1000</text></g>
<line x1="122.9" y1="240.3" x2="122.9" y2="238.8" stroke="#333" stroke-width="0.5"/>
<g transform="translate(122.9 245.3) scale(0.92 1)"><text x="0" y="0" font-family='"Liberation Sans", sans-serif' font-size="4.5" font-weight="bold" text-anchor="middle" fill="#222" stroke="#222" stroke-width="0.12">1100</text></g>
<text x="18" y="205" font-family='"Liberation Sans", sans-serif' font-size="4.8" font-weight="bold" text-anchor="middle" fill="#222" transform="rotate(-90 18 205)" stroke="#222" stroke-width="0.12">Percentage(%)</text>
<text x="76" y="252.5" font-family='"Liberation Sans", sans-serif' font-size="5.2" font-weight="bold" text-anchor="middle" fill="#222" stroke="#222" stroke-width="0.12">Diameter(nm)</text>
<rect x="79.8" y="173.1" width="9" height="4.1" fill="#f6a623"/>
<g transform="translate(89.6 176.8) scale(0.87 1)"><text x="0" y="0" font-family='"Liberation Sans", sans-serif' font-size="4.9" font-weight="bold" text-anchor="start" fill="#111" stroke="#111" stroke-width="0.08">NCA900505-1:7</text></g>
<g transform="translate(84.8 187.1) scale(0.9 1)"><text x="0" y="0" font-family='"Liberation Serif", serif' font-size="5.4" font-weight="normal" text-anchor="start" fill="#000" stroke="#000" stroke-width="0.1">Max./nm</text></g>
<g transform="translate(108.4 187.1) scale(0.8 1)"><text x="0" y="0" font-family='"Liberation Serif", serif' font-size="5.4" font-weight="normal" text-anchor="start" fill="#000" stroke="#000" stroke-width="0.1">1056.35</text></g>
<g transform="translate(84.8 192.2) scale(0.9 1)"><text x="0" y="0" font-family='"Liberation Serif", serif' font-size="5.4" font-weight="normal" text-anchor="start" fill="#000" stroke="#000" stroke-width="0.1">Min./nm</text></g>
<g transform="translate(108.4 192.2) scale(0.8 1)"><text x="0" y="0" font-family='"Liberation Serif", serif' font-size="5.4" font-weight="normal" text-anchor="start" fill="#000" stroke="#000" stroke-width="0.1">237.68</text></g>
<g transform="translate(84.8 197.3) scale(0.9 1)"><text x="0" y="0" font-family='"Liberation Serif", serif' font-size="5.4" font-weight="normal" text-anchor="start" fill="#000" stroke="#000" stroke-width="0.1">Mean/nm</text></g>
<g transform="translate(108.4 197.3) scale(0.8 1)"><text x="0" y="0" font-family='"Liberation Serif", serif' font-size="5.4" font-weight="normal" text-anchor="start" fill="#000" stroke="#000" stroke-width="0.1">515.04</text></g>
<rect x="149.44" y="235.78" width="9.34" height="5.02" fill="#f6a623" stroke="#e8901a" stroke-width="0.3"/>
<rect x="158.78" y="213.64" width="9.34" height="27.16" fill="#f6a623" stroke="#e8901a" stroke-width="0.3"/>
<rect x="168.12" y="184.26" width="9.34" height="56.54" fill="#f6a623" stroke="#e8901a" stroke-width="0.3"/>
<rect x="177.46" y="184.26" width="9.34" height="56.54" fill="#f6a623" stroke="#e8901a" stroke-width="0.3"/>
<rect x="186.8" y="222.57" width="9.34" height="18.23" fill="#f6a623" stroke="#e8901a" stroke-width="0.3"/>
<rect x="196.14" y="232.99" width="9.34" height="7.81" fill="#f6a623" stroke="#e8901a" stroke-width="0.3"/>
<rect x="205.48" y="230.2" width="9.34" height="10.6" fill="#f6a623" stroke="#e8901a" stroke-width="0.3"/>
<rect x="214.82" y="238.57" width="9.34" height="2.23" fill="#f6a623" stroke="#e8901a" stroke-width="0.3"/>
<path d="M140.1,240.8 L140.61,240.73 L141.31,240.65 L142.14,240.54 L143.04,240.41 L143.94,240.25 L144.77,240.06 L145.55,239.82 L146.33,239.54 L147.1,239.23 L147.88,238.9 L148.66,238.55 L149.44,238.2 L150.22,237.84 L151,237.49 L151.77,237.13 L152.55,236.73 L153.33,236.28 L154.11,235.78 L154.89,235.28 L155.67,234.81 L156.44,234.29 L157.22,233.65 L158,232.81 L158.78,231.69 L159.55,230.27 L160.32,228.61 L161.08,226.75 L161.85,224.72 L162.64,222.57 L163.45,220.34 L164.3,217.92 L165.19,215.26 L166.1,212.48 L167,209.69 L167.87,207 L168.68,204.53 L169.42,202.25 L170.11,200.07 L170.76,197.99 L171.41,196.02 L172.08,194.16 L172.79,192.44 L173.56,190.74 L174.37,189.04 L175.2,187.46 L176.02,186.12 L176.82,185.14 L177.55,184.63 L178.23,184.64 L178.86,185.09 L179.46,185.9 L180.04,186.98 L180.62,188.26 L181.2,189.65 L181.77,191.31 L182.34,193.33 L182.91,195.54 L183.46,197.79 L184.01,199.91 L184.56,201.74 L185.08,203.24 L185.58,204.53 L186.06,205.69 L186.57,206.8 L187.12,207.94 L187.73,209.18 L188.42,210.55 L189.17,212 L189.96,213.47 L190.78,214.92 L191.6,216.29 L192.4,217.55 L193.21,218.68 L194.02,219.71 L194.84,220.68 L195.66,221.59 L196.47,222.46 L197.26,223.32 L198.02,224.15 L198.77,224.94 L199.5,225.7 L200.23,226.42 L200.97,227.12 L201.74,227.78 L202.55,228.41 L203.38,229.01 L204.22,229.57 L205.07,230.11 L205.9,230.63 L206.69,231.13 L207.45,231.6 L208.18,232.03 L208.89,232.44 L209.6,232.85 L210.33,233.27 L211.08,233.73 L211.87,234.24 L212.68,234.77 L213.5,235.32 L214.34,235.87 L215.18,236.4 L216.03,236.89 L216.91,237.36 L217.83,237.81 L218.75,238.24 L219.66,238.64 L220.54,239 L221.36,239.31 L222.09,239.56 L222.76,239.75 L223.39,239.89 L224.03,240.01 L224.7,240.13 L225.47,240.24 L226.39,240.36 L227.46,240.48 L228.57,240.58 L229.63,240.67 L230.53,240.74 L231.16,240.8" fill="none" stroke="#f0303c" stroke-width="1.05"/>
<rect x="140.1" y="171.1" width="93.4" height="69.7" fill="none" stroke="#333" stroke-width="0.8"/>
<line x1="140.1" y1="240.8" x2="141.6" y2="240.8" stroke="#333" stroke-width="0.5"/>
<g transform="translate(138.5 242.4) scale(0.92 1)"><text x="0" y="0" font-family='"Liberation Sans", sans-serif' font-size="4.5" font-weight="bold" text-anchor="end" fill="#222" stroke="#222" stroke-width="0.12">0.00</text></g>
<line x1="140.1" y1="231.5" x2="141.6" y2="231.5" stroke="#333" stroke-width="0.5"/>
<g transform="translate(138.5 233.1) scale(0.92 1)"><text x="0" y="0" font-family='"Liberation Sans", sans-serif' font-size="4.5" font-weight="bold" text-anchor="end" fill="#222" stroke="#222" stroke-width="0.12">0.05</text></g>
<line x1="140.1" y1="222.2" x2="141.6" y2="222.2" stroke="#333" stroke-width="0.5"/>
<g transform="translate(138.5 223.8) scale(0.92 1)"><text x="0" y="0" font-family='"Liberation Sans", sans-serif' font-size="4.5" font-weight="bold" text-anchor="end" fill="#222" stroke="#222" stroke-width="0.12">0.10</text></g>
<line x1="140.1" y1="212.9" x2="141.6" y2="212.9" stroke="#333" stroke-width="0.5"/>
<g transform="translate(138.5 214.5) scale(0.92 1)"><text x="0" y="0" font-family='"Liberation Sans", sans-serif' font-size="4.5" font-weight="bold" text-anchor="end" fill="#222" stroke="#222" stroke-width="0.12">0.15</text></g>
<line x1="140.1" y1="203.6" x2="141.6" y2="203.6" stroke="#333" stroke-width="0.5"/>
<g transform="translate(138.5 205.2) scale(0.92 1)"><text x="0" y="0" font-family='"Liberation Sans", sans-serif' font-size="4.5" font-weight="bold" text-anchor="end" fill="#222" stroke="#222" stroke-width="0.12">0.20</text></g>
<line x1="140.1" y1="194.3" x2="141.6" y2="194.3" stroke="#333" stroke-width="0.5"/>
<g transform="translate(138.5 195.9) scale(0.92 1)"><text x="0" y="0" font-family='"Liberation Sans", sans-serif' font-size="4.5" font-weight="bold" text-anchor="end" fill="#222" stroke="#222" stroke-width="0.12">0.25</text></g>
<line x1="140.1" y1="185" x2="141.6" y2="185" stroke="#333" stroke-width="0.5"/>
<g transform="translate(138.5 186.6) scale(0.92 1)"><text x="0" y="0" font-family='"Liberation Sans", sans-serif' font-size="4.5" font-weight="bold" text-anchor="end" fill="#222" stroke="#222" stroke-width="0.12">0.30</text></g>
<line x1="140.1" y1="175.7" x2="141.6" y2="175.7" stroke="#333" stroke-width="0.5"/>
<g transform="translate(138.5 177.3) scale(0.92 1)"><text x="0" y="0" font-family='"Liberation Sans", sans-serif' font-size="4.5" font-weight="bold" text-anchor="end" fill="#222" stroke="#222" stroke-width="0.12">0.35</text></g>
<line x1="140.1" y1="240.8" x2="140.1" y2="239.3" stroke="#333" stroke-width="0.5"/>
<g transform="translate(140.1 245.8) scale(0.92 1)"><text x="0" y="0" font-family='"Liberation Sans", sans-serif' font-size="4.5" font-weight="bold" text-anchor="middle" fill="#222" stroke="#222" stroke-width="0.12">0</text></g>
<line x1="149.44" y1="240.8" x2="149.44" y2="239.3" stroke="#333" stroke-width="0.5"/>
<g transform="translate(149.44 245.8) scale(0.92 1)"><text x="0" y="0" font-family='"Liberation Sans", sans-serif' font-size="4.5" font-weight="bold" text-anchor="middle" fill="#222" stroke="#222" stroke-width="0.12">100</text></g>
<line x1="158.78" y1="240.8" x2="158.78" y2="239.3" stroke="#333" stroke-width="0.5"/>
<g transform="translate(158.78 245.8) scale(0.92 1)"><text x="0" y="0" font-family='"Liberation Sans", sans-serif' font-size="4.5" font-weight="bold" text-anchor="middle" fill="#222" stroke="#222" stroke-width="0.12">200</text></g>
<line x1="168.12" y1="240.8" x2="168.12" y2="239.3" stroke="#333" stroke-width="0.5"/>
<g transform="translate(168.12 245.8) scale(0.92 1)"><text x="0" y="0" font-family='"Liberation Sans", sans-serif' font-size="4.5" font-weight="bold" text-anchor="middle" fill="#222" stroke="#222" stroke-width="0.12">300</text></g>
<line x1="177.46" y1="240.8" x2="177.46" y2="239.3" stroke="#333" stroke-width="0.5"/>
<g transform="translate(177.46 245.8) scale(0.92 1)"><text x="0" y="0" font-family='"Liberation Sans", sans-serif' font-size="4.5" font-weight="bold" text-anchor="middle" fill="#222" stroke="#222" stroke-width="0.12">400</text></g>
<line x1="186.8" y1="240.8" x2="186.8" y2="239.3" stroke="#333" stroke-width="0.5"/>
<g transform="translate(186.8 245.8) scale(0.92 1)"><text x="0" y="0" font-family='"Liberation Sans", sans-serif' font-size="4.5" font-weight="bold" text-anchor="middle" fill="#222" stroke="#222" stroke-width="0.12">500</text></g>
<line x1="196.14" y1="240.8" x2="196.14" y2="239.3" stroke="#333" stroke-width="0.5"/>
<g transform="translate(196.14 245.8) scale(0.92 1)"><text x="0" y="0" font-family='"Liberation Sans", sans-serif' font-size="4.5" font-weight="bold" text-anchor="middle" fill="#222" stroke="#222" stroke-width="0.12">600</text></g>
<line x1="205.48" y1="240.8" x2="205.48" y2="239.3" stroke="#333" stroke-width="0.5"/>
<g transform="translate(205.48 245.8) scale(0.92 1)"><text x="0" y="0" font-family='"Liberation Sans", sans-serif' font-size="4.5" font-weight="bold" text-anchor="middle" fill="#222" stroke="#222" stroke-width="0.12">700</text></g>
<line x1="214.82" y1="240.8" x2="214.82" y2="239.3" stroke="#333" stroke-width="0.5"/>
<g transform="translate(214.82 245.8) scale(0.92 1)"><text x="0" y="0" font-family='"Liberation Sans", sans-serif' font-size="4.5" font-weight="bold" text-anchor="middle" fill="#222" stroke="#222" stroke-width="0.12">800</text></g>
<line x1="224.16" y1="240.8" x2="224.16" y2="239.3" stroke="#333" stroke-width="0.5"/>
<g transform="translate(224.16 245.8) scale(0.92 1)"><text x="0" y="0" font-family='"Liberation Sans", sans-serif' font-size="4.5" font-weight="bold" text-anchor="middle" fill="#222" stroke="#222" stroke-width="0.12">900</text></g>
<line x1="233.5" y1="240.8" x2="233.5" y2="239.3" stroke="#333" stroke-width="0.5"/>
<g transform="translate(233.5 245.8) scale(0.92 1)"><text x="0" y="0" font-family='"Liberation Sans", sans-serif' font-size="4.5" font-weight="bold" text-anchor="middle" fill="#222" stroke="#222" stroke-width="0.12">1000</text></g>
<text x="129" y="206" font-family='"Liberation Sans", sans-serif' font-size="4.8" font-weight="bold" text-anchor="middle" fill="#222" transform="rotate(-90 129 206)" stroke="#222" stroke-width="0.12">Percentage(%)</text>
<text x="187" y="252.5" font-family='"Liberation Sans", sans-serif' font-size="5.2" font-weight="bold" text-anchor="middle" fill="#222" stroke="#222" stroke-width="0.12">Diameter(nm)</text>
<rect x="188.9" y="173.3" width="9" height="4.1" fill="#f6a623"/>
<g transform="translate(198.7 177) scale(0.87 1)"><text x="0" y="0" font-family='"Liberation Sans", sans-serif' font-size="4.9" font-weight="bold" text-anchor="start" fill="#111" stroke="#111" stroke-width="0.08">NCA900505-1:13</text></g>
<g transform="translate(197.6 187.2) scale(0.9 1)"><text x="0" y="0" font-family='"Liberation Serif", serif' font-size="5.4" font-weight="normal" text-anchor="start" fill="#000" stroke="#000" stroke-width="0.1">Max./nm</text></g>
<g transform="translate(220.8 187.2) scale(0.8 1)"><text x="0" y="0" font-family='"Liberation Serif", serif' font-size="5.4" font-weight="normal" text-anchor="start" fill="#000" stroke="#000" stroke-width="0.1">839.76</text></g>
<g transform="translate(197.6 192.3) scale(0.9 1)"><text x="0" y="0" font-family='"Liberation Serif", serif' font-size="5.4" font-weight="normal" text-anchor="start" fill="#000" stroke="#000" stroke-width="0.1">Min./nm</text></g>
<g transform="translate(220.8 192.3) scale(0.8 1)"><text x="0" y="0" font-family='"Liberation Serif", serif' font-size="5.4" font-weight="normal" text-anchor="start" fill="#000" stroke="#000" stroke-width="0.1">100.57</text></g>
<g transform="translate(197.6 197.4) scale(0.9 1)"><text x="0" y="0" font-family='"Liberation Serif", serif' font-size="5.4" font-weight="normal" text-anchor="start" fill="#000" stroke="#000" stroke-width="0.1">Mean/nm</text></g>
<g transform="translate(220.8 197.4) scale(0.8 1)"><text x="0" y="0" font-family='"Liberation Serif", serif' font-size="5.4" font-weight="normal" text-anchor="start" fill="#000" stroke="#000" stroke-width="0.1">422.06</text></g>
<rect x="251.5" y="235.08" width="9.39" height="5.22" fill="#f6a623" stroke="#e8901a" stroke-width="0.3"/>
<rect x="260.89" y="229.85" width="9.39" height="10.45" fill="#f6a623" stroke="#e8901a" stroke-width="0.3"/>
<rect x="270.28" y="221.83" width="9.39" height="18.47" fill="#f6a623" stroke="#e8901a" stroke-width="0.3"/>
<rect x="279.67" y="202.61" width="9.39" height="37.69" fill="#f6a623" stroke="#e8901a" stroke-width="0.3"/>
<rect x="289.06" y="202.61" width="9.39" height="37.69" fill="#f6a623" stroke="#e8901a" stroke-width="0.3"/>
<rect x="298.45" y="192.16" width="9.39" height="48.14" fill="#f6a623" stroke="#e8901a" stroke-width="0.3"/>
<rect x="307.84" y="221.83" width="9.39" height="18.47" fill="#f6a623" stroke="#e8901a" stroke-width="0.3"/>
<rect x="317.23" y="232.28" width="9.39" height="8.02" fill="#f6a623" stroke="#e8901a" stroke-width="0.3"/>
<path d="M251.5,237.35 L251.6,237.31 L251.73,237.26 L251.88,237.2 L252.05,237.14 L252.22,237.08 L252.37,237.01 L252.52,236.96 L252.66,236.9 L252.81,236.84 L252.96,236.78 L253.1,236.72 L253.25,236.65 L253.39,236.59 L253.54,236.53 L253.68,236.46 L253.83,236.4 L253.97,236.33 L254.12,236.26 L254.27,236.19 L254.41,236.12 L254.56,236.05 L254.7,235.98 L254.85,235.91 L254.99,235.84 L255.14,235.76 L255.28,235.69 L255.43,235.61 L255.58,235.53 L255.72,235.46 L255.87,235.38 L256.01,235.3 L256.16,235.22 L256.3,235.13 L256.45,235.05 L256.59,234.97 L256.74,234.88 L256.89,234.79 L257.03,234.71 L257.18,234.62 L257.32,234.53 L257.47,234.44 L257.61,234.35 L257.76,234.25 L257.9,234.16 L258.05,234.06 L258.2,233.97 L258.34,233.87 L258.49,233.77 L258.63,233.67 L258.78,233.57 L258.92,233.47 L259.07,233.37 L259.21,233.27 L259.36,233.16 L259.5,233.05 L259.65,232.95 L259.8,232.84 L259.94,232.73 L260.09,232.62 L260.23,232.5 L260.38,232.39 L260.52,232.28 L260.67,232.16 L260.81,232.04 L260.96,231.93 L261.11,231.81 L261.25,231.69 L261.4,231.57 L261.54,231.44 L261.69,231.32 L261.83,231.19 L261.98,231.07 L262.12,230.94 L262.27,230.81 L262.42,230.68 L262.56,230.55 L262.71,230.41 L262.85,230.28 L263,230.15 L263.14,230.01 L263.29,229.87 L263.43,229.73 L263.58,229.59 L263.73,229.45 L263.87,229.31 L264.02,229.17 L264.16,229.02 L264.31,228.87 L264.45,228.73 L264.6,228.58 L264.74,228.43 L264.89,228.28 L265.04,228.12 L265.18,227.97 L265.33,227.82 L265.47,227.66 L265.62,227.5 L265.76,227.34 L265.91,227.18 L266.05,227.02 L266.2,226.86 L266.35,226.7 L266.49,226.53 L266.64,226.37 L266.78,226.2 L266.93,226.03 L267.07,225.86 L267.22,225.69 L267.36,225.52 L267.51,225.35 L267.66,225.17 L267.8,225 L267.95,224.82 L268.09,224.64 L268.24,224.47 L268.38,224.29 L268.53,224.1 L268.67,223.92 L268.82,223.74 L268.97,223.56 L269.11,223.37 L269.26,223.18 L269.4,223 L269.55,222.81 L269.69,222.62 L269.84,222.43 L269.98,222.24 L270.13,222.04 L270.28,221.85 L270.42,221.66 L270.57,221.46 L270.71,221.26 L270.86,221.07 L271,220.87 L271.15,220.67 L271.29,220.47 L271.44,220.27 L271.59,220.07 L271.73,219.86 L271.88,219.66 L272.02,219.46 L272.17,219.25 L272.31,219.04 L272.46,218.84 L272.6,218.63 L272.75,218.42 L272.9,218.21 L273.04,218 L273.19,217.79 L273.33,217.58 L273.48,217.37 L273.62,217.16 L273.77,216.94 L273.91,216.73 L274.06,216.52 L274.21,216.3 L274.35,216.08 L274.5,215.87 L274.64,215.65 L274.79,215.43 L274.93,215.22 L275.08,215 L275.22,214.78 L275.37,214.56 L275.51,214.34 L275.66,214.12 L275.81,213.9 L275.95,213.68 L276.1,213.46 L276.24,213.24 L276.39,213.02 L276.53,212.8 L276.68,212.58 L276.82,212.36 L276.97,212.13 L277.12,211.91 L277.26,211.69 L277.41,211.47 L277.55,211.24 L277.7,211.02 L277.84,210.8 L277.99,210.58 L278.13,210.35 L278.28,210.13 L278.43,209.91 L278.57,209.69 L278.72,209.47 L278.86,209.24 L279.01,209.02 L279.15,208.8 L279.3,208.58 L279.44,208.36 L279.59,208.14 L279.74,207.92 L279.88,207.7 L280.03,207.48 L280.17,207.26 L280.32,207.04 L280.46,206.82 L280.61,206.6 L280.75,206.39 L280.9,206.17 L281.05,205.95 L281.19,205.74 L281.34,205.52 L281.48,205.31 L281.63,205.1 L281.77,204.88 L281.92,204.67 L282.06,204.46 L282.21,204.25 L282.36,204.04 L282.5,203.83 L282.65,203.62 L282.79,203.42 L282.94,203.21 L283.08,203.01 L283.23,202.8 L283.37,202.6 L283.52,202.4 L283.67,202.2 L283.81,202 L283.96,201.8 L284.1,201.6 L284.25,201.4 L284.39,201.21 L284.54,201.02 L284.68,200.82 L284.83,200.63 L284.98,200.44 L285.12,200.26 L285.27,200.07 L285.41,199.88 L285.56,199.7 L285.7,199.52 L285.85,199.34 L285.99,199.16 L286.14,198.98 L286.29,198.8 L286.43,198.63 L286.58,198.46 L286.72,198.28 L286.87,198.11 L287.01,197.95 L287.16,197.78 L287.3,197.62 L287.45,197.45 L287.6,197.29 L287.74,197.14 L287.89,196.98 L288.03,196.82 L288.18,196.67 L288.32,196.52 L288.47,196.37 L288.61,196.22 L288.76,196.08 L288.91,195.94 L289.05,195.8 L289.2,195.66 L289.34,195.52 L289.49,195.39 L289.63,195.25 L289.78,195.12 L289.92,195 L290.07,194.87 L290.21,194.75 L290.36,194.63 L290.51,194.51 L290.65,194.39 L290.8,194.28 L290.94,194.17 L291.09,194.06 L291.23,193.95 L291.38,193.85 L291.52,193.74 L291.67,193.64 L291.82,193.55 L291.96,193.45 L292.11,193.36 L292.25,193.27 L292.4,193.18 L292.54,193.1 L292.69,193.02 L292.83,192.94 L292.98,192.86 L293.13,192.78 L293.27,192.71 L293.42,192.64 L293.56,192.58 L293.71,192.51 L293.85,192.45 L294,192.39 L294.14,192.34 L294.29,192.28 L294.44,192.23 L294.58,192.19 L294.73,192.14 L294.87,192.1 L295.02,192.06 L295.16,192.02 L295.31,191.99 L295.45,191.96 L295.6,191.93 L295.75,191.9 L295.89,191.88 L296.04,191.86 L296.18,191.84 L296.33,191.82 L296.47,191.81 L296.62,191.8 L296.76,191.8 L296.91,191.79 L297.06,191.79 L297.2,191.8 L297.35,191.8 L297.49,191.81 L297.64,191.83 L297.78,191.85 L297.93,191.88 L298.07,191.91 L298.22,191.94 L298.37,191.98 L298.51,192.02 L298.66,192.07 L298.8,192.12 L298.95,192.18 L299.09,192.24 L299.24,192.31 L299.38,192.38 L299.53,192.45 L299.68,192.53 L299.82,192.61 L299.97,192.7 L300.11,192.79 L300.26,192.89 L300.4,192.99 L300.55,193.1 L300.69,193.2 L300.84,193.32 L300.99,193.43 L301.13,193.56 L301.28,193.68 L301.42,193.81 L301.57,193.94 L301.71,194.08 L301.86,194.22 L302,194.37 L302.15,194.52 L302.3,194.67 L302.44,194.82 L302.59,194.99 L302.73,195.15 L302.88,195.32 L303.02,195.49 L303.17,195.66 L303.31,195.84 L303.46,196.02 L303.61,196.21 L303.75,196.4 L303.9,196.59 L304.04,196.78 L304.19,196.98 L304.33,197.18 L304.48,197.38 L304.62,197.59 L304.77,197.8 L304.92,198.02 L305.06,198.23 L305.21,198.45 L305.35,198.67 L305.5,198.9 L305.64,199.12 L305.79,199.35 L305.93,199.59 L306.08,199.82 L306.22,200.06 L306.37,200.3 L306.52,200.54 L306.66,200.78 L306.81,201.03 L306.95,201.28 L307.1,201.53 L307.24,201.78 L307.39,202.03 L307.53,202.29 L307.68,202.55 L307.83,202.81 L307.97,203.07 L308.12,203.33 L308.26,203.6 L308.41,203.86 L308.55,204.13 L308.7,204.4 L308.84,204.67 L308.99,204.94 L309.14,205.22 L309.28,205.49 L309.43,205.77 L309.57,206.04 L309.72,206.32 L309.86,206.6 L310.01,206.88 L310.15,207.16 L310.3,207.44 L310.45,207.72 L310.59,208 L310.74,208.28 L310.88,208.57 L311.03,208.85 L311.17,209.13 L311.32,209.42 L311.46,209.7 L311.61,209.99 L311.76,210.27 L311.9,210.56 L312.05,210.84 L312.19,211.13 L312.34,211.41 L312.48,211.7 L312.63,211.98 L312.77,212.27 L312.92,212.55 L313.07,212.83 L313.21,213.12 L313.36,213.4 L313.5,213.68 L313.65,213.97 L313.79,214.25 L313.94,214.53 L314.08,214.81 L314.23,215.09 L314.38,215.37 L314.52,215.65 L314.67,215.92 L314.81,216.2 L314.96,216.48 L315.1,216.75 L315.25,217.02 L315.39,217.3 L315.54,217.57 L315.69,217.84 L315.83,218.11 L315.98,218.38 L316.12,218.64 L316.27,218.91 L316.41,219.17 L316.56,219.44 L316.7,219.7 L316.85,219.96 L317,220.22 L317.14,220.48 L317.29,220.73 L317.43,220.99 L317.58,221.24 L317.72,221.49 L317.87,221.74 L318.01,221.99 L318.16,222.24 L318.31,222.48 L318.45,222.73 L318.6,222.97 L318.74,223.21 L318.89,223.45 L319.03,223.68 L319.18,223.92 L319.32,224.15 L319.47,224.38 L319.62,224.61 L319.76,224.84 L319.91,225.06 L320.05,225.29 L320.2,225.51 L320.34,225.73 L320.49,225.95 L320.63,226.16 L320.78,226.38 L320.92,226.59 L321.07,226.8 L321.22,227.01 L321.36,227.21 L321.51,227.42 L321.65,227.62 L321.8,227.82 L321.94,228.02 L322.09,228.21 L322.23,228.41 L322.38,228.6 L322.53,228.79 L322.67,228.98 L322.82,229.17 L322.96,229.35 L323.11,229.53 L323.25,229.71 L323.4,229.89 L323.54,230.07 L323.69,230.24 L323.84,230.41 L323.98,230.58 L324.13,230.75 L324.27,230.91 L324.42,231.08 L324.56,231.24 L324.71,231.4 L324.85,231.56 L325,231.71 L325.15,231.87 L325.29,232.02 L325.44,232.17 L325.58,232.32 L325.73,232.46 L325.87,232.61 L326.02,232.75 L326.16,232.89 L326.31,233.03 L326.46,233.16 L326.6,233.3 L326.75,233.43 L326.89,233.56 L327.04,233.69 L327.18,233.82 L327.33,233.94 L327.47,234.07 L327.62,234.19 L327.77,234.31 L327.91,234.42 L328.06,234.54 L328.2,234.65 L328.35,234.77 L328.49,234.88 L328.64,234.99 L328.78,235.09 L328.93,235.2 L329.08,235.3 L329.22,235.41 L329.37,235.51 L329.51,235.61 L329.66,235.7 L329.8,235.8 L329.95,235.89 L330.09,235.99 L330.24,236.08 L330.39,236.17 L330.53,236.26 L330.68,236.34 L330.82,236.43 L330.97,236.51 L331.11,236.59 L331.26,236.67 L331.4,236.75 L331.55,236.83 L331.7,236.91 L331.84,236.98 L331.99,237.06 L332.13,237.13 L332.28,237.2 L332.42,237.27 L332.57,237.34 L332.71,237.41 L332.86,237.47 L333.01,237.54 L333.15,237.6 L333.3,237.66 L333.44,237.72 L333.59,237.78 L333.73,237.84 L333.88,237.9 L334.02,237.96 L334.17,238.01 L334.32,238.07 L334.46,238.12 L334.61,238.17 L334.75,238.22 L334.9,238.27 L335.04,238.32 L335.19,238.37 L335.33,238.42 L335.48,238.46 L335.63,238.51 L335.77,238.55 L335.92,238.59 L336.06,238.64 L336.21,238.68 L336.35,238.72 L336.5,238.76 L336.64,238.8 L336.79,238.83 L336.93,238.87 L337.08,238.91 L337.24,238.95 L337.4,238.99 L337.57,239.02 L337.73,239.06 L337.86,239.09 L337.95,239.11" fill="none" stroke="#f0303c" stroke-width="1.05"/>
<rect x="251.5" y="171.1" width="93.9" height="69.2" fill="none" stroke="#333" stroke-width="0.8"/>
<line x1="251.5" y1="240.3" x2="253" y2="240.3" stroke="#333" stroke-width="0.5"/>
<g transform="translate(249.9 241.9) scale(0.92 1)"><text x="0" y="0" font-family='"Liberation Sans", sans-serif' font-size="4.5" font-weight="bold" text-anchor="end" fill="#222" stroke="#222" stroke-width="0.12">0.00</text></g>
<line x1="251.5" y1="230.97" x2="253" y2="230.97" stroke="#333" stroke-width="0.5"/>
<g transform="translate(249.9 232.57) scale(0.92 1)"><text x="0" y="0" font-family='"Liberation Sans", sans-serif' font-size="4.5" font-weight="bold" text-anchor="end" fill="#222" stroke="#222" stroke-width="0.12">0.05</text></g>
<line x1="251.5" y1="221.64" x2="253" y2="221.64" stroke="#333" stroke-width="0.5"/>
<g transform="translate(249.9 223.24) scale(0.92 1)"><text x="0" y="0" font-family='"Liberation Sans", sans-serif' font-size="4.5" font-weight="bold" text-anchor="end" fill="#222" stroke="#222" stroke-width="0.12">0.10</text></g>
<line x1="251.5" y1="212.31" x2="253" y2="212.31" stroke="#333" stroke-width="0.5"/>
<g transform="translate(249.9 213.91) scale(0.92 1)"><text x="0" y="0" font-family='"Liberation Sans", sans-serif' font-size="4.5" font-weight="bold" text-anchor="end" fill="#222" stroke="#222" stroke-width="0.12">0.15</text></g>
<line x1="251.5" y1="202.99" x2="253" y2="202.99" stroke="#333" stroke-width="0.5"/>
<g transform="translate(249.9 204.59) scale(0.92 1)"><text x="0" y="0" font-family='"Liberation Sans", sans-serif' font-size="4.5" font-weight="bold" text-anchor="end" fill="#222" stroke="#222" stroke-width="0.12">0.20</text></g>
<line x1="251.5" y1="193.66" x2="253" y2="193.66" stroke="#333" stroke-width="0.5"/>
<g transform="translate(249.9 195.26) scale(0.92 1)"><text x="0" y="0" font-family='"Liberation Sans", sans-serif' font-size="4.5" font-weight="bold" text-anchor="end" fill="#222" stroke="#222" stroke-width="0.12">0.25</text></g>
<line x1="251.5" y1="184.33" x2="253" y2="184.33" stroke="#333" stroke-width="0.5"/>
<g transform="translate(249.9 185.93) scale(0.92 1)"><text x="0" y="0" font-family='"Liberation Sans", sans-serif' font-size="4.5" font-weight="bold" text-anchor="end" fill="#222" stroke="#222" stroke-width="0.12">0.30</text></g>
<line x1="251.5" y1="175" x2="253" y2="175" stroke="#333" stroke-width="0.5"/>
<g transform="translate(249.9 176.6) scale(0.92 1)"><text x="0" y="0" font-family='"Liberation Sans", sans-serif' font-size="4.5" font-weight="bold" text-anchor="end" fill="#222" stroke="#222" stroke-width="0.12">0.35</text></g>
<line x1="251.5" y1="240.3" x2="251.5" y2="238.8" stroke="#333" stroke-width="0.5"/>
<g transform="translate(251.5 245.3) scale(0.92 1)"><text x="0" y="0" font-family='"Liberation Sans", sans-serif' font-size="4.5" font-weight="bold" text-anchor="middle" fill="#222" stroke="#222" stroke-width="0.12">0</text></g>
<line x1="260.89" y1="240.3" x2="260.89" y2="238.8" stroke="#333" stroke-width="0.5"/>
<g transform="translate(260.89 245.3) scale(0.92 1)"><text x="0" y="0" font-family='"Liberation Sans", sans-serif' font-size="4.5" font-weight="bold" text-anchor="middle" fill="#222" stroke="#222" stroke-width="0.12">100</text></g>
<line x1="270.28" y1="240.3" x2="270.28" y2="238.8" stroke="#333" stroke-width="0.5"/>
<g transform="translate(270.28 245.3) scale(0.92 1)"><text x="0" y="0" font-family='"Liberation Sans", sans-serif' font-size="4.5" font-weight="bold" text-anchor="middle" fill="#222" stroke="#222" stroke-width="0.12">200</text></g>
<line x1="279.67" y1="240.3" x2="279.67" y2="238.8" stroke="#333" stroke-width="0.5"/>
<g transform="translate(279.67 245.3) scale(0.92 1)"><text x="0" y="0" font-family='"Liberation Sans", sans-serif' font-size="4.5" font-weight="bold" text-anchor="middle" fill="#222" stroke="#222" stroke-width="0.12">300</text></g>
<line x1="289.06" y1="240.3" x2="289.06" y2="238.8" stroke="#333" stroke-width="0.5"/>
<g transform="translate(289.06 245.3) scale(0.92 1)"><text x="0" y="0" font-family='"Liberation Sans", sans-serif' font-size="4.5" font-weight="bold" text-anchor="middle" fill="#222" stroke="#222" stroke-width="0.12">400</text></g>
<line x1="298.45" y1="240.3" x2="298.45" y2="238.8" stroke="#333" stroke-width="0.5"/>
<g transform="translate(298.45 245.3) scale(0.92 1)"><text x="0" y="0" font-family='"Liberation Sans", sans-serif' font-size="4.5" font-weight="bold" text-anchor="middle" fill="#222" stroke="#222" stroke-width="0.12">500</text></g>
<line x1="307.84" y1="240.3" x2="307.84" y2="238.8" stroke="#333" stroke-width="0.5"/>
<g transform="translate(307.84 245.3) scale(0.92 1)"><text x="0" y="0" font-family='"Liberation Sans", sans-serif' font-size="4.5" font-weight="bold" text-anchor="middle" fill="#222" stroke="#222" stroke-width="0.12">600</text></g>
<line x1="317.23" y1="240.3" x2="317.23" y2="238.8" stroke="#333" stroke-width="0.5"/>
<g transform="translate(317.23 245.3) scale(0.92 1)"><text x="0" y="0" font-family='"Liberation Sans", sans-serif' font-size="4.5" font-weight="bold" text-anchor="middle" fill="#222" stroke="#222" stroke-width="0.12">700</text></g>
<line x1="326.62" y1="240.3" x2="326.62" y2="238.8" stroke="#333" stroke-width="0.5"/>
<g transform="translate(326.62 245.3) scale(0.92 1)"><text x="0" y="0" font-family='"Liberation Sans", sans-serif' font-size="4.5" font-weight="bold" text-anchor="middle" fill="#222" stroke="#222" stroke-width="0.12">800</text></g>
<line x1="336.01" y1="240.3" x2="336.01" y2="238.8" stroke="#333" stroke-width="0.5"/>
<g transform="translate(336.01 245.3) scale(0.92 1)"><text x="0" y="0" font-family='"Liberation Sans", sans-serif' font-size="4.5" font-weight="bold" text-anchor="middle" fill="#222" stroke="#222" stroke-width="0.12">900</text></g>
<line x1="345.4" y1="240.3" x2="345.4" y2="238.8" stroke="#333" stroke-width="0.5"/>
<g transform="translate(345.4 245.3) scale(0.92 1)"><text x="0" y="0" font-family='"Liberation Sans", sans-serif' font-size="4.5" font-weight="bold" text-anchor="middle" fill="#222" stroke="#222" stroke-width="0.12">1000</text></g>
<text x="240" y="206" font-family='"Liberation Sans", sans-serif' font-size="4.8" font-weight="bold" text-anchor="middle" fill="#222" transform="rotate(-90 240 206)" stroke="#222" stroke-width="0.12">Percentage(%)</text>
<text x="298" y="252.5" font-family='"Liberation Sans", sans-serif' font-size="5.2" font-weight="bold" text-anchor="middle" fill="#222" stroke="#222" stroke-width="0.12">Diameter(nm)</text>
<rect x="299.7" y="173.6" width="9" height="4.1" fill="#f6a623"/>
<g transform="translate(309.5 177.3) scale(0.87 1)"><text x="0" y="0" font-family='"Liberation Sans", sans-serif' font-size="4.9" font-weight="bold" text-anchor="start" fill="#111" stroke="#111" stroke-width="0.08">NCA900505-1:20</text></g>
<g transform="translate(308.4 186.8) scale(0.9 1)"><text x="0" y="0" font-family='"Liberation Serif", serif' font-size="5.4" font-weight="normal" text-anchor="start" fill="#000" stroke="#000" stroke-width="0.1">Max./nm</text></g>
<g transform="translate(331.8 186.8) scale(0.8 1)"><text x="0" y="0" font-family='"Liberation Serif", serif' font-size="5.4" font-weight="normal" text-anchor="start" fill="#000" stroke="#000" stroke-width="0.1">754.25</text></g>
<g transform="translate(308.4 191.9) scale(0.9 1)"><text x="0" y="0" font-family='"Liberation Serif", serif' font-size="5.4" font-weight="normal" text-anchor="start" fill="#000" stroke="#000" stroke-width="0.1">Min./nm</text></g>
<g transform="translate(331.8 191.9) scale(0.8 1)"><text x="0" y="0" font-family='"Liberation Serif", serif' font-size="5.4" font-weight="normal" text-anchor="start" fill="#000" stroke="#000" stroke-width="0.1">15.41</text></g>
<g transform="translate(308.4 197) scale(0.9 1)"><text x="0" y="0" font-family='"Liberation Serif", serif' font-size="5.4" font-weight="normal" text-anchor="start" fill="#000" stroke="#000" stroke-width="0.1">Mean/nm</text></g>
<g transform="translate(331.8 197) scale(0.8 1)"><text x="0" y="0" font-family='"Liberation Serif", serif' font-size="5.4" font-weight="normal" text-anchor="start" fill="#000" stroke="#000" stroke-width="0.1">454.08</text></g>
<text x="9.6" y="168.1" font-family='"Liberation Serif", serif' font-size="10.2" font-weight="bold" text-anchor="start" fill="#111" >(g)</text>
<text x="124" y="168.1" font-family='"Liberation Serif", serif' font-size="10.2" font-weight="bold" text-anchor="start" fill="#111" >(h)</text>
<text x="237.7" y="168.3" font-family='"Liberation Serif", serif' font-size="10.2" font-weight="bold" text-anchor="start" fill="#111" >(i)</text>
<path d="M46.30,280.34 L46.86,280.42 L47.60,280.52 L48.48,280.63 L49.47,280.77 L50.52,280.92 L51.61,281.09 L52.69,281.28 L53.75,281.48 L54.80,281.70 L55.89,281.94 L57.01,282.18 L58.15,282.45 L59.30,282.74 L60.45,283.05 L61.58,283.40 L62.68,283.77 L63.75,284.17 L64.79,284.59 L65.82,285.02 L66.84,285.49 L67.87,285.99 L68.92,286.53 L70.00,287.13 L71.12,287.78 L72.24,288.50 L73.30,289.29 L74.37,290.14 L75.47,291.03 L76.65,291.94 L77.94,292.86 L79.40,293.76 L81.06,294.64 L82.99,295.51 L85.22,296.40 L87.63,297.29 L90.15,298.18 L92.67,299.06 L95.12,299.91 L97.40,300.73 L99.43,301.50 L101.20,302.24 L102.83,302.94 L104.33,303.61 L105.72,304.26 L107.05,304.88 L108.33,305.49 L109.58,306.07 L110.84,306.65 L112.08,307.21 L113.27,307.75 L114.40,308.26 L115.50,308.76 L116.58,309.25 L117.64,309.72 L118.71,310.19 L119.78,310.66 L120.88,311.12 L122.00,311.58 L123.11,312.04 L124.22,312.48 L125.30,312.91 L126.33,313.32 L127.31,313.72 L128.22,314.09 L129.07,314.39 L129.87,314.62 L130.62,314.80 L131.33,314.98 L131.99,315.19 L132.60,315.47 L133.16,315.85 L133.68,316.38 L134.14,317.02 L134.54,317.73 L134.88,318.51 L135.17,319.38 L135.44,320.34 L135.69,321.39 L135.92,322.55 L136.17,323.81 L136.40,325.22 L136.61,326.79 L136.80,328.47 L136.97,330.25 L137.14,332.07 L137.31,333.92 L137.48,335.75 L137.66,337.54 L137.85,339.33 L138.04,341.18 L138.24,343.06 L138.43,344.94 L138.62,346.79 L138.81,348.57 L138.98,350.27 L139.15,351.84 L139.30,353.34 L139.45,354.82 L139.60,356.25 L139.74,357.60 L139.86,358.83 L139.97,359.92 L140.07,360.85 L140.14,361.56" fill="none" stroke="#1fb37a" stroke-width="1.3" stroke-linejoin="round"/>
<path d="M46.30,317.52 L46.33,316.86 L46.35,315.94 L46.38,314.84 L46.42,313.64 L46.48,312.43 L46.56,311.28 L46.66,310.28 L46.80,309.51 L46.89,308.97 L46.91,308.59 L46.91,308.32 L46.95,308.13 L47.10,307.99 L47.41,307.86 L47.95,307.71 L48.78,307.51 L49.92,307.26 L51.32,307.02 L52.93,306.77 L54.71,306.52 L56.62,306.28 L58.62,306.05 L60.65,305.83 L62.68,305.62 L64.77,305.44 L66.96,305.29 L69.25,305.16 L71.59,305.03 L73.97,304.90 L76.36,304.75 L78.73,304.57 L81.06,304.36 L83.41,304.12 L85.83,303.84 L88.29,303.54 L90.74,303.22 L93.12,302.90 L95.39,302.56 L97.51,302.23 L99.43,301.90 L101.06,301.61 L102.44,301.36 L103.63,301.12 L104.73,300.87 L105.82,300.58 L106.98,300.23 L108.29,299.78 L109.85,299.22 L111.65,298.53 L113.62,297.76 L115.71,296.90 L117.89,295.97 L120.12,294.99 L122.36,293.95 L124.58,292.88 L126.73,291.78 L128.91,290.58 L131.20,289.23 L133.52,287.79 L135.83,286.33 L138.05,284.91 L140.13,283.58 L142.00,282.42 L143.61,281.48 L144.93,280.79 L146.01,280.28 L146.89,279.92 L147.62,279.66 L148.25,279.47 L148.84,279.31 L149.43,279.14 L150.07,278.91 L150.73,278.66 L151.34,278.45 L151.91,278.27 L152.46,278.09 L152.98,277.90 L153.50,277.70 L154.02,277.47 L154.54,277.19 L155.08,276.85 L155.66,276.43 L156.24,275.98 L156.80,275.51 L157.33,275.06 L157.81,274.65 L158.21,274.30 L158.51,274.05" fill="none" stroke="#1fb37a" stroke-width="1.3" stroke-linejoin="round"/>
<path d="M46.30,277.48 L46.86,277.60 L47.60,277.76 L48.48,277.95 L49.47,278.16 L50.52,278.39 L51.61,278.65 L52.69,278.92 L53.75,279.20 L54.80,279.49 L55.89,279.80 L57.01,280.13 L58.15,280.48 L59.30,280.85 L60.45,281.23 L61.58,281.64 L62.68,282.06 L63.75,282.49 L64.79,282.92 L65.82,283.37 L66.84,283.84 L67.87,284.34 L68.92,284.87 L70.00,285.44 L71.12,286.06 L72.24,286.72 L73.30,287.41 L74.37,288.13 L75.47,288.88 L76.65,289.68 L77.94,290.52 L79.40,291.41 L81.06,292.35 L82.99,293.40 L85.22,294.57 L87.63,295.83 L90.15,297.11 L92.67,298.37 L95.12,299.55 L97.40,300.61 L99.43,301.50 L101.20,302.21 L102.83,302.76 L104.33,303.21 L105.72,303.58 L107.05,303.90 L108.33,304.21 L109.58,304.55 L110.84,304.94 L112.05,305.36 L113.14,305.78 L114.16,306.20 L115.16,306.62 L116.18,307.04 L117.26,307.47 L118.44,307.91 L119.78,308.37 L121.34,308.85 L123.09,309.34 L124.98,309.85 L126.92,310.37 L128.83,310.89 L130.65,311.40 L132.29,311.89 L133.68,312.37 L134.81,312.80 L135.74,313.19 L136.52,313.55 L137.19,313.91 L137.79,314.29 L138.37,314.72 L138.98,315.21 L139.64,315.80 L140.38,316.44 L141.14,317.09 L141.90,317.77 L142.65,318.52 L143.37,319.36 L144.03,320.31 L144.61,321.40 L145.10,322.67 L145.48,324.15 L145.76,325.84 L145.95,327.68 L146.10,329.64 L146.21,331.65 L146.31,333.67 L146.43,335.65 L146.59,337.54 L146.78,339.39 L146.98,341.26 L147.17,343.15 L147.37,345.01 L147.56,346.84 L147.75,348.60 L147.92,350.28 L148.08,351.84 L148.24,353.34 L148.39,354.82 L148.53,356.25 L148.67,357.60 L148.80,358.83 L148.91,359.92 L149.00,360.85 L149.08,361.56" fill="none" stroke="#c77ff0" stroke-width="1.3" stroke-linejoin="round"/>
<path d="M46.30,317.52 L46.32,317.34 L46.34,317.08 L46.36,316.78 L46.39,316.45 L46.44,316.11 L46.52,315.78 L46.64,315.48 L46.80,315.23 L46.94,315.05 L47.02,314.91 L47.10,314.80 L47.23,314.71 L47.46,314.61 L47.84,314.48 L48.43,314.32 L49.28,314.09 L50.40,313.78 L51.75,313.42 L53.29,313.00 L54.99,312.57 L56.81,312.13 L58.73,311.70 L60.70,311.32 L62.68,311.00 L64.72,310.77 L66.83,310.64 L69.04,310.56 L71.31,310.49 L73.66,310.39 L76.07,310.22 L78.53,309.94 L81.06,309.51 L83.73,308.89 L86.62,308.09 L89.62,307.18 L92.66,306.20 L95.64,305.21 L98.49,304.25 L101.10,303.38 L103.40,302.65 L105.31,302.08 L106.89,301.64 L108.24,301.29 L109.45,300.97 L110.61,300.65 L111.83,300.28 L113.20,299.81 L114.82,299.22 L116.67,298.49 L118.65,297.69 L120.75,296.82 L122.92,295.89 L125.13,294.91 L127.35,293.89 L129.55,292.85 L131.70,291.78 L133.88,290.62 L136.16,289.34 L138.49,287.97 L140.79,286.60 L143.01,285.26 L145.09,284.02 L146.97,282.93 L148.58,282.06 L149.89,281.41 L150.95,280.95 L151.81,280.64 L152.52,280.43 L153.14,280.28 L153.73,280.15 L154.35,279.99 L155.03,279.77 L155.77,279.51 L156.48,279.27 L157.18,279.05 L157.86,278.82 L158.53,278.59 L159.19,278.34 L159.84,278.07 L160.50,277.77 L161.17,277.41 L161.89,276.99 L162.61,276.53 L163.32,276.07 L163.98,275.62 L164.58,275.21 L165.08,274.87 L165.46,274.62" fill="none" stroke="#c77ff0" stroke-width="1.3" stroke-linejoin="round"/>
<path d="M46.30,278.62 L46.86,278.76 L47.60,278.93 L48.48,279.14 L49.47,279.37 L50.52,279.62 L51.61,279.87 L52.69,280.11 L53.75,280.34 L54.80,280.53 L55.89,280.69 L57.01,280.83 L58.15,280.98 L59.30,281.16 L60.45,281.39 L61.58,281.68 L62.68,282.06 L63.75,282.52 L64.79,283.06 L65.82,283.66 L66.84,284.31 L67.87,285.00 L68.92,285.72 L70.00,286.45 L71.12,287.20 L72.24,287.98 L73.30,288.79 L74.37,289.63 L75.47,290.49 L76.65,291.38 L77.94,292.27 L79.40,293.17 L81.06,294.07 L82.99,294.99 L85.22,295.95 L87.63,296.94 L90.15,297.93 L92.67,298.90 L95.12,299.83 L97.40,300.71 L99.43,301.50 L101.20,302.22 L102.83,302.86 L104.33,303.45 L105.72,304.01 L107.05,304.53 L108.33,305.04 L109.58,305.55 L110.84,306.08 L112.07,306.61 L113.21,307.13 L114.29,307.65 L115.34,308.15 L116.39,308.65 L117.47,309.14 L118.59,309.61 L119.78,310.08 L121.09,310.54 L122.49,311.00 L123.95,311.44 L125.43,311.87 L126.89,312.30 L128.28,312.71 L129.56,313.12 L130.70,313.52 L131.70,313.87 L132.58,314.18 L133.37,314.45 L134.09,314.73 L134.76,315.04 L135.39,315.39 L136.02,315.83 L136.66,316.38 L137.31,316.99 L137.95,317.64 L138.58,318.33 L139.18,319.09 L139.74,319.95 L140.26,320.91 L140.73,322.00 L141.13,323.24 L141.46,324.67 L141.71,326.29 L141.91,328.06 L142.06,329.93 L142.19,331.85 L142.32,333.79 L142.46,335.70 L142.62,337.54 L142.81,339.36 L143.01,341.22 L143.20,343.10 L143.40,344.98 L143.59,346.81 L143.77,348.59 L143.95,350.27 L144.11,351.84 L144.27,353.34 L144.42,354.82 L144.56,356.25 L144.70,357.60 L144.83,358.83 L144.94,359.92 L145.03,360.85 L145.10,361.56" fill="none" stroke="#f5761a" stroke-width="1.3" stroke-linejoin="round"/>
<path d="M47.04,337.54 L47.05,336.15 L47.04,334.24 L47.04,331.96 L47.04,329.46 L47.04,326.90 L47.05,324.43 L47.07,322.20 L47.09,320.38 L47.12,318.90 L47.12,317.59 L47.13,316.43 L47.15,315.41 L47.19,314.51 L47.26,313.72 L47.37,313.01 L47.54,312.37 L47.71,311.86 L47.84,311.51 L47.97,311.29 L48.16,311.16 L48.44,311.06 L48.86,310.98 L49.45,310.85 L50.27,310.66 L51.32,310.40 L52.55,310.12 L53.96,309.83 L55.50,309.53 L57.17,309.23 L58.94,308.93 L60.78,308.64 L62.68,308.37 L64.70,308.12 L66.86,307.89 L69.14,307.68 L71.50,307.47 L73.90,307.25 L76.32,307.00 L78.72,306.71 L81.06,306.37 L83.39,305.96 L85.78,305.49 L88.18,304.97 L90.58,304.44 L92.94,303.89 L95.22,303.35 L97.39,302.84 L99.43,302.36 L101.27,301.96 L102.94,301.62 L104.49,301.31 L105.97,301.00 L107.44,300.67 L108.96,300.28 L110.57,299.81 L112.33,299.22 L114.25,298.51 L116.28,297.71 L118.37,296.84 L120.53,295.91 L122.71,294.92 L124.90,293.90 L127.08,292.85 L129.22,291.78 L131.40,290.63 L133.68,289.35 L136.00,288.00 L138.31,286.63 L140.53,285.30 L142.61,284.06 L144.49,282.96 L146.10,282.06 L147.41,281.36 L148.48,280.83 L149.35,280.43 L150.07,280.13 L150.70,279.88 L151.29,279.67 L151.89,279.45 L152.55,279.20 L153.24,278.94 L153.90,278.73 L154.52,278.54 L155.13,278.37 L155.72,278.20 L156.31,278.00 L156.91,277.77 L157.52,277.48 L158.17,277.11 L158.87,276.66 L159.60,276.17 L160.31,275.66 L160.98,275.16 L161.59,274.70 L162.10,274.32 L162.48,274.05" fill="none" stroke="#f5761a" stroke-width="1.3" stroke-linejoin="round"/>
<rect x="46.5" y="263.3" width="124.50" height="109.70" fill="none" stroke="#222" stroke-width="1.1"/>
<line x1="46.5" y1="268.90" x2="49.0" y2="268.90" stroke="#222" stroke-width="0.8"/>
<g transform="translate(43.9 271.5) scale(0.82 1)"><text x="0" y="0" font-family='"Liberation Serif", serif' font-size="7.8" font-weight="bold" text-anchor="end" fill="#222" >4.4</text></g>
<line x1="46.5" y1="291.78" x2="49.0" y2="291.78" stroke="#222" stroke-width="0.8"/>
<g transform="translate(43.9 294.38) scale(0.82 1)"><text x="0" y="0" font-family='"Liberation Serif", serif' font-size="7.8" font-weight="bold" text-anchor="end" fill="#222" >4.0</text></g>
<line x1="46.5" y1="314.66" x2="49.0" y2="314.66" stroke="#222" stroke-width="0.8"/>
<g transform="translate(43.9 317.26) scale(0.82 1)"><text x="0" y="0" font-family='"Liberation Serif", serif' font-size="7.8" font-weight="bold" text-anchor="end" fill="#222" >3.6</text></g>
<line x1="46.5" y1="337.54" x2="49.0" y2="337.54" stroke="#222" stroke-width="0.8"/>
<g transform="translate(43.9 340.14) scale(0.82 1)"><text x="0" y="0" font-family='"Liberation Serif", serif' font-size="7.8" font-weight="bold" text-anchor="end" fill="#222" >3.2</text></g>
<line x1="46.5" y1="360.42" x2="49.0" y2="360.42" stroke="#222" stroke-width="0.8"/>
<g transform="translate(43.9 363.02) scale(0.82 1)"><text x="0" y="0" font-family='"Liberation Serif", serif' font-size="7.8" font-weight="bold" text-anchor="end" fill="#222" >2.8</text></g>
<line x1="46.5" y1="280.34" x2="48.0" y2="280.34" stroke="#222" stroke-width="0.6"/>
<line x1="46.5" y1="303.22" x2="48.0" y2="303.22" stroke="#222" stroke-width="0.6"/>
<line x1="46.5" y1="326.10" x2="48.0" y2="326.10" stroke="#222" stroke-width="0.6"/>
<line x1="46.5" y1="348.98" x2="48.0" y2="348.98" stroke="#222" stroke-width="0.6"/>
<line x1="46.30" y1="373.0" x2="46.30" y2="370.5" stroke="#222" stroke-width="0.8"/>
<g transform="translate(46.3 381.2) scale(0.82 1)"><text x="0" y="0" font-family='"Liberation Serif", serif' font-size="7.8" font-weight="bold" text-anchor="middle" fill="#222" >0</text></g>
<line x1="71.12" y1="373.0" x2="71.12" y2="370.5" stroke="#222" stroke-width="0.8"/>
<g transform="translate(71.12 381.2) scale(0.82 1)"><text x="0" y="0" font-family='"Liberation Serif", serif' font-size="7.8" font-weight="bold" text-anchor="middle" fill="#222" >50</text></g>
<line x1="95.95" y1="373.0" x2="95.95" y2="370.5" stroke="#222" stroke-width="0.8"/>
<g transform="translate(95.95 381.2) scale(0.82 1)"><text x="0" y="0" font-family='"Liberation Serif", serif' font-size="7.8" font-weight="bold" text-anchor="middle" fill="#222" >100</text></g>
<line x1="120.77" y1="373.0" x2="120.77" y2="370.5" stroke="#222" stroke-width="0.8"/>
<g transform="translate(120.77 381.2) scale(0.82 1)"><text x="0" y="0" font-family='"Liberation Serif", serif' font-size="7.8" font-weight="bold" text-anchor="middle" fill="#222" >150</text></g>
<line x1="145.60" y1="373.0" x2="145.60" y2="370.5" stroke="#222" stroke-width="0.8"/>
<g transform="translate(145.6 381.2) scale(0.82 1)"><text x="0" y="0" font-family='"Liberation Serif", serif' font-size="7.8" font-weight="bold" text-anchor="middle" fill="#222" >200</text></g>
<line x1="170.43" y1="373.0" x2="170.43" y2="370.5" stroke="#222" stroke-width="0.8"/>
<g transform="translate(170.43 381.2) scale(0.82 1)"><text x="0" y="0" font-family='"Liberation Serif", serif' font-size="7.8" font-weight="bold" text-anchor="middle" fill="#222" >250</text></g>
<line x1="58.71" y1="373.0" x2="58.71" y2="371.5" stroke="#222" stroke-width="0.6"/>
<line x1="83.54" y1="373.0" x2="83.54" y2="371.5" stroke="#222" stroke-width="0.6"/>
<line x1="108.36" y1="373.0" x2="108.36" y2="371.5" stroke="#222" stroke-width="0.6"/>
<line x1="133.19" y1="373.0" x2="133.19" y2="371.5" stroke="#222" stroke-width="0.6"/>
<line x1="158.01" y1="373.0" x2="158.01" y2="371.5" stroke="#222" stroke-width="0.6"/>
<text x="30.2" y="313.5" font-family='"Liberation Serif", serif' font-size="9.5" font-weight="bold" text-anchor="middle" fill="#111" transform="rotate(-90 30.2 313.5)">Potential (V vs. Li/Li<tspan dy="-3.2" font-size="5.5">+</tspan><tspan dy="3.2">)</tspan></text>
<text x="109" y="395" font-family='"Liberation Serif", serif' font-size="9" font-weight="bold" text-anchor="middle" fill="#111" >Capacity(mAh/g)</text>
<text x="54.5" y="271" font-family='"Liberation Serif", serif' font-size="6" font-weight="bold" text-anchor="start" fill="#111" >2.8-4.3 V, 0.1 C, LiNi<tspan font-size="3.5" dy="1.5">0.9</tspan><tspan dy="-1.5">Co</tspan><tspan font-size="3.5" dy="1.5">0.05</tspan><tspan dy="-1.5">Al</tspan><tspan font-size="3.5" dy="1.5">0.05</tspan><tspan dy="-1.5">O</tspan><tspan font-size="3.5" dy="1.5">2</tspan></text>
<text x="53" y="336" font-family='"Liberation Serif", serif' font-size="5.6" font-weight="bold" text-anchor="start" fill="#111" >Coulombic Efficiency</text>
<line x1="53.6" y1="343.9" x2="66.2" y2="343.9" stroke="#1fb37a" stroke-width="1.3"/>
<text x="67.5" y="345.9" font-family='"Liberation Serif", serif' font-size="5.6" font-weight="bold" text-anchor="start" fill="#111" xml:space="preserve">1:  7</text>
<text x="84.4" y="345.9" font-family='"Liberation Serif", serif' font-size="5.6" font-weight="bold" text-anchor="start" fill="#111" >84.0%</text>
<line x1="53.6" y1="350.6" x2="66.2" y2="350.6" stroke="#c77ff0" stroke-width="1.3"/>
<text x="67.5" y="352.6" font-family='"Liberation Serif", serif' font-size="5.6" font-weight="bold" text-anchor="start" fill="#111" xml:space="preserve">1:  13</text>
<text x="84.4" y="352.6" font-family='"Liberation Serif", serif' font-size="5.6" font-weight="bold" text-anchor="start" fill="#111" >86.2%</text>
<line x1="53.6" y1="359.1" x2="66.2" y2="359.1" stroke="#f5761a" stroke-width="1.3"/>
<text x="67.5" y="361.1" font-family='"Liberation Serif", serif' font-size="5.6" font-weight="bold" text-anchor="start" fill="#111" xml:space="preserve">1:  20</text>
<text x="84.4" y="361.1" font-family='"Liberation Serif", serif' font-size="5.6" font-weight="bold" text-anchor="start" fill="#111" >84.9%</text>
<circle cx="219.24" cy="266.83" r="1.8" fill="#c77ff0"/>
<circle cx="220.47" cy="268.36" r="1.8" fill="#c77ff0"/>
<circle cx="219.24" cy="269.88" r="1.8" fill="#f5761a"/>
<circle cx="220.47" cy="271.41" r="1.8" fill="#f5761a"/>
<circle cx="219.24" cy="272.93" r="1.8" fill="#1fb37a"/>
<circle cx="220.47" cy="275.48" r="1.8" fill="#1fb37a"/>
<circle cx="222.95" cy="288.47" r="1.5" fill="#1fb37a"/>
<circle cx="223.56" cy="288.36" r="1.5" fill="#1fb37a"/>
<circle cx="224.18" cy="288.70" r="1.5" fill="#1fb37a"/>
<circle cx="224.80" cy="288.57" r="1.5" fill="#1fb37a"/>
<circle cx="225.42" cy="288.07" r="1.5" fill="#1fb37a"/>
<circle cx="226.04" cy="288.01" r="1.5" fill="#1fb37a"/>
<circle cx="226.66" cy="287.93" r="1.5" fill="#1fb37a"/>
<circle cx="227.27" cy="288.00" r="1.5" fill="#1fb37a"/>
<circle cx="227.89" cy="287.74" r="1.5" fill="#1fb37a"/>
<circle cx="228.51" cy="287.63" r="1.5" fill="#1fb37a"/>
<circle cx="229.13" cy="287.53" r="1.5" fill="#1fb37a"/>
<circle cx="229.75" cy="287.63" r="1.5" fill="#1fb37a"/>
<circle cx="230.37" cy="287.38" r="1.5" fill="#1fb37a"/>
<circle cx="230.98" cy="287.28" r="1.5" fill="#1fb37a"/>
<circle cx="231.60" cy="287.00" r="1.5" fill="#1fb37a"/>
<circle cx="232.22" cy="286.75" r="1.5" fill="#1fb37a"/>
<circle cx="232.84" cy="286.66" r="1.5" fill="#1fb37a"/>
<circle cx="233.46" cy="286.75" r="1.5" fill="#1fb37a"/>
<circle cx="234.07" cy="286.69" r="1.5" fill="#1fb37a"/>
<circle cx="234.69" cy="286.73" r="1.5" fill="#1fb37a"/>
<circle cx="235.31" cy="286.80" r="1.5" fill="#1fb37a"/>
<circle cx="235.93" cy="286.75" r="1.5" fill="#1fb37a"/>
<circle cx="236.55" cy="286.48" r="1.5" fill="#1fb37a"/>
<circle cx="237.17" cy="286.50" r="1.5" fill="#1fb37a"/>
<circle cx="237.78" cy="286.42" r="1.5" fill="#1fb37a"/>
<circle cx="238.40" cy="286.11" r="1.5" fill="#1fb37a"/>
<circle cx="239.02" cy="286.24" r="1.5" fill="#1fb37a"/>
<circle cx="239.64" cy="286.18" r="1.5" fill="#1fb37a"/>
<circle cx="240.26" cy="286.29" r="1.5" fill="#1fb37a"/>
<circle cx="240.88" cy="286.35" r="1.5" fill="#1fb37a"/>
<circle cx="241.49" cy="286.14" r="1.5" fill="#1fb37a"/>
<circle cx="242.11" cy="286.19" r="1.5" fill="#1fb37a"/>
<circle cx="242.73" cy="285.95" r="1.5" fill="#1fb37a"/>
<circle cx="243.35" cy="285.65" r="1.5" fill="#1fb37a"/>
<circle cx="243.97" cy="285.76" r="1.5" fill="#1fb37a"/>
<circle cx="244.58" cy="285.96" r="1.5" fill="#1fb37a"/>
<circle cx="245.20" cy="285.55" r="1.5" fill="#1fb37a"/>
<circle cx="245.82" cy="285.55" r="1.5" fill="#1fb37a"/>
<circle cx="246.44" cy="285.53" r="1.5" fill="#1fb37a"/>
<circle cx="247.06" cy="285.39" r="1.5" fill="#1fb37a"/>
<circle cx="247.68" cy="285.41" r="1.5" fill="#1fb37a"/>
<circle cx="248.29" cy="285.35" r="1.5" fill="#1fb37a"/>
<circle cx="248.91" cy="285.52" r="1.5" fill="#1fb37a"/>
<circle cx="249.53" cy="285.15" r="1.5" fill="#1fb37a"/>
<circle cx="250.15" cy="285.11" r="1.5" fill="#1fb37a"/>
<circle cx="250.77" cy="285.46" r="1.5" fill="#1fb37a"/>
<circle cx="251.39" cy="285.11" r="1.5" fill="#1fb37a"/>
<circle cx="252.00" cy="285.08" r="1.5" fill="#1fb37a"/>
<circle cx="252.62" cy="285.16" r="1.5" fill="#1fb37a"/>
<circle cx="253.24" cy="285.11" r="1.5" fill="#1fb37a"/>
<circle cx="253.86" cy="285.12" r="1.5" fill="#1fb37a"/>
<circle cx="254.48" cy="284.89" r="1.5" fill="#1fb37a"/>
<circle cx="255.09" cy="285.09" r="1.5" fill="#1fb37a"/>
<circle cx="255.71" cy="284.91" r="1.5" fill="#1fb37a"/>
<circle cx="256.33" cy="285.14" r="1.5" fill="#1fb37a"/>
<circle cx="256.95" cy="284.86" r="1.5" fill="#1fb37a"/>
<circle cx="257.57" cy="284.84" r="1.5" fill="#1fb37a"/>
<circle cx="258.19" cy="285.05" r="1.5" fill="#1fb37a"/>
<circle cx="258.80" cy="284.99" r="1.5" fill="#1fb37a"/>
<circle cx="259.42" cy="284.80" r="1.5" fill="#1fb37a"/>
<circle cx="260.04" cy="284.89" r="1.5" fill="#1fb37a"/>
<circle cx="260.66" cy="284.99" r="1.5" fill="#1fb37a"/>
<circle cx="261.28" cy="285.12" r="1.5" fill="#1fb37a"/>
<circle cx="261.90" cy="285.05" r="1.5" fill="#1fb37a"/>
<circle cx="262.51" cy="284.85" r="1.5" fill="#1fb37a"/>
<circle cx="263.13" cy="285.11" r="1.5" fill="#1fb37a"/>
<circle cx="263.75" cy="284.72" r="1.5" fill="#1fb37a"/>
<circle cx="264.37" cy="285.04" r="1.5" fill="#1fb37a"/>
<circle cx="264.99" cy="284.70" r="1.5" fill="#1fb37a"/>
<circle cx="265.61" cy="284.99" r="1.5" fill="#1fb37a"/>
<circle cx="266.22" cy="284.65" r="1.5" fill="#1fb37a"/>
<circle cx="266.84" cy="284.77" r="1.5" fill="#1fb37a"/>
<circle cx="267.46" cy="284.86" r="1.5" fill="#1fb37a"/>
<circle cx="268.08" cy="284.84" r="1.5" fill="#1fb37a"/>
<circle cx="268.70" cy="284.76" r="1.5" fill="#1fb37a"/>
<circle cx="269.31" cy="284.78" r="1.5" fill="#1fb37a"/>
<circle cx="269.93" cy="284.91" r="1.5" fill="#1fb37a"/>
<circle cx="270.55" cy="284.95" r="1.5" fill="#1fb37a"/>
<circle cx="271.17" cy="284.79" r="1.5" fill="#1fb37a"/>
<circle cx="271.79" cy="284.56" r="1.5" fill="#1fb37a"/>
<circle cx="272.41" cy="284.71" r="1.5" fill="#1fb37a"/>
<circle cx="273.02" cy="284.97" r="1.5" fill="#1fb37a"/>
<circle cx="273.64" cy="284.58" r="1.5" fill="#1fb37a"/>
<circle cx="274.26" cy="284.62" r="1.5" fill="#1fb37a"/>
<circle cx="274.88" cy="284.51" r="1.5" fill="#1fb37a"/>
<circle cx="275.50" cy="284.87" r="1.5" fill="#1fb37a"/>
<circle cx="276.12" cy="284.57" r="1.5" fill="#1fb37a"/>
<circle cx="276.73" cy="284.91" r="1.5" fill="#1fb37a"/>
<circle cx="277.35" cy="284.60" r="1.5" fill="#1fb37a"/>
<circle cx="277.97" cy="284.78" r="1.5" fill="#1fb37a"/>
<circle cx="278.59" cy="284.79" r="1.5" fill="#1fb37a"/>
<circle cx="279.21" cy="284.45" r="1.5" fill="#1fb37a"/>
<circle cx="279.82" cy="284.83" r="1.5" fill="#1fb37a"/>
<circle cx="280.44" cy="284.66" r="1.5" fill="#1fb37a"/>
<circle cx="281.06" cy="284.53" r="1.5" fill="#1fb37a"/>
<circle cx="281.68" cy="284.88" r="1.5" fill="#1fb37a"/>
<circle cx="282.30" cy="284.94" r="1.5" fill="#1fb37a"/>
<circle cx="282.92" cy="284.64" r="1.5" fill="#1fb37a"/>
<circle cx="283.53" cy="284.91" r="1.5" fill="#1fb37a"/>
<circle cx="284.15" cy="284.80" r="1.5" fill="#1fb37a"/>
<circle cx="284.77" cy="285.19" r="1.5" fill="#1fb37a"/>
<circle cx="285.39" cy="285.07" r="1.5" fill="#1fb37a"/>
<circle cx="286.01" cy="285.20" r="1.5" fill="#1fb37a"/>
<circle cx="286.63" cy="284.99" r="1.5" fill="#1fb37a"/>
<circle cx="287.24" cy="285.33" r="1.5" fill="#1fb37a"/>
<circle cx="287.86" cy="284.93" r="1.5" fill="#1fb37a"/>
<circle cx="288.48" cy="285.44" r="1.5" fill="#1fb37a"/>
<circle cx="289.10" cy="285.12" r="1.5" fill="#1fb37a"/>
<circle cx="289.72" cy="285.52" r="1.5" fill="#1fb37a"/>
<circle cx="290.34" cy="285.45" r="1.5" fill="#1fb37a"/>
<circle cx="290.95" cy="285.20" r="1.5" fill="#1fb37a"/>
<circle cx="291.57" cy="285.58" r="1.5" fill="#1fb37a"/>
<circle cx="292.19" cy="285.60" r="1.5" fill="#1fb37a"/>
<circle cx="292.81" cy="285.39" r="1.5" fill="#1fb37a"/>
<circle cx="293.43" cy="285.58" r="1.5" fill="#1fb37a"/>
<circle cx="294.04" cy="285.80" r="1.5" fill="#1fb37a"/>
<circle cx="294.66" cy="285.36" r="1.5" fill="#1fb37a"/>
<circle cx="295.28" cy="285.82" r="1.5" fill="#1fb37a"/>
<circle cx="295.90" cy="285.92" r="1.5" fill="#1fb37a"/>
<circle cx="296.52" cy="285.81" r="1.5" fill="#1fb37a"/>
<circle cx="297.14" cy="285.71" r="1.5" fill="#1fb37a"/>
<circle cx="297.75" cy="285.69" r="1.5" fill="#1fb37a"/>
<circle cx="298.37" cy="286.05" r="1.5" fill="#1fb37a"/>
<circle cx="298.99" cy="285.97" r="1.5" fill="#1fb37a"/>
<circle cx="299.61" cy="286.17" r="1.5" fill="#1fb37a"/>
<circle cx="300.23" cy="286.00" r="1.5" fill="#1fb37a"/>
<circle cx="300.85" cy="285.88" r="1.5" fill="#1fb37a"/>
<circle cx="301.46" cy="285.93" r="1.5" fill="#1fb37a"/>
<circle cx="302.08" cy="285.89" r="1.5" fill="#1fb37a"/>
<circle cx="302.70" cy="286.00" r="1.5" fill="#1fb37a"/>
<circle cx="303.32" cy="285.99" r="1.5" fill="#1fb37a"/>
<circle cx="303.94" cy="286.11" r="1.5" fill="#1fb37a"/>
<circle cx="304.56" cy="286.27" r="1.5" fill="#1fb37a"/>
<circle cx="305.17" cy="286.44" r="1.5" fill="#1fb37a"/>
<circle cx="305.79" cy="286.26" r="1.5" fill="#1fb37a"/>
<circle cx="306.41" cy="286.47" r="1.5" fill="#1fb37a"/>
<circle cx="307.03" cy="286.62" r="1.5" fill="#1fb37a"/>
<circle cx="307.65" cy="286.49" r="1.5" fill="#1fb37a"/>
<circle cx="308.26" cy="286.31" r="1.5" fill="#1fb37a"/>
<circle cx="308.88" cy="286.73" r="1.5" fill="#1fb37a"/>
<circle cx="309.50" cy="286.54" r="1.5" fill="#1fb37a"/>
<circle cx="310.12" cy="286.68" r="1.5" fill="#1fb37a"/>
<circle cx="310.74" cy="286.66" r="1.5" fill="#1fb37a"/>
<circle cx="311.36" cy="286.92" r="1.5" fill="#1fb37a"/>
<circle cx="311.97" cy="286.57" r="1.5" fill="#1fb37a"/>
<circle cx="312.59" cy="287.00" r="1.5" fill="#1fb37a"/>
<circle cx="313.21" cy="286.89" r="1.5" fill="#1fb37a"/>
<circle cx="313.83" cy="287.06" r="1.5" fill="#1fb37a"/>
<circle cx="314.45" cy="287.34" r="1.5" fill="#1fb37a"/>
<circle cx="315.07" cy="287.13" r="1.5" fill="#1fb37a"/>
<circle cx="315.68" cy="287.42" r="1.5" fill="#1fb37a"/>
<circle cx="316.30" cy="287.53" r="1.5" fill="#1fb37a"/>
<circle cx="316.92" cy="287.61" r="1.5" fill="#1fb37a"/>
<circle cx="317.54" cy="287.62" r="1.5" fill="#1fb37a"/>
<circle cx="318.16" cy="287.72" r="1.5" fill="#1fb37a"/>
<circle cx="318.77" cy="287.52" r="1.5" fill="#1fb37a"/>
<circle cx="319.39" cy="287.66" r="1.5" fill="#1fb37a"/>
<circle cx="320.01" cy="287.49" r="1.5" fill="#1fb37a"/>
<circle cx="320.63" cy="287.58" r="1.5" fill="#1fb37a"/>
<circle cx="321.25" cy="287.62" r="1.5" fill="#1fb37a"/>
<circle cx="321.87" cy="288.08" r="1.5" fill="#1fb37a"/>
<circle cx="322.48" cy="288.04" r="1.5" fill="#1fb37a"/>
<circle cx="323.10" cy="288.21" r="1.5" fill="#1fb37a"/>
<circle cx="323.72" cy="288.11" r="1.5" fill="#1fb37a"/>
<circle cx="324.34" cy="288.17" r="1.5" fill="#1fb37a"/>
<circle cx="324.96" cy="288.15" r="1.5" fill="#1fb37a"/>
<circle cx="325.58" cy="288.27" r="1.5" fill="#1fb37a"/>
<circle cx="326.19" cy="288.57" r="1.5" fill="#1fb37a"/>
<circle cx="326.81" cy="288.55" r="1.5" fill="#1fb37a"/>
<circle cx="327.43" cy="288.57" r="1.5" fill="#1fb37a"/>
<circle cx="328.05" cy="288.91" r="1.5" fill="#1fb37a"/>
<circle cx="328.67" cy="288.96" r="1.5" fill="#1fb37a"/>
<circle cx="329.28" cy="288.85" r="1.5" fill="#1fb37a"/>
<circle cx="329.90" cy="289.07" r="1.5" fill="#1fb37a"/>
<circle cx="330.52" cy="288.83" r="1.5" fill="#1fb37a"/>
<circle cx="331.14" cy="289.14" r="1.5" fill="#1fb37a"/>
<circle cx="331.76" cy="289.29" r="1.5" fill="#1fb37a"/>
<circle cx="332.38" cy="289.32" r="1.5" fill="#1fb37a"/>
<circle cx="332.99" cy="289.36" r="1.5" fill="#1fb37a"/>
<circle cx="333.61" cy="289.44" r="1.5" fill="#1fb37a"/>
<circle cx="334.23" cy="289.36" r="1.5" fill="#1fb37a"/>
<circle cx="334.85" cy="289.46" r="1.5" fill="#1fb37a"/>
<circle cx="335.47" cy="289.61" r="1.5" fill="#1fb37a"/>
<circle cx="336.09" cy="289.51" r="1.5" fill="#1fb37a"/>
<circle cx="336.70" cy="289.80" r="1.5" fill="#1fb37a"/>
<circle cx="337.32" cy="289.52" r="1.5" fill="#1fb37a"/>
<circle cx="337.94" cy="289.56" r="1.5" fill="#1fb37a"/>
<circle cx="338.56" cy="289.75" r="1.5" fill="#1fb37a"/>
<circle cx="339.18" cy="289.97" r="1.5" fill="#1fb37a"/>
<circle cx="339.80" cy="290.00" r="1.5" fill="#1fb37a"/>
<circle cx="340.41" cy="290.04" r="1.5" fill="#1fb37a"/>
<circle cx="341.03" cy="290.38" r="1.5" fill="#1fb37a"/>
<circle cx="341.65" cy="290.26" r="1.5" fill="#1fb37a"/>
<circle cx="222.95" cy="278.15" r="1.5" fill="#c77ff0"/>
<circle cx="223.56" cy="277.97" r="1.5" fill="#c77ff0"/>
<circle cx="224.18" cy="278.04" r="1.5" fill="#c77ff0"/>
<circle cx="224.80" cy="277.90" r="1.5" fill="#c77ff0"/>
<circle cx="225.42" cy="277.86" r="1.5" fill="#c77ff0"/>
<circle cx="226.04" cy="278.12" r="1.5" fill="#c77ff0"/>
<circle cx="226.66" cy="278.13" r="1.5" fill="#c77ff0"/>
<circle cx="227.27" cy="277.69" r="1.5" fill="#c77ff0"/>
<circle cx="227.89" cy="277.96" r="1.5" fill="#c77ff0"/>
<circle cx="228.51" cy="277.95" r="1.5" fill="#c77ff0"/>
<circle cx="229.13" cy="277.54" r="1.5" fill="#c77ff0"/>
<circle cx="229.75" cy="277.78" r="1.5" fill="#c77ff0"/>
<circle cx="230.37" cy="277.57" r="1.5" fill="#c77ff0"/>
<circle cx="230.98" cy="277.73" r="1.5" fill="#c77ff0"/>
<circle cx="231.60" cy="277.62" r="1.5" fill="#c77ff0"/>
<circle cx="232.22" cy="277.85" r="1.5" fill="#c77ff0"/>
<circle cx="232.84" cy="277.58" r="1.5" fill="#c77ff0"/>
<circle cx="233.46" cy="277.44" r="1.5" fill="#c77ff0"/>
<circle cx="234.07" cy="277.59" r="1.5" fill="#c77ff0"/>
<circle cx="234.69" cy="277.46" r="1.5" fill="#c77ff0"/>
<circle cx="235.31" cy="277.47" r="1.5" fill="#c77ff0"/>
<circle cx="235.93" cy="277.76" r="1.5" fill="#c77ff0"/>
<circle cx="236.55" cy="277.38" r="1.5" fill="#c77ff0"/>
<circle cx="237.17" cy="277.43" r="1.5" fill="#c77ff0"/>
<circle cx="237.78" cy="277.54" r="1.5" fill="#c77ff0"/>
<circle cx="238.40" cy="277.65" r="1.5" fill="#c77ff0"/>
<circle cx="239.02" cy="277.19" r="1.5" fill="#c77ff0"/>
<circle cx="239.64" cy="277.35" r="1.5" fill="#c77ff0"/>
<circle cx="240.26" cy="277.20" r="1.5" fill="#c77ff0"/>
<circle cx="240.88" cy="277.08" r="1.5" fill="#c77ff0"/>
<circle cx="241.49" cy="277.13" r="1.5" fill="#c77ff0"/>
<circle cx="242.11" cy="276.99" r="1.5" fill="#c77ff0"/>
<circle cx="242.73" cy="277.22" r="1.5" fill="#c77ff0"/>
<circle cx="243.35" cy="276.98" r="1.5" fill="#c77ff0"/>
<circle cx="243.97" cy="277.13" r="1.5" fill="#c77ff0"/>
<circle cx="244.58" cy="276.85" r="1.5" fill="#c77ff0"/>
<circle cx="245.20" cy="276.84" r="1.5" fill="#c77ff0"/>
<circle cx="245.82" cy="277.21" r="1.5" fill="#c77ff0"/>
<circle cx="246.44" cy="277.15" r="1.5" fill="#c77ff0"/>
<circle cx="247.06" cy="277.08" r="1.5" fill="#c77ff0"/>
<circle cx="247.68" cy="276.66" r="1.5" fill="#c77ff0"/>
<circle cx="248.29" cy="276.90" r="1.5" fill="#c77ff0"/>
<circle cx="248.91" cy="276.77" r="1.5" fill="#c77ff0"/>
<circle cx="249.53" cy="276.90" r="1.5" fill="#c77ff0"/>
<circle cx="250.15" cy="276.76" r="1.5" fill="#c77ff0"/>
<circle cx="250.77" cy="276.79" r="1.5" fill="#c77ff0"/>
<circle cx="251.39" cy="276.77" r="1.5" fill="#c77ff0"/>
<circle cx="252.00" cy="276.62" r="1.5" fill="#c77ff0"/>
<circle cx="252.62" cy="276.59" r="1.5" fill="#c77ff0"/>
<circle cx="253.24" cy="276.39" r="1.5" fill="#c77ff0"/>
<circle cx="253.86" cy="276.47" r="1.5" fill="#c77ff0"/>
<circle cx="254.48" cy="276.31" r="1.5" fill="#c77ff0"/>
<circle cx="255.09" cy="276.31" r="1.5" fill="#c77ff0"/>
<circle cx="255.71" cy="276.29" r="1.5" fill="#c77ff0"/>
<circle cx="256.33" cy="276.51" r="1.5" fill="#c77ff0"/>
<circle cx="256.95" cy="276.82" r="1.5" fill="#c77ff0"/>
<circle cx="257.57" cy="276.51" r="1.5" fill="#c77ff0"/>
<circle cx="258.19" cy="276.51" r="1.5" fill="#c77ff0"/>
<circle cx="258.80" cy="276.59" r="1.5" fill="#c77ff0"/>
<circle cx="259.42" cy="276.81" r="1.5" fill="#c77ff0"/>
<circle cx="260.04" cy="276.79" r="1.5" fill="#c77ff0"/>
<circle cx="260.66" cy="277.10" r="1.5" fill="#c77ff0"/>
<circle cx="261.28" cy="276.83" r="1.5" fill="#c77ff0"/>
<circle cx="261.90" cy="277.02" r="1.5" fill="#c77ff0"/>
<circle cx="262.51" cy="277.21" r="1.5" fill="#c77ff0"/>
<circle cx="263.13" cy="277.38" r="1.5" fill="#c77ff0"/>
<circle cx="263.75" cy="277.03" r="1.5" fill="#c77ff0"/>
<circle cx="264.37" cy="277.01" r="1.5" fill="#c77ff0"/>
<circle cx="264.99" cy="277.52" r="1.5" fill="#c77ff0"/>
<circle cx="265.61" cy="277.21" r="1.5" fill="#c77ff0"/>
<circle cx="266.22" cy="277.45" r="1.5" fill="#c77ff0"/>
<circle cx="266.84" cy="277.64" r="1.5" fill="#c77ff0"/>
<circle cx="267.46" cy="277.62" r="1.5" fill="#c77ff0"/>
<circle cx="268.08" cy="277.42" r="1.5" fill="#c77ff0"/>
<circle cx="268.70" cy="277.42" r="1.5" fill="#c77ff0"/>
<circle cx="269.31" cy="277.89" r="1.5" fill="#c77ff0"/>
<circle cx="269.93" cy="277.66" r="1.5" fill="#c77ff0"/>
<circle cx="270.55" cy="278.00" r="1.5" fill="#c77ff0"/>
<circle cx="271.17" cy="277.70" r="1.5" fill="#c77ff0"/>
<circle cx="271.79" cy="277.95" r="1.5" fill="#c77ff0"/>
<circle cx="272.41" cy="277.72" r="1.5" fill="#c77ff0"/>
<circle cx="273.02" cy="277.72" r="1.5" fill="#c77ff0"/>
<circle cx="273.64" cy="278.02" r="1.5" fill="#c77ff0"/>
<circle cx="274.26" cy="277.82" r="1.5" fill="#c77ff0"/>
<circle cx="274.88" cy="278.22" r="1.5" fill="#c77ff0"/>
<circle cx="275.50" cy="278.39" r="1.5" fill="#c77ff0"/>
<circle cx="276.12" cy="278.17" r="1.5" fill="#c77ff0"/>
<circle cx="276.73" cy="278.51" r="1.5" fill="#c77ff0"/>
<circle cx="277.35" cy="278.48" r="1.5" fill="#c77ff0"/>
<circle cx="277.97" cy="278.42" r="1.5" fill="#c77ff0"/>
<circle cx="278.59" cy="278.37" r="1.5" fill="#c77ff0"/>
<circle cx="279.21" cy="278.65" r="1.5" fill="#c77ff0"/>
<circle cx="279.82" cy="278.76" r="1.5" fill="#c77ff0"/>
<circle cx="280.44" cy="278.44" r="1.5" fill="#c77ff0"/>
<circle cx="281.06" cy="278.83" r="1.5" fill="#c77ff0"/>
<circle cx="281.68" cy="278.60" r="1.5" fill="#c77ff0"/>
<circle cx="282.30" cy="278.73" r="1.5" fill="#c77ff0"/>
<circle cx="282.92" cy="279.10" r="1.5" fill="#c77ff0"/>
<circle cx="283.53" cy="279.16" r="1.5" fill="#c77ff0"/>
<circle cx="284.15" cy="279.23" r="1.5" fill="#c77ff0"/>
<circle cx="284.77" cy="279.27" r="1.5" fill="#c77ff0"/>
<circle cx="285.39" cy="279.39" r="1.5" fill="#c77ff0"/>
<circle cx="286.01" cy="279.51" r="1.5" fill="#c77ff0"/>
<circle cx="286.63" cy="279.59" r="1.5" fill="#c77ff0"/>
<circle cx="287.24" cy="279.52" r="1.5" fill="#c77ff0"/>
<circle cx="287.86" cy="279.85" r="1.5" fill="#c77ff0"/>
<circle cx="288.48" cy="279.99" r="1.5" fill="#c77ff0"/>
<circle cx="289.10" cy="279.94" r="1.5" fill="#c77ff0"/>
<circle cx="289.72" cy="280.29" r="1.5" fill="#c77ff0"/>
<circle cx="290.34" cy="280.36" r="1.5" fill="#c77ff0"/>
<circle cx="290.95" cy="280.12" r="1.5" fill="#c77ff0"/>
<circle cx="291.57" cy="280.45" r="1.5" fill="#c77ff0"/>
<circle cx="292.19" cy="280.54" r="1.5" fill="#c77ff0"/>
<circle cx="292.81" cy="280.91" r="1.5" fill="#c77ff0"/>
<circle cx="293.43" cy="280.81" r="1.5" fill="#c77ff0"/>
<circle cx="294.04" cy="280.83" r="1.5" fill="#c77ff0"/>
<circle cx="294.66" cy="281.21" r="1.5" fill="#c77ff0"/>
<circle cx="295.28" cy="281.01" r="1.5" fill="#c77ff0"/>
<circle cx="295.90" cy="281.10" r="1.5" fill="#c77ff0"/>
<circle cx="296.52" cy="281.50" r="1.5" fill="#c77ff0"/>
<circle cx="297.14" cy="281.31" r="1.5" fill="#c77ff0"/>
<circle cx="297.75" cy="281.49" r="1.5" fill="#c77ff0"/>
<circle cx="298.37" cy="281.49" r="1.5" fill="#c77ff0"/>
<circle cx="298.99" cy="281.76" r="1.5" fill="#c77ff0"/>
<circle cx="299.61" cy="281.68" r="1.5" fill="#c77ff0"/>
<circle cx="300.23" cy="281.76" r="1.5" fill="#c77ff0"/>
<circle cx="300.85" cy="282.23" r="1.5" fill="#c77ff0"/>
<circle cx="301.46" cy="282.31" r="1.5" fill="#c77ff0"/>
<circle cx="302.08" cy="282.10" r="1.5" fill="#c77ff0"/>
<circle cx="302.70" cy="282.05" r="1.5" fill="#c77ff0"/>
<circle cx="303.32" cy="282.52" r="1.5" fill="#c77ff0"/>
<circle cx="303.94" cy="282.52" r="1.5" fill="#c77ff0"/>
<circle cx="304.56" cy="282.55" r="1.5" fill="#c77ff0"/>
<circle cx="305.17" cy="282.79" r="1.5" fill="#c77ff0"/>
<circle cx="305.79" cy="282.87" r="1.5" fill="#c77ff0"/>
<circle cx="306.41" cy="283.00" r="1.5" fill="#c77ff0"/>
<circle cx="307.03" cy="283.07" r="1.5" fill="#c77ff0"/>
<circle cx="307.65" cy="283.06" r="1.5" fill="#c77ff0"/>
<circle cx="308.26" cy="283.31" r="1.5" fill="#c77ff0"/>
<circle cx="308.88" cy="283.37" r="1.5" fill="#c77ff0"/>
<circle cx="309.50" cy="283.27" r="1.5" fill="#c77ff0"/>
<circle cx="310.12" cy="283.75" r="1.5" fill="#c77ff0"/>
<circle cx="310.74" cy="283.58" r="1.5" fill="#c77ff0"/>
<circle cx="311.36" cy="283.60" r="1.5" fill="#c77ff0"/>
<circle cx="311.97" cy="283.93" r="1.5" fill="#c77ff0"/>
<circle cx="312.59" cy="284.09" r="1.5" fill="#c77ff0"/>
<circle cx="313.21" cy="283.91" r="1.5" fill="#c77ff0"/>
<circle cx="313.83" cy="284.30" r="1.5" fill="#c77ff0"/>
<circle cx="314.45" cy="284.44" r="1.5" fill="#c77ff0"/>
<circle cx="315.07" cy="284.43" r="1.5" fill="#c77ff0"/>
<circle cx="315.68" cy="284.41" r="1.5" fill="#c77ff0"/>
<circle cx="316.30" cy="284.82" r="1.5" fill="#c77ff0"/>
<circle cx="316.92" cy="284.82" r="1.5" fill="#c77ff0"/>
<circle cx="317.54" cy="284.93" r="1.5" fill="#c77ff0"/>
<circle cx="318.16" cy="284.79" r="1.5" fill="#c77ff0"/>
<circle cx="318.77" cy="285.10" r="1.5" fill="#c77ff0"/>
<circle cx="319.39" cy="285.00" r="1.5" fill="#c77ff0"/>
<circle cx="320.01" cy="285.46" r="1.5" fill="#c77ff0"/>
<circle cx="320.63" cy="285.49" r="1.5" fill="#c77ff0"/>
<circle cx="321.25" cy="285.44" r="1.5" fill="#c77ff0"/>
<circle cx="321.87" cy="285.43" r="1.5" fill="#c77ff0"/>
<circle cx="322.48" cy="285.76" r="1.5" fill="#c77ff0"/>
<circle cx="323.10" cy="285.99" r="1.5" fill="#c77ff0"/>
<circle cx="323.72" cy="286.15" r="1.5" fill="#c77ff0"/>
<circle cx="324.34" cy="286.06" r="1.5" fill="#c77ff0"/>
<circle cx="324.96" cy="286.34" r="1.5" fill="#c77ff0"/>
<circle cx="325.58" cy="286.14" r="1.5" fill="#c77ff0"/>
<circle cx="326.19" cy="286.24" r="1.5" fill="#c77ff0"/>
<circle cx="326.81" cy="286.68" r="1.5" fill="#c77ff0"/>
<circle cx="327.43" cy="286.75" r="1.5" fill="#c77ff0"/>
<circle cx="328.05" cy="286.59" r="1.5" fill="#c77ff0"/>
<circle cx="328.67" cy="286.78" r="1.5" fill="#c77ff0"/>
<circle cx="329.28" cy="286.81" r="1.5" fill="#c77ff0"/>
<circle cx="329.90" cy="287.16" r="1.5" fill="#c77ff0"/>
<circle cx="330.52" cy="287.38" r="1.5" fill="#c77ff0"/>
<circle cx="331.14" cy="287.41" r="1.5" fill="#c77ff0"/>
<circle cx="331.76" cy="287.27" r="1.5" fill="#c77ff0"/>
<circle cx="332.38" cy="287.64" r="1.5" fill="#c77ff0"/>
<circle cx="332.99" cy="287.72" r="1.5" fill="#c77ff0"/>
<circle cx="333.61" cy="287.79" r="1.5" fill="#c77ff0"/>
<circle cx="334.23" cy="287.90" r="1.5" fill="#c77ff0"/>
<circle cx="334.85" cy="288.02" r="1.5" fill="#c77ff0"/>
<circle cx="335.47" cy="287.87" r="1.5" fill="#c77ff0"/>
<circle cx="336.09" cy="288.37" r="1.5" fill="#c77ff0"/>
<circle cx="336.70" cy="288.56" r="1.5" fill="#c77ff0"/>
<circle cx="337.32" cy="288.20" r="1.5" fill="#c77ff0"/>
<circle cx="337.94" cy="288.34" r="1.5" fill="#c77ff0"/>
<circle cx="338.56" cy="288.40" r="1.5" fill="#c77ff0"/>
<circle cx="339.18" cy="288.79" r="1.5" fill="#c77ff0"/>
<circle cx="339.80" cy="288.64" r="1.5" fill="#c77ff0"/>
<circle cx="340.41" cy="288.76" r="1.5" fill="#c77ff0"/>
<circle cx="341.03" cy="289.24" r="1.5" fill="#c77ff0"/>
<circle cx="341.65" cy="289.08" r="1.5" fill="#c77ff0"/>
<circle cx="222.95" cy="284.26" r="1.5" fill="#f5761a"/>
<circle cx="223.56" cy="284.27" r="1.5" fill="#f5761a"/>
<circle cx="224.18" cy="284.06" r="1.5" fill="#f5761a"/>
<circle cx="224.80" cy="284.13" r="1.5" fill="#f5761a"/>
<circle cx="225.42" cy="284.12" r="1.5" fill="#f5761a"/>
<circle cx="226.04" cy="283.89" r="1.5" fill="#f5761a"/>
<circle cx="226.66" cy="283.57" r="1.5" fill="#f5761a"/>
<circle cx="227.27" cy="283.57" r="1.5" fill="#f5761a"/>
<circle cx="227.89" cy="283.53" r="1.5" fill="#f5761a"/>
<circle cx="228.51" cy="283.75" r="1.5" fill="#f5761a"/>
<circle cx="229.13" cy="283.54" r="1.5" fill="#f5761a"/>
<circle cx="229.75" cy="283.61" r="1.5" fill="#f5761a"/>
<circle cx="230.37" cy="283.61" r="1.5" fill="#f5761a"/>
<circle cx="230.98" cy="283.59" r="1.5" fill="#f5761a"/>
<circle cx="231.60" cy="283.48" r="1.5" fill="#f5761a"/>
<circle cx="232.22" cy="283.06" r="1.5" fill="#f5761a"/>
<circle cx="232.84" cy="283.05" r="1.5" fill="#f5761a"/>
<circle cx="233.46" cy="283.00" r="1.5" fill="#f5761a"/>
<circle cx="234.07" cy="282.95" r="1.5" fill="#f5761a"/>
<circle cx="234.69" cy="283.33" r="1.5" fill="#f5761a"/>
<circle cx="235.31" cy="283.34" r="1.5" fill="#f5761a"/>
<circle cx="235.93" cy="283.24" r="1.5" fill="#f5761a"/>
<circle cx="236.55" cy="283.26" r="1.5" fill="#f5761a"/>
<circle cx="237.17" cy="283.26" r="1.5" fill="#f5761a"/>
<circle cx="237.78" cy="283.32" r="1.5" fill="#f5761a"/>
<circle cx="238.40" cy="283.79" r="1.5" fill="#f5761a"/>
<circle cx="239.02" cy="283.59" r="1.5" fill="#f5761a"/>
<circle cx="239.64" cy="283.63" r="1.5" fill="#f5761a"/>
<circle cx="240.26" cy="283.78" r="1.5" fill="#f5761a"/>
<circle cx="240.88" cy="284.01" r="1.5" fill="#f5761a"/>
<circle cx="241.49" cy="283.93" r="1.5" fill="#f5761a"/>
<circle cx="242.11" cy="284.19" r="1.5" fill="#f5761a"/>
<circle cx="242.73" cy="283.83" r="1.5" fill="#f5761a"/>
<circle cx="243.35" cy="283.94" r="1.5" fill="#f5761a"/>
<circle cx="243.97" cy="284.16" r="1.5" fill="#f5761a"/>
<circle cx="244.58" cy="284.36" r="1.5" fill="#f5761a"/>
<circle cx="245.20" cy="284.12" r="1.5" fill="#f5761a"/>
<circle cx="245.82" cy="284.36" r="1.5" fill="#f5761a"/>
<circle cx="246.44" cy="284.27" r="1.5" fill="#f5761a"/>
<circle cx="247.06" cy="284.35" r="1.5" fill="#f5761a"/>
<circle cx="247.68" cy="284.59" r="1.5" fill="#f5761a"/>
<circle cx="248.29" cy="284.71" r="1.5" fill="#f5761a"/>
<circle cx="248.91" cy="284.68" r="1.5" fill="#f5761a"/>
<circle cx="249.53" cy="284.83" r="1.5" fill="#f5761a"/>
<circle cx="250.15" cy="285.04" r="1.5" fill="#f5761a"/>
<circle cx="250.77" cy="285.03" r="1.5" fill="#f5761a"/>
<circle cx="251.39" cy="284.84" r="1.5" fill="#f5761a"/>
<circle cx="252.00" cy="285.30" r="1.5" fill="#f5761a"/>
<circle cx="252.62" cy="285.37" r="1.5" fill="#f5761a"/>
<circle cx="253.24" cy="285.15" r="1.5" fill="#f5761a"/>
<circle cx="253.86" cy="285.41" r="1.5" fill="#f5761a"/>
<circle cx="254.48" cy="285.36" r="1.5" fill="#f5761a"/>
<circle cx="255.09" cy="285.48" r="1.5" fill="#f5761a"/>
<circle cx="255.71" cy="285.62" r="1.5" fill="#f5761a"/>
<circle cx="256.33" cy="285.37" r="1.5" fill="#f5761a"/>
<circle cx="256.95" cy="285.86" r="1.5" fill="#f5761a"/>
<circle cx="257.57" cy="285.83" r="1.5" fill="#f5761a"/>
<circle cx="258.19" cy="286.02" r="1.5" fill="#f5761a"/>
<circle cx="258.80" cy="285.88" r="1.5" fill="#f5761a"/>
<circle cx="259.42" cy="286.14" r="1.5" fill="#f5761a"/>
<circle cx="260.04" cy="286.18" r="1.5" fill="#f5761a"/>
<circle cx="260.66" cy="286.06" r="1.5" fill="#f5761a"/>
<circle cx="261.28" cy="286.36" r="1.5" fill="#f5761a"/>
<circle cx="261.90" cy="286.32" r="1.5" fill="#f5761a"/>
<circle cx="262.51" cy="286.23" r="1.5" fill="#f5761a"/>
<circle cx="263.13" cy="286.72" r="1.5" fill="#f5761a"/>
<circle cx="263.75" cy="286.82" r="1.5" fill="#f5761a"/>
<circle cx="264.37" cy="286.81" r="1.5" fill="#f5761a"/>
<circle cx="264.99" cy="286.62" r="1.5" fill="#f5761a"/>
<circle cx="265.61" cy="286.78" r="1.5" fill="#f5761a"/>
<circle cx="266.22" cy="287.05" r="1.5" fill="#f5761a"/>
<circle cx="266.84" cy="287.08" r="1.5" fill="#f5761a"/>
<circle cx="267.46" cy="287.24" r="1.5" fill="#f5761a"/>
<circle cx="268.08" cy="287.18" r="1.5" fill="#f5761a"/>
<circle cx="268.70" cy="287.47" r="1.5" fill="#f5761a"/>
<circle cx="269.31" cy="287.22" r="1.5" fill="#f5761a"/>
<circle cx="269.93" cy="287.20" r="1.5" fill="#f5761a"/>
<circle cx="270.55" cy="287.25" r="1.5" fill="#f5761a"/>
<circle cx="271.17" cy="287.45" r="1.5" fill="#f5761a"/>
<circle cx="271.79" cy="287.41" r="1.5" fill="#f5761a"/>
<circle cx="272.41" cy="287.97" r="1.5" fill="#f5761a"/>
<circle cx="273.02" cy="287.91" r="1.5" fill="#f5761a"/>
<circle cx="273.64" cy="287.65" r="1.5" fill="#f5761a"/>
<circle cx="274.26" cy="287.83" r="1.5" fill="#f5761a"/>
<circle cx="274.88" cy="288.10" r="1.5" fill="#f5761a"/>
<circle cx="275.50" cy="287.91" r="1.5" fill="#f5761a"/>
<circle cx="276.12" cy="288.15" r="1.5" fill="#f5761a"/>
<circle cx="276.73" cy="288.13" r="1.5" fill="#f5761a"/>
<circle cx="277.35" cy="288.48" r="1.5" fill="#f5761a"/>
<circle cx="277.97" cy="288.61" r="1.5" fill="#f5761a"/>
<circle cx="278.59" cy="288.56" r="1.5" fill="#f5761a"/>
<circle cx="279.21" cy="288.80" r="1.5" fill="#f5761a"/>
<circle cx="279.82" cy="288.76" r="1.5" fill="#f5761a"/>
<circle cx="280.44" cy="288.56" r="1.5" fill="#f5761a"/>
<circle cx="281.06" cy="288.99" r="1.5" fill="#f5761a"/>
<circle cx="281.68" cy="289.25" r="1.5" fill="#f5761a"/>
<circle cx="282.30" cy="289.34" r="1.5" fill="#f5761a"/>
<circle cx="282.92" cy="289.37" r="1.5" fill="#f5761a"/>
<circle cx="283.53" cy="289.16" r="1.5" fill="#f5761a"/>
<circle cx="284.15" cy="289.48" r="1.5" fill="#f5761a"/>
<circle cx="284.77" cy="289.62" r="1.5" fill="#f5761a"/>
<circle cx="285.39" cy="289.82" r="1.5" fill="#f5761a"/>
<circle cx="286.01" cy="289.47" r="1.5" fill="#f5761a"/>
<circle cx="286.63" cy="289.85" r="1.5" fill="#f5761a"/>
<circle cx="287.24" cy="290.07" r="1.5" fill="#f5761a"/>
<circle cx="287.86" cy="290.24" r="1.5" fill="#f5761a"/>
<circle cx="288.48" cy="290.35" r="1.5" fill="#f5761a"/>
<circle cx="289.10" cy="290.39" r="1.5" fill="#f5761a"/>
<circle cx="289.72" cy="290.23" r="1.5" fill="#f5761a"/>
<circle cx="290.34" cy="290.60" r="1.5" fill="#f5761a"/>
<circle cx="290.95" cy="290.76" r="1.5" fill="#f5761a"/>
<circle cx="291.57" cy="290.63" r="1.5" fill="#f5761a"/>
<circle cx="292.19" cy="290.86" r="1.5" fill="#f5761a"/>
<circle cx="292.81" cy="290.58" r="1.5" fill="#f5761a"/>
<circle cx="293.43" cy="291.13" r="1.5" fill="#f5761a"/>
<circle cx="294.04" cy="291.02" r="1.5" fill="#f5761a"/>
<circle cx="294.66" cy="291.00" r="1.5" fill="#f5761a"/>
<circle cx="295.28" cy="291.29" r="1.5" fill="#f5761a"/>
<circle cx="295.90" cy="291.09" r="1.5" fill="#f5761a"/>
<circle cx="296.52" cy="291.45" r="1.5" fill="#f5761a"/>
<circle cx="297.14" cy="291.68" r="1.5" fill="#f5761a"/>
<circle cx="297.75" cy="291.69" r="1.5" fill="#f5761a"/>
<circle cx="298.37" cy="291.98" r="1.5" fill="#f5761a"/>
<circle cx="298.99" cy="291.89" r="1.5" fill="#f5761a"/>
<circle cx="299.61" cy="292.08" r="1.5" fill="#f5761a"/>
<circle cx="300.23" cy="291.86" r="1.5" fill="#f5761a"/>
<circle cx="300.85" cy="291.99" r="1.5" fill="#f5761a"/>
<circle cx="301.46" cy="292.26" r="1.5" fill="#f5761a"/>
<circle cx="302.08" cy="292.60" r="1.5" fill="#f5761a"/>
<circle cx="302.70" cy="292.59" r="1.5" fill="#f5761a"/>
<circle cx="303.32" cy="292.69" r="1.5" fill="#f5761a"/>
<circle cx="303.94" cy="292.81" r="1.5" fill="#f5761a"/>
<circle cx="304.56" cy="292.90" r="1.5" fill="#f5761a"/>
<circle cx="305.17" cy="292.68" r="1.5" fill="#f5761a"/>
<circle cx="305.79" cy="293.15" r="1.5" fill="#f5761a"/>
<circle cx="306.41" cy="293.30" r="1.5" fill="#f5761a"/>
<circle cx="307.03" cy="292.95" r="1.5" fill="#f5761a"/>
<circle cx="307.65" cy="293.24" r="1.5" fill="#f5761a"/>
<circle cx="308.26" cy="293.13" r="1.5" fill="#f5761a"/>
<circle cx="308.88" cy="293.53" r="1.5" fill="#f5761a"/>
<circle cx="309.50" cy="293.38" r="1.5" fill="#f5761a"/>
<circle cx="310.12" cy="293.60" r="1.5" fill="#f5761a"/>
<circle cx="310.74" cy="293.63" r="1.5" fill="#f5761a"/>
<circle cx="311.36" cy="293.78" r="1.5" fill="#f5761a"/>
<circle cx="311.97" cy="294.03" r="1.5" fill="#f5761a"/>
<circle cx="312.59" cy="294.36" r="1.5" fill="#f5761a"/>
<circle cx="313.21" cy="294.42" r="1.5" fill="#f5761a"/>
<circle cx="313.83" cy="294.20" r="1.5" fill="#f5761a"/>
<circle cx="314.45" cy="294.31" r="1.5" fill="#f5761a"/>
<circle cx="315.07" cy="294.42" r="1.5" fill="#f5761a"/>
<circle cx="315.68" cy="294.84" r="1.5" fill="#f5761a"/>
<circle cx="316.30" cy="294.80" r="1.5" fill="#f5761a"/>
<circle cx="316.92" cy="294.85" r="1.5" fill="#f5761a"/>
<circle cx="317.54" cy="295.05" r="1.5" fill="#f5761a"/>
<circle cx="318.16" cy="295.09" r="1.5" fill="#f5761a"/>
<circle cx="318.77" cy="295.35" r="1.5" fill="#f5761a"/>
<circle cx="319.39" cy="295.41" r="1.5" fill="#f5761a"/>
<circle cx="320.01" cy="295.52" r="1.5" fill="#f5761a"/>
<circle cx="320.63" cy="295.85" r="1.5" fill="#f5761a"/>
<circle cx="321.25" cy="295.64" r="1.5" fill="#f5761a"/>
<circle cx="321.87" cy="295.75" r="1.5" fill="#f5761a"/>
<circle cx="322.48" cy="296.32" r="1.5" fill="#f5761a"/>
<circle cx="323.10" cy="295.98" r="1.5" fill="#f5761a"/>
<circle cx="323.72" cy="296.11" r="1.5" fill="#f5761a"/>
<circle cx="324.34" cy="296.38" r="1.5" fill="#f5761a"/>
<circle cx="324.96" cy="296.82" r="1.5" fill="#f5761a"/>
<circle cx="325.58" cy="296.51" r="1.5" fill="#f5761a"/>
<circle cx="326.19" cy="297.02" r="1.5" fill="#f5761a"/>
<circle cx="326.81" cy="296.72" r="1.5" fill="#f5761a"/>
<circle cx="327.43" cy="296.99" r="1.5" fill="#f5761a"/>
<circle cx="328.05" cy="297.42" r="1.5" fill="#f5761a"/>
<circle cx="328.67" cy="297.49" r="1.5" fill="#f5761a"/>
<circle cx="329.28" cy="297.37" r="1.5" fill="#f5761a"/>
<circle cx="329.90" cy="297.53" r="1.5" fill="#f5761a"/>
<circle cx="330.52" cy="297.56" r="1.5" fill="#f5761a"/>
<circle cx="331.14" cy="297.59" r="1.5" fill="#f5761a"/>
<circle cx="331.76" cy="298.07" r="1.5" fill="#f5761a"/>
<circle cx="332.38" cy="298.31" r="1.5" fill="#f5761a"/>
<circle cx="332.99" cy="297.96" r="1.5" fill="#f5761a"/>
<circle cx="333.61" cy="298.55" r="1.5" fill="#f5761a"/>
<circle cx="334.23" cy="298.23" r="1.5" fill="#f5761a"/>
<circle cx="334.85" cy="298.74" r="1.5" fill="#f5761a"/>
<circle cx="335.47" cy="298.51" r="1.5" fill="#f5761a"/>
<circle cx="336.09" cy="298.64" r="1.5" fill="#f5761a"/>
<circle cx="336.70" cy="298.72" r="1.5" fill="#f5761a"/>
<circle cx="337.32" cy="299.00" r="1.5" fill="#f5761a"/>
<circle cx="337.94" cy="298.96" r="1.5" fill="#f5761a"/>
<circle cx="338.56" cy="299.43" r="1.5" fill="#f5761a"/>
<circle cx="339.18" cy="299.31" r="1.5" fill="#f5761a"/>
<circle cx="339.80" cy="299.60" r="1.5" fill="#f5761a"/>
<circle cx="340.41" cy="299.44" r="1.5" fill="#f5761a"/>
<circle cx="341.03" cy="299.62" r="1.5" fill="#f5761a"/>
<circle cx="341.65" cy="299.90" r="1.5" fill="#f5761a"/>
<rect x="218.0" y="263.3" width="124.60" height="109.70" fill="none" stroke="#222" stroke-width="1.1"/>
<line x1="218.0" y1="372.60" x2="220.5" y2="372.60" stroke="#222" stroke-width="0.8"/>
<g transform="translate(215.7 375.2) scale(0.82 1)"><text x="0" y="0" font-family='"Liberation Serif", serif' font-size="7.8" font-weight="bold" text-anchor="end" fill="#222" >0</text></g>
<line x1="218.0" y1="347.18" x2="220.5" y2="347.18" stroke="#222" stroke-width="0.8"/>
<g transform="translate(215.7 349.78) scale(0.82 1)"><text x="0" y="0" font-family='"Liberation Serif", serif' font-size="7.8" font-weight="bold" text-anchor="end" fill="#222" >50</text></g>
<line x1="218.0" y1="321.75" x2="220.5" y2="321.75" stroke="#222" stroke-width="0.8"/>
<g transform="translate(215.7 324.35) scale(0.82 1)"><text x="0" y="0" font-family='"Liberation Serif", serif' font-size="7.8" font-weight="bold" text-anchor="end" fill="#222" >100</text></g>
<line x1="218.0" y1="296.33" x2="220.5" y2="296.33" stroke="#222" stroke-width="0.8"/>
<g transform="translate(215.7 298.93) scale(0.82 1)"><text x="0" y="0" font-family='"Liberation Serif", serif' font-size="7.8" font-weight="bold" text-anchor="end" fill="#222" >150</text></g>
<line x1="218.0" y1="270.90" x2="220.5" y2="270.90" stroke="#222" stroke-width="0.8"/>
<g transform="translate(215.7 273.5) scale(0.82 1)"><text x="0" y="0" font-family='"Liberation Serif", serif' font-size="7.8" font-weight="bold" text-anchor="end" fill="#222" >200</text></g>
<line x1="218.00" y1="373.0" x2="218.00" y2="370.5" stroke="#222" stroke-width="0.8"/>
<g transform="translate(218 381.2) scale(0.82 1)"><text x="0" y="0" font-family='"Liberation Serif", serif' font-size="7.8" font-weight="bold" text-anchor="middle" fill="#222" >0</text></g>
<line x1="242.73" y1="373.0" x2="242.73" y2="370.5" stroke="#222" stroke-width="0.8"/>
<g transform="translate(242.73 381.2) scale(0.82 1)"><text x="0" y="0" font-family='"Liberation Serif", serif' font-size="7.8" font-weight="bold" text-anchor="middle" fill="#222" >20</text></g>
<line x1="267.46" y1="373.0" x2="267.46" y2="370.5" stroke="#222" stroke-width="0.8"/>
<g transform="translate(267.46 381.2) scale(0.82 1)"><text x="0" y="0" font-family='"Liberation Serif", serif' font-size="7.8" font-weight="bold" text-anchor="middle" fill="#222" >40</text></g>
<line x1="292.19" y1="373.0" x2="292.19" y2="370.5" stroke="#222" stroke-width="0.8"/>
<g transform="translate(292.19 381.2) scale(0.82 1)"><text x="0" y="0" font-family='"Liberation Serif", serif' font-size="7.8" font-weight="bold" text-anchor="middle" fill="#222" >60</text></g>
<line x1="316.92" y1="373.0" x2="316.92" y2="370.5" stroke="#222" stroke-width="0.8"/>
<g transform="translate(316.92 381.2) scale(0.82 1)"><text x="0" y="0" font-family='"Liberation Serif", serif' font-size="7.8" font-weight="bold" text-anchor="middle" fill="#222" >80</text></g>
<line x1="341.65" y1="373.0" x2="341.65" y2="370.5" stroke="#222" stroke-width="0.8"/>
<g transform="translate(341.65 381.2) scale(0.82 1)"><text x="0" y="0" font-family='"Liberation Serif", serif' font-size="7.8" font-weight="bold" text-anchor="middle" fill="#222" >100</text></g>
<line x1="230.37" y1="373.0" x2="230.37" y2="371.5" stroke="#222" stroke-width="0.6"/>
<line x1="255.09" y1="373.0" x2="255.09" y2="371.5" stroke="#222" stroke-width="0.6"/>
<line x1="279.82" y1="373.0" x2="279.82" y2="371.5" stroke="#222" stroke-width="0.6"/>
<line x1="304.56" y1="373.0" x2="304.56" y2="371.5" stroke="#222" stroke-width="0.6"/>
<line x1="329.28" y1="373.0" x2="329.28" y2="371.5" stroke="#222" stroke-width="0.6"/>
<text x="203.8" y="316.5" font-family='"Liberation Serif", serif' font-size="9.4" font-weight="bold" text-anchor="middle" fill="#111" transform="rotate(-90 203.8 316.5)" letter-spacing="0.2">Capacity(mAh/g)</text>
<text x="280.5" y="394" font-family='"Liberation Serif", serif' font-size="9" font-weight="bold" text-anchor="middle" fill="#111" >Cycle number</text>
<text x="231" y="271" font-family='"Liberation Serif", serif' font-size="6" font-weight="bold" text-anchor="start" fill="#111" >2.8-4.3 V, 1C/1C, LiNi<tspan font-size="3.5" dy="1.5">0.9</tspan><tspan dy="-1.5">Co</tspan><tspan font-size="3.5" dy="1.5">0.05</tspan><tspan dy="-1.5">Al</tspan><tspan font-size="3.5" dy="1.5">0.05</tspan><tspan dy="-1.5">O</tspan><tspan font-size="3.5" dy="1.5">2</tspan></text>
<text x="342" y="282" font-family='"Liberation Serif", serif' font-size="5.5" font-weight="bold" text-anchor="end" fill="#111" >87.5%</text>
<text x="341.5" y="307.3" font-family='"Liberation Serif", serif' font-size="5.5" font-weight="bold" text-anchor="end" fill="#111" >81.9%</text>
<text x="342" y="317.5" font-family='"Liberation Serif", serif' font-size="5.5" font-weight="bold" text-anchor="end" fill="#111" >97.5%</text>
<path d="M320.7,288 L326.3,313" fill="none" stroke="#222" stroke-width="0.5"/>
<path d="M325,310.5 L326.3,313.3 L327,310.2" fill="none" stroke="#222" stroke-width="0.5"/>
<circle cx="318.2" cy="348" r="1.8" fill="#1fb37a"/>
<text x="325.5" y="350" font-family='"Liberation Serif", serif' font-size="5.8" font-weight="bold" text-anchor="start" fill="#111" xml:space="preserve">1:  7</text>
<circle cx="318.2" cy="355.9" r="1.8" fill="#c77ff0"/>
<text x="325.5" y="357.9" font-family='"Liberation Serif", serif' font-size="5.8" font-weight="bold" text-anchor="start" fill="#111" xml:space="preserve">1:  13</text>
<circle cx="318.2" cy="364.2" r="1.8" fill="#f5761a"/>
<text x="325.5" y="366.2" font-family='"Liberation Serif", serif' font-size="5.8" font-weight="bold" text-anchor="start" fill="#111" xml:space="preserve">1:  20</text>
<line x1="63.54" y1="412.7" x2="63.54" y2="523.0" stroke="#222" stroke-width="1.0" stroke-dasharray="2.8,2.3"/>
<line x1="79.02" y1="412.7" x2="79.02" y2="523.0" stroke="#222" stroke-width="1.0" stroke-dasharray="2.8,2.3"/>
<line x1="94.51" y1="412.7" x2="94.51" y2="523.0" stroke="#222" stroke-width="1.0" stroke-dasharray="2.8,2.3"/>
<line x1="110.00" y1="412.7" x2="110.00" y2="523.0" stroke="#222" stroke-width="1.0" stroke-dasharray="2.8,2.3"/>
<line x1="125.49" y1="412.7" x2="125.49" y2="523.0" stroke="#222" stroke-width="1.0" stroke-dasharray="2.8,2.3"/>
<line x1="140.97" y1="412.7" x2="140.97" y2="523.0" stroke="#222" stroke-width="1.0" stroke-dasharray="2.8,2.3"/>
<line x1="156.46" y1="412.7" x2="156.46" y2="523.0" stroke="#222" stroke-width="1.0" stroke-dasharray="2.8,2.3"/>
<circle cx="49.60" cy="439.46" r="1.65" fill="#1fb37a"/>
<circle cx="52.70" cy="437.09" r="1.65" fill="#1fb37a"/>
<circle cx="55.79" cy="437.05" r="1.65" fill="#1fb37a"/>
<circle cx="58.89" cy="436.95" r="1.65" fill="#1fb37a"/>
<circle cx="61.99" cy="437.09" r="1.65" fill="#1fb37a"/>
<circle cx="65.09" cy="439.17" r="1.65" fill="#1fb37a"/>
<circle cx="68.18" cy="439.80" r="1.65" fill="#1fb37a"/>
<circle cx="71.28" cy="439.49" r="1.65" fill="#1fb37a"/>
<circle cx="74.38" cy="439.15" r="1.65" fill="#1fb37a"/>
<circle cx="77.47" cy="439.36" r="1.65" fill="#1fb37a"/>
<circle cx="80.57" cy="442.71" r="1.65" fill="#1fb37a"/>
<circle cx="83.67" cy="443.26" r="1.65" fill="#1fb37a"/>
<circle cx="86.77" cy="443.01" r="1.65" fill="#1fb37a"/>
<circle cx="89.87" cy="443.17" r="1.65" fill="#1fb37a"/>
<circle cx="92.96" cy="442.96" r="1.65" fill="#1fb37a"/>
<circle cx="96.06" cy="446.90" r="1.65" fill="#1fb37a"/>
<circle cx="99.16" cy="447.29" r="1.65" fill="#1fb37a"/>
<circle cx="102.25" cy="447.15" r="1.65" fill="#1fb37a"/>
<circle cx="105.35" cy="447.11" r="1.65" fill="#1fb37a"/>
<circle cx="108.45" cy="446.66" r="1.65" fill="#1fb37a"/>
<circle cx="111.55" cy="446.76" r="1.65" fill="#1fb37a"/>
<circle cx="114.65" cy="447.19" r="1.65" fill="#1fb37a"/>
<circle cx="117.74" cy="446.74" r="1.65" fill="#1fb37a"/>
<circle cx="120.84" cy="447.21" r="1.65" fill="#1fb37a"/>
<circle cx="123.94" cy="446.87" r="1.65" fill="#1fb37a"/>
<circle cx="127.03" cy="450.30" r="1.65" fill="#1fb37a"/>
<circle cx="130.13" cy="450.39" r="1.65" fill="#1fb37a"/>
<circle cx="133.23" cy="449.77" r="1.65" fill="#1fb37a"/>
<circle cx="136.33" cy="450.24" r="1.65" fill="#1fb37a"/>
<circle cx="139.43" cy="450.23" r="1.65" fill="#1fb37a"/>
<circle cx="142.52" cy="454.10" r="1.65" fill="#1fb37a"/>
<circle cx="145.62" cy="454.18" r="1.65" fill="#1fb37a"/>
<circle cx="148.72" cy="454.59" r="1.65" fill="#1fb37a"/>
<circle cx="151.81" cy="454.11" r="1.65" fill="#1fb37a"/>
<circle cx="154.91" cy="454.41" r="1.65" fill="#1fb37a"/>
<circle cx="158.01" cy="434.49" r="1.65" fill="#1fb37a"/>
<circle cx="161.11" cy="434.83" r="1.65" fill="#1fb37a"/>
<circle cx="164.21" cy="434.31" r="1.65" fill="#1fb37a"/>
<circle cx="167.30" cy="434.49" r="1.65" fill="#1fb37a"/>
<circle cx="170.40" cy="434.29" r="1.65" fill="#1fb37a"/>
<circle cx="49.60" cy="431.77" r="1.65" fill="#c77ff0"/>
<circle cx="52.70" cy="431.75" r="1.65" fill="#c77ff0"/>
<circle cx="55.79" cy="431.99" r="1.65" fill="#c77ff0"/>
<circle cx="58.89" cy="432.15" r="1.65" fill="#c77ff0"/>
<circle cx="61.99" cy="432.33" r="1.65" fill="#c77ff0"/>
<circle cx="65.09" cy="434.06" r="1.65" fill="#c77ff0"/>
<circle cx="68.18" cy="434.20" r="1.65" fill="#c77ff0"/>
<circle cx="71.28" cy="434.00" r="1.65" fill="#c77ff0"/>
<circle cx="74.38" cy="434.27" r="1.65" fill="#c77ff0"/>
<circle cx="77.47" cy="433.99" r="1.65" fill="#c77ff0"/>
<circle cx="80.57" cy="438.30" r="1.65" fill="#c77ff0"/>
<circle cx="83.67" cy="437.93" r="1.65" fill="#c77ff0"/>
<circle cx="86.77" cy="437.98" r="1.65" fill="#c77ff0"/>
<circle cx="89.87" cy="438.20" r="1.65" fill="#c77ff0"/>
<circle cx="92.96" cy="438.12" r="1.65" fill="#c77ff0"/>
<circle cx="96.06" cy="442.42" r="1.65" fill="#c77ff0"/>
<circle cx="99.16" cy="442.76" r="1.65" fill="#c77ff0"/>
<circle cx="102.25" cy="442.51" r="1.65" fill="#c77ff0"/>
<circle cx="105.35" cy="442.33" r="1.65" fill="#c77ff0"/>
<circle cx="108.45" cy="442.71" r="1.65" fill="#c77ff0"/>
<circle cx="111.55" cy="444.10" r="1.65" fill="#c77ff0"/>
<circle cx="114.65" cy="444.18" r="1.65" fill="#c77ff0"/>
<circle cx="117.74" cy="444.07" r="1.65" fill="#c77ff0"/>
<circle cx="120.84" cy="444.42" r="1.65" fill="#c77ff0"/>
<circle cx="123.94" cy="444.60" r="1.65" fill="#c77ff0"/>
<circle cx="127.03" cy="446.30" r="1.65" fill="#c77ff0"/>
<circle cx="130.13" cy="446.30" r="1.65" fill="#c77ff0"/>
<circle cx="133.23" cy="446.55" r="1.65" fill="#c77ff0"/>
<circle cx="136.33" cy="446.80" r="1.65" fill="#c77ff0"/>
<circle cx="139.43" cy="446.72" r="1.65" fill="#c77ff0"/>
<circle cx="142.52" cy="448.62" r="1.65" fill="#c77ff0"/>
<circle cx="145.62" cy="448.86" r="1.65" fill="#c77ff0"/>
<circle cx="148.72" cy="448.39" r="1.65" fill="#c77ff0"/>
<circle cx="151.81" cy="448.65" r="1.65" fill="#c77ff0"/>
<circle cx="154.91" cy="448.92" r="1.65" fill="#c77ff0"/>
<circle cx="158.01" cy="432.75" r="1.65" fill="#c77ff0"/>
<circle cx="161.11" cy="432.96" r="1.65" fill="#c77ff0"/>
<circle cx="164.21" cy="432.55" r="1.65" fill="#c77ff0"/>
<circle cx="167.30" cy="432.57" r="1.65" fill="#c77ff0"/>
<circle cx="170.40" cy="432.85" r="1.65" fill="#c77ff0"/>
<circle cx="49.60" cy="433.86" r="1.65" fill="#f5761a"/>
<circle cx="52.70" cy="433.99" r="1.65" fill="#f5761a"/>
<circle cx="55.79" cy="433.63" r="1.65" fill="#f5761a"/>
<circle cx="58.89" cy="434.04" r="1.65" fill="#f5761a"/>
<circle cx="61.99" cy="433.71" r="1.65" fill="#f5761a"/>
<circle cx="65.09" cy="436.48" r="1.65" fill="#f5761a"/>
<circle cx="68.18" cy="436.69" r="1.65" fill="#f5761a"/>
<circle cx="71.28" cy="436.38" r="1.65" fill="#f5761a"/>
<circle cx="74.38" cy="436.71" r="1.65" fill="#f5761a"/>
<circle cx="77.47" cy="436.43" r="1.65" fill="#f5761a"/>
<circle cx="80.57" cy="441.09" r="1.65" fill="#f5761a"/>
<circle cx="83.67" cy="441.07" r="1.65" fill="#f5761a"/>
<circle cx="86.77" cy="440.84" r="1.65" fill="#f5761a"/>
<circle cx="89.87" cy="440.56" r="1.65" fill="#f5761a"/>
<circle cx="92.96" cy="441.05" r="1.65" fill="#f5761a"/>
<circle cx="96.06" cy="444.94" r="1.65" fill="#f5761a"/>
<circle cx="99.16" cy="444.66" r="1.65" fill="#f5761a"/>
<circle cx="102.25" cy="444.43" r="1.65" fill="#f5761a"/>
<circle cx="105.35" cy="444.69" r="1.65" fill="#f5761a"/>
<circle cx="108.45" cy="444.82" r="1.65" fill="#f5761a"/>
<circle cx="111.55" cy="446.18" r="1.65" fill="#f5761a"/>
<circle cx="114.65" cy="446.83" r="1.65" fill="#f5761a"/>
<circle cx="117.74" cy="446.26" r="1.65" fill="#f5761a"/>
<circle cx="120.84" cy="446.66" r="1.65" fill="#f5761a"/>
<circle cx="123.94" cy="446.76" r="1.65" fill="#f5761a"/>
<circle cx="127.03" cy="450.30" r="1.65" fill="#f5761a"/>
<circle cx="130.13" cy="450.17" r="1.65" fill="#f5761a"/>
<circle cx="133.23" cy="449.81" r="1.65" fill="#f5761a"/>
<circle cx="136.33" cy="450.26" r="1.65" fill="#f5761a"/>
<circle cx="139.43" cy="449.98" r="1.65" fill="#f5761a"/>
<circle cx="142.52" cy="453.46" r="1.65" fill="#f5761a"/>
<circle cx="145.62" cy="453.65" r="1.65" fill="#f5761a"/>
<circle cx="148.72" cy="453.52" r="1.65" fill="#f5761a"/>
<circle cx="151.81" cy="453.87" r="1.65" fill="#f5761a"/>
<circle cx="154.91" cy="453.87" r="1.65" fill="#f5761a"/>
<circle cx="158.01" cy="434.83" r="1.65" fill="#f5761a"/>
<circle cx="161.11" cy="434.49" r="1.65" fill="#f5761a"/>
<circle cx="164.21" cy="434.67" r="1.65" fill="#f5761a"/>
<circle cx="167.30" cy="434.75" r="1.65" fill="#f5761a"/>
<circle cx="170.40" cy="434.56" r="1.65" fill="#f5761a"/>
<rect x="46.3" y="412.7" width="124.00" height="110.30" fill="none" stroke="#222" stroke-width="1.1"/>
<line x1="46.3" y1="522.70" x2="48.8" y2="522.70" stroke="#222" stroke-width="0.8"/>
<g transform="translate(44 525.3) scale(0.82 1)"><text x="0" y="0" font-family='"Liberation Serif", serif' font-size="7.8" font-weight="bold" text-anchor="end" fill="#222" >0</text></g>
<line x1="46.3" y1="500.68" x2="48.8" y2="500.68" stroke="#222" stroke-width="0.8"/>
<g transform="translate(44 503.28) scale(0.82 1)"><text x="0" y="0" font-family='"Liberation Serif", serif' font-size="7.8" font-weight="bold" text-anchor="end" fill="#222" >50</text></g>
<line x1="46.3" y1="478.66" x2="48.8" y2="478.66" stroke="#222" stroke-width="0.8"/>
<g transform="translate(44 481.26) scale(0.82 1)"><text x="0" y="0" font-family='"Liberation Serif", serif' font-size="7.8" font-weight="bold" text-anchor="end" fill="#222" >100</text></g>
<line x1="46.3" y1="456.64" x2="48.8" y2="456.64" stroke="#222" stroke-width="0.8"/>
<g transform="translate(44 459.24) scale(0.82 1)"><text x="0" y="0" font-family='"Liberation Serif", serif' font-size="7.8" font-weight="bold" text-anchor="end" fill="#222" >150</text></g>
<line x1="46.3" y1="434.62" x2="48.8" y2="434.62" stroke="#222" stroke-width="0.8"/>
<g transform="translate(44 437.22) scale(0.82 1)"><text x="0" y="0" font-family='"Liberation Serif", serif' font-size="7.8" font-weight="bold" text-anchor="end" fill="#222" >200</text></g>
<line x1="46.3" y1="412.60" x2="48.8" y2="412.60" stroke="#222" stroke-width="0.8"/>
<g transform="translate(44 415.2) scale(0.82 1)"><text x="0" y="0" font-family='"Liberation Serif", serif' font-size="7.8" font-weight="bold" text-anchor="end" fill="#222" >250</text></g>
<line x1="46.50" y1="523.0" x2="46.50" y2="520.5" stroke="#222" stroke-width="0.8"/>
<g transform="translate(46.5 531.2) scale(0.82 1)"><text x="0" y="0" font-family='"Liberation Serif", serif' font-size="7.8" font-weight="bold" text-anchor="middle" fill="#222" >0</text></g>
<line x1="77.47" y1="523.0" x2="77.47" y2="520.5" stroke="#222" stroke-width="0.8"/>
<g transform="translate(77.47 531.2) scale(0.82 1)"><text x="0" y="0" font-family='"Liberation Serif", serif' font-size="7.8" font-weight="bold" text-anchor="middle" fill="#222" >10</text></g>
<line x1="108.45" y1="523.0" x2="108.45" y2="520.5" stroke="#222" stroke-width="0.8"/>
<g transform="translate(108.45 531.2) scale(0.82 1)"><text x="0" y="0" font-family='"Liberation Serif", serif' font-size="7.8" font-weight="bold" text-anchor="middle" fill="#222" >20</text></g>
<line x1="139.43" y1="523.0" x2="139.43" y2="520.5" stroke="#222" stroke-width="0.8"/>
<g transform="translate(139.43 531.2) scale(0.82 1)"><text x="0" y="0" font-family='"Liberation Serif", serif' font-size="7.8" font-weight="bold" text-anchor="middle" fill="#222" >30</text></g>
<line x1="170.40" y1="523.0" x2="170.40" y2="520.5" stroke="#222" stroke-width="0.8"/>
<g transform="translate(170.4 531.2) scale(0.82 1)"><text x="0" y="0" font-family='"Liberation Serif", serif' font-size="7.8" font-weight="bold" text-anchor="middle" fill="#222" >40</text></g>
<line x1="61.99" y1="523.0" x2="61.99" y2="521.5" stroke="#222" stroke-width="0.6"/>
<line x1="92.96" y1="523.0" x2="92.96" y2="521.5" stroke="#222" stroke-width="0.6"/>
<line x1="123.94" y1="523.0" x2="123.94" y2="521.5" stroke="#222" stroke-width="0.6"/>
<line x1="154.91" y1="523.0" x2="154.91" y2="521.5" stroke="#222" stroke-width="0.6"/>
<g transform="translate(55.1 420.2) scale(0.88 1)"><text x="0" y="0" font-family='"Liberation Serif", serif' font-size="6.8" font-weight="bold" text-anchor="middle" fill="#111" >0.1C</text></g>
<g transform="translate(71.4 420.2) scale(0.88 1)"><text x="0" y="0" font-family='"Liberation Serif", serif' font-size="6.8" font-weight="bold" text-anchor="middle" fill="#111" >0.2C</text></g>
<g transform="translate(86.6 420.2) scale(0.88 1)"><text x="0" y="0" font-family='"Liberation Serif", serif' font-size="6.8" font-weight="bold" text-anchor="middle" fill="#111" >0.5C</text></g>
<g transform="translate(103 420.2) scale(0.88 1)"><text x="0" y="0" font-family='"Liberation Serif", serif' font-size="6.8" font-weight="bold" text-anchor="middle" fill="#111" >1C</text></g>
<g transform="translate(118 420.2) scale(0.88 1)"><text x="0" y="0" font-family='"Liberation Serif", serif' font-size="6.8" font-weight="bold" text-anchor="middle" fill="#111" >2C</text></g>
<g transform="translate(133.8 420.2) scale(0.88 1)"><text x="0" y="0" font-family='"Liberation Serif", serif' font-size="6.8" font-weight="bold" text-anchor="middle" fill="#111" >5C</text></g>
<g transform="translate(148.6 420.2) scale(0.88 1)"><text x="0" y="0" font-family='"Liberation Serif", serif' font-size="6.8" font-weight="bold" text-anchor="middle" fill="#111" >10C</text></g>
<g transform="translate(164.4 420.2) scale(0.88 1)"><text x="0" y="0" font-family='"Liberation Serif", serif' font-size="6.8" font-weight="bold" text-anchor="middle" fill="#111" >0.1C</text></g>
<text x="31.8" y="463.5" font-family='"Liberation Serif", serif' font-size="9.4" font-weight="bold" text-anchor="middle" fill="#111" transform="rotate(-90 31.8 463.5)" letter-spacing="0.3">Capacity(mAh/g)</text>
<text x="108.5" y="545" font-family='"Liberation Serif", serif' font-size="9" font-weight="bold" text-anchor="middle" fill="#111" >Cycle number</text>
<circle cx="145.6" cy="500" r="1.7" fill="#1fb37a"/>
<text x="153" y="502" font-family='"Liberation Serif", serif' font-size="5.8" font-weight="bold" text-anchor="start" fill="#111" xml:space="preserve">1:  7</text>
<circle cx="145.6" cy="508.5" r="1.7" fill="#c77ff0"/>
<text x="153" y="510.5" font-family='"Liberation Serif", serif' font-size="5.8" font-weight="bold" text-anchor="start" fill="#111" xml:space="preserve">1:  13</text>
<circle cx="145.6" cy="517.6" r="1.7" fill="#f5761a"/>
<text x="153" y="519.6" font-family='"Liberation Serif", serif' font-size="5.8" font-weight="bold" text-anchor="start" fill="#111" xml:space="preserve">1:  20</text>
<path d="M231.10,500.00 L264.13,499.69 L277.34,499.37 L283.95,498.59 L285.93,493.75 L286.59,476.56 L286.92,466.40 L287.58,478.12 L288.57,487.50 L290.55,492.19 L293.86,494.06 L297.16,495.00 L303.77,495.94 L310.37,496.56 L316.98,497.19 L322.26,494.53 L323.58,489.84 L324.91,494.53 L328.21,497.66 L330.19,499.06" fill="none" stroke="#c77ff0" stroke-width="1.0" stroke-linejoin="round"/>
<path d="M330.19,499.06 L326.89,501.25 L323.58,505.47 L321.60,510.94 L320.61,511.72 L319.62,503.91 L316.98,503.13 L310.37,502.66 L303.77,502.97 L297.16,503.44 L291.88,504.06 L287.25,503.59 L277.34,502.34 L264.13,500.94 L250.92,500.16" fill="none" stroke="#c77ff0" stroke-width="1.0" stroke-linejoin="round"/>
<path d="M231.10,500.00 L264.13,499.69 L277.34,499.37 L283.95,498.75 L289.23,496.87 L291.88,492.19 L293.53,481.24 L294.19,489.06 L294.85,465.61 L295.31,474.99 L295.71,423.41 L296.10,468.74 L296.50,481.24 L296.83,471.87 L297.16,485.93 L298.48,492.19 L301.12,494.53 L307.07,496.09 L313.68,497.19 L318.30,497.66 L322.26,495.31 L323.58,491.40 L324.91,495.31 L328.21,498.12 L330.19,499.06" fill="none" stroke="#1fb37a" stroke-width="1.0" stroke-linejoin="round"/>
<path d="M330.19,499.06 L326.89,501.56 L323.58,506.25 L321.60,514.07 L320.61,515.63 L319.62,504.69 L316.98,503.13 L310.37,502.81 L303.77,503.13 L297.16,503.91 L291.88,504.69 L287.25,503.91 L277.34,502.34 L264.13,500.94 L250.92,500.16" fill="none" stroke="#1fb37a" stroke-width="1.0" stroke-linejoin="round"/>
<path d="M231.10,500.00 L264.13,499.69 L277.34,499.37 L283.95,498.75 L289.23,496.09 L290.55,485.93 L291.21,471.87 L291.88,481.24 L292.40,460.93 L292.87,476.56 L293.53,464.05 L293.99,482.81 L294.52,473.43 L295.18,485.93 L296.50,489.06 L298.48,492.97 L303.77,495.31 L310.37,496.41 L316.98,497.19 L322.26,495.00 L323.58,490.62 L324.91,494.84 L328.21,497.66 L331.51,499.22" fill="none" stroke="#f5761a" stroke-width="1.0" stroke-linejoin="round"/>
<path d="M331.51,499.22 L326.89,501.88 L323.58,505.47 L321.60,510.16 L320.61,510.94 L319.62,504.69 L316.98,503.44 L310.37,502.81 L303.77,503.13 L297.16,503.75 L291.88,504.38 L287.25,503.75 L277.34,502.50 L264.13,500.94 L244.31,500.08 L231.10,500.00" fill="none" stroke="#f5761a" stroke-width="1.0" stroke-linejoin="round"/>
<rect x="218.2" y="414.3" width="124.60" height="108.70" fill="none" stroke="#222" stroke-width="1.1"/>
<line x1="218.2" y1="429.66" x2="220.7" y2="429.66" stroke="#222" stroke-width="0.8"/>
<g transform="translate(216.4 432.26) scale(0.8 1)"><text x="0" y="0" font-family='"Liberation Serif", serif' font-size="7.8" font-weight="bold" text-anchor="end" fill="#222" >4500</text></g>
<line x1="218.2" y1="453.11" x2="220.7" y2="453.11" stroke="#222" stroke-width="0.8"/>
<g transform="translate(216.4 455.71) scale(0.8 1)"><text x="0" y="0" font-family='"Liberation Serif", serif' font-size="7.8" font-weight="bold" text-anchor="end" fill="#222" >3000</text></g>
<line x1="218.2" y1="476.56" x2="220.7" y2="476.56" stroke="#222" stroke-width="0.8"/>
<g transform="translate(216.4 479.16) scale(0.8 1)"><text x="0" y="0" font-family='"Liberation Serif", serif' font-size="7.8" font-weight="bold" text-anchor="end" fill="#222" >1500</text></g>
<line x1="218.2" y1="500.00" x2="220.7" y2="500.00" stroke="#222" stroke-width="0.8"/>
<g transform="translate(216.4 502.6) scale(0.8 1)"><text x="0" y="0" font-family='"Liberation Serif", serif' font-size="7.8" font-weight="bold" text-anchor="end" fill="#222" >0</text></g>
<line x1="218.2" y1="523.45" x2="220.7" y2="523.45" stroke="#222" stroke-width="0.8"/>
<g transform="translate(216.4 526.05) scale(0.8 1)"><text x="0" y="0" font-family='"Liberation Serif", serif' font-size="7.8" font-weight="bold" text-anchor="end" fill="#222" >-1500</text></g>
<line x1="231.10" y1="523.0" x2="231.10" y2="520.5" stroke="#222" stroke-width="0.8"/>
<g transform="translate(231.1 530.3) scale(0.8 1)"><text x="0" y="0" font-family='"Liberation Serif", serif' font-size="7.8" font-weight="bold" text-anchor="middle" fill="#222" >2.8</text></g>
<line x1="257.52" y1="523.0" x2="257.52" y2="520.5" stroke="#222" stroke-width="0.8"/>
<g transform="translate(257.52 530.3) scale(0.8 1)"><text x="0" y="0" font-family='"Liberation Serif", serif' font-size="7.8" font-weight="bold" text-anchor="middle" fill="#222" >3.2</text></g>
<line x1="283.95" y1="523.0" x2="283.95" y2="520.5" stroke="#222" stroke-width="0.8"/>
<g transform="translate(283.95 530.3) scale(0.8 1)"><text x="0" y="0" font-family='"Liberation Serif", serif' font-size="7.8" font-weight="bold" text-anchor="middle" fill="#222" >3.6</text></g>
<line x1="310.37" y1="523.0" x2="310.37" y2="520.5" stroke="#222" stroke-width="0.8"/>
<g transform="translate(310.37 530.3) scale(0.8 1)"><text x="0" y="0" font-family='"Liberation Serif", serif' font-size="7.8" font-weight="bold" text-anchor="middle" fill="#222" >4.0</text></g>
<line x1="336.80" y1="523.0" x2="336.80" y2="520.5" stroke="#222" stroke-width="0.8"/>
<g transform="translate(336.8 530.3) scale(0.8 1)"><text x="0" y="0" font-family='"Liberation Serif", serif' font-size="7.8" font-weight="bold" text-anchor="middle" fill="#222" >4.4</text></g>
<text x="201.8" y="466" font-family='"Liberation Serif", serif' font-size="7.2" font-weight="bold" text-anchor="middle" fill="#222" transform="rotate(-90 201.8 466)" letter-spacing="0.3">dQm/dV (mAh/V.g)</text>
<g transform="translate(282.3 543.5) scale(0.88 1)"><text x="0" y="0" font-family='"Liberation Serif", serif' font-size="7.6" font-weight="bold" text-anchor="middle" fill="#111" >Potential (V vs. Li/Li<tspan dy="-2.5" font-size="4.5">+</tspan><tspan dy="2.5">)</tspan></text></g>
<g transform="translate(226 423.3) scale(0.84 1)"><text x="0" y="0" font-family='"Liberation Serif", serif' font-size="8" font-weight="bold" text-anchor="start" fill="#111" >2.8-4.3 V</text></g>
<g transform="translate(295.6 422.8) scale(0.86 1)"><text x="0" y="0" font-family='"Liberation Serif", serif' font-size="7.8" font-weight="bold" text-anchor="middle" fill="#111" >H1-M</text></g>
<g transform="translate(311.8 491.8) scale(0.86 1)"><text x="0" y="0" font-family='"Liberation Serif", serif' font-size="7.4" font-weight="bold" text-anchor="middle" fill="#111" >M-H2</text></g>
<g transform="translate(329.3 486.8) scale(0.86 1)"><text x="0" y="0" font-family='"Liberation Serif", serif' font-size="7.4" font-weight="bold" text-anchor="middle" fill="#111" >H2-H3</text></g>
<line x1="232.5" y1="473.6" x2="248.2" y2="473.6" stroke="#1fb37a" stroke-width="1.2"/>
<text x="249.5" y="475.9" font-family='"Liberation Serif", serif' font-size="6.6" font-weight="bold" text-anchor="start" fill="#111" >1:</text>
<text x="259.4" y="475.9" font-family='"Liberation Serif", serif' font-size="6.6" font-weight="bold" text-anchor="start" fill="#111" >7</text>
<line x1="232.5" y1="482.9" x2="248.2" y2="482.9" stroke="#c77ff0" stroke-width="1.2"/>
<text x="249.5" y="485.2" font-family='"Liberation Serif", serif' font-size="6.6" font-weight="bold" text-anchor="start" fill="#111" >1:</text>
<text x="259.4" y="485.2" font-family='"Liberation Serif", serif' font-size="6.6" font-weight="bold" text-anchor="start" fill="#111" >13</text>
<line x1="232.5" y1="491.6" x2="248.2" y2="491.6" stroke="#f5761a" stroke-width="1.2"/>
<text x="249.5" y="493.9" font-family='"Liberation Serif", serif' font-size="6.6" font-weight="bold" text-anchor="start" fill="#111" >1:</text>
<text x="259.4" y="493.9" font-family='"Liberation Serif", serif' font-size="6.6" font-weight="bold" text-anchor="start" fill="#111" >20</text>
<text x="3.8" y="267.2" font-family='"Liberation Serif", serif' font-size="8.6" font-weight="bold" text-anchor="start" fill="#111" >(j)</text>
<text x="182.6" y="267.2" font-family='"Liberation Serif", serif' font-size="8.6" font-weight="bold" text-anchor="start" fill="#111" >(k)</text>
<text x="3.8" y="417.2" font-family='"Liberation Serif", serif' font-size="8.6" font-weight="bold" text-anchor="start" fill="#111" >(l)</text>
<text x="183" y="417.2" font-family='"Liberation Serif", serif' font-size="8.3" font-weight="bold" text-anchor="start" fill="#111" >(m)</text>
</svg>
</body></html>
